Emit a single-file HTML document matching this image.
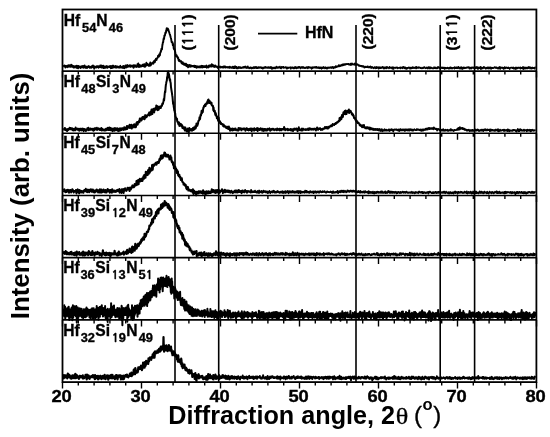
<!DOCTYPE html>
<html><head><meta charset="utf-8"><title>XRD</title>
<style>html,body{margin:0;padding:0;background:#fff;width:550px;height:437px;overflow:hidden}svg{display:block}.s{stroke:#000;stroke-width:0.35px}</style>
</head><body>
<svg width="550" height="437" viewBox="0 0 550 437" font-family="'Liberation Sans', Arial, sans-serif" font-weight="bold"><path d="M63.3 66.0L63.6 66.3 63.9 65.9 64.2 65.5 64.5 65.9 64.8 65.6 65.1 66.4 65.4 67.5 65.7 66.1 66.0 66.0 66.3 66.9 66.6 66.8 66.9 66.6 67.2 65.8 67.5 66.6 67.8 67.2 68.1 65.5 68.4 66.3 68.7 65.1 69.0 65.6 69.3 65.2 69.6 66.5 69.9 65.7 70.2 66.9 70.5 66.8 70.8 66.6 71.1 64.7 71.4 66.3 71.7 66.7 72.0 66.8 72.3 65.5 72.6 66.4 72.9 66.0 73.2 66.1 73.5 67.6 73.8 66.1 74.1 66.8 74.4 67.5 74.7 66.3 75.0 66.7 75.3 66.9 75.6 66.9 75.9 65.9 76.2 66.9 76.5 67.9 76.8 65.6 77.1 67.5 77.4 66.9 77.7 66.3 78.0 68.4 78.3 67.4 78.6 65.9 78.9 66.9 79.2 67.3 79.5 66.7 79.8 67.4 80.1 66.8 80.4 67.4 80.7 68.0 81.0 66.4 81.3 67.0 81.6 66.5 81.9 67.0 82.2 66.0 82.5 66.4 82.8 66.7 83.1 67.6 83.4 67.8 83.7 65.9 84.0 66.3 84.3 67.4 84.6 65.4 84.9 66.6 85.2 66.8 85.5 67.9 85.8 67.5 86.1 66.7 86.4 66.6 86.7 66.7 87.0 68.1 87.3 66.6 87.6 66.7 87.9 67.2 88.2 66.9 88.5 66.8 88.8 66.1 89.1 66.9 89.4 66.6 89.7 67.9 90.0 67.5 90.3 66.9 90.6 67.5 90.9 66.7 91.2 67.8 91.5 67.0 91.8 67.4 92.1 66.0 92.4 67.2 92.7 65.7 93.0 65.4 93.3 66.7 93.6 66.3 93.9 67.1 94.2 68.7 94.5 66.4 94.8 66.5 95.1 67.1 95.4 67.4 95.7 66.9 96.0 66.8 96.3 67.5 96.6 67.4 96.9 66.2 97.2 66.9 97.5 67.0 97.8 66.2 98.1 67.2 98.4 66.3 98.7 67.7 99.0 67.1 99.3 67.1 99.6 66.6 99.9 66.9 100.2 65.5 100.5 66.1 100.8 67.3 101.1 65.4 101.4 67.6 101.7 65.7 102.0 67.6 102.3 66.4 102.6 67.6 102.9 67.1 103.2 65.8 103.5 67.9 103.8 68.1 104.1 66.9 104.4 66.8 104.7 66.9 105.0 66.3 105.3 67.8 105.6 66.6 105.9 67.0 106.2 66.4 106.5 66.5 106.8 66.0 107.1 67.9 107.4 66.9 107.7 67.7 108.0 67.0 108.3 66.5 108.6 66.7 108.9 66.6 109.2 67.0 109.5 66.7 109.8 66.7 110.1 65.9 110.4 66.4 110.7 68.2 111.0 66.5 111.3 66.2 111.6 67.2 111.9 68.0 112.2 65.9 112.5 66.8 112.8 66.5 113.1 65.6 113.4 67.5 113.7 66.9 114.0 67.0 114.3 66.4 114.6 67.3 114.9 66.5 115.2 66.8 115.5 66.1 115.8 66.0 116.1 67.9 116.4 66.5 116.7 67.2 117.0 66.9 117.3 66.6 117.6 66.5 117.9 67.4 118.2 66.7 118.5 66.8 118.8 66.9 119.1 67.8 119.4 67.4 119.7 67.2 120.0 66.5 120.3 65.8 120.6 67.6 120.9 67.6 121.2 66.8 121.5 67.3 121.8 67.5 122.1 67.5 122.4 67.6 122.7 66.5 123.0 68.0 123.3 65.9 123.6 67.5 123.9 67.2 124.2 67.5 124.5 68.2 124.8 67.9 125.1 65.9 125.4 65.4 125.7 67.4 126.0 65.9 126.3 66.7 126.6 67.4 126.9 65.4 127.2 65.0 127.5 66.9 127.8 66.7 128.1 66.4 128.4 66.6 128.7 65.9 129.0 65.4 129.3 66.4 129.6 65.8 129.9 65.2 130.2 66.9 130.5 66.4 130.8 66.8 131.1 65.7 131.4 65.9 131.7 65.6 132.0 65.7 132.3 66.5 132.6 65.7 132.9 66.6 133.2 66.6 133.5 67.9 133.8 65.2 134.1 67.0 134.4 66.2 134.7 66.2 135.0 65.1 135.3 65.8 135.6 66.7 135.9 66.1 136.2 66.2 136.5 65.9 136.8 67.0 137.1 66.0 137.4 64.3 137.7 65.5 138.0 64.4 138.3 63.4 138.6 65.5 138.9 67.0 139.2 65.9 139.5 64.9 139.8 65.1 140.1 66.7 140.4 65.9 140.7 65.8 141.0 65.7 141.3 65.8 141.6 66.4 141.9 66.1 142.2 65.8 142.5 64.7 142.8 66.0 143.1 65.0 143.4 66.4 143.7 64.4 144.0 65.3 144.3 65.4 144.6 64.2 144.9 66.8 145.2 66.5 145.5 64.8 145.8 65.8 146.1 65.5 146.4 62.8 146.7 65.3 147.0 64.9 147.3 65.0 147.6 63.9 147.9 64.6 148.2 64.6 148.5 65.8 148.8 64.9 149.1 64.6 149.4 65.9 149.7 63.9 150.0 63.9 150.3 62.5 150.6 65.5 150.9 64.8 151.2 64.6 151.5 64.2 151.8 63.5 152.1 63.4 152.4 62.7 152.7 62.5 153.0 62.5 153.3 63.7 153.6 62.5 153.9 61.7 154.2 60.9 154.5 60.6 154.8 62.4 155.1 61.1 155.4 60.4 155.7 59.7 156.0 58.6 156.3 59.3 156.6 59.9 156.9 58.4 157.2 58.2 157.5 57.8 157.8 57.7 158.1 55.6 158.4 56.4 158.7 55.3 159.0 56.5 159.3 54.3 159.6 55.1 159.9 55.4 160.2 52.9 160.5 51.9 160.8 51.9 161.1 50.8 161.4 48.8 161.7 49.0 162.0 49.3 162.3 45.7 162.6 44.3 162.9 42.1 163.2 42.1 163.5 39.2 163.8 38.1 164.1 39.0 164.4 35.4 164.7 35.9 165.0 35.1 165.3 32.8 165.6 32.3 165.9 32.9 166.2 30.2 166.5 29.2 166.8 28.1 167.1 29.1 167.4 30.4 167.7 30.1 168.0 28.8 168.3 29.4 168.6 30.4 168.9 31.8 169.2 32.1 169.5 33.4 169.8 34.4 170.1 35.0 170.4 36.3 170.7 37.5 171.0 38.3 171.3 39.9 171.6 42.2 171.9 42.1 172.2 42.6 172.5 42.2 172.8 45.1 173.1 44.0 173.4 45.5 173.7 48.4 174.0 49.2 174.3 49.4 174.6 49.1 174.9 51.1 175.2 51.8 175.5 53.8 175.8 56.0 176.1 55.1 176.4 55.0 176.7 55.3 177.0 56.7 177.3 57.1 177.6 56.8 177.9 58.4 178.2 57.8 178.5 60.1 178.8 60.4 179.1 60.9 179.4 60.0 179.7 61.2 180.0 61.0 180.3 61.2 180.6 61.5 180.9 61.1 181.2 61.2 181.5 63.1 181.8 62.6 182.1 63.1 182.4 63.9 182.7 62.1 183.0 62.9 183.3 63.8 183.6 64.1 183.9 63.7 184.2 64.9 184.5 64.4 184.8 63.6 185.1 63.9 185.4 65.3 185.7 65.1 186.0 63.7 186.3 66.0 186.6 65.6 186.9 66.2 187.2 65.1 187.5 65.3 187.8 64.8 188.1 67.3 188.4 65.6 188.7 66.8 189.0 65.5 189.3 66.0 189.6 65.0 189.9 65.8 190.2 66.6 190.5 65.4 190.8 66.8 191.1 66.4 191.4 65.6 191.7 66.0 192.0 66.0 192.3 66.3 192.6 66.1 192.9 65.9 193.2 66.3 193.5 65.9 193.8 65.8 194.1 66.5 194.4 67.1 194.7 65.7 195.0 66.7 195.3 66.3 195.6 66.1 195.9 67.2 196.2 66.4 196.5 67.7 196.8 66.3 197.1 67.0 197.4 66.7 197.7 66.4 198.0 67.2 198.3 66.8 198.6 67.2 198.9 66.9 199.2 66.3 199.5 66.8 199.8 66.9 200.1 67.5 200.4 66.4 200.7 66.9 201.0 65.9 201.3 67.3 201.6 66.3 201.9 65.8 202.2 66.8 202.5 67.5 202.8 66.0 203.1 66.2 203.4 66.4 203.7 66.2 204.0 67.0 204.3 66.3 204.6 66.3 204.9 67.1 205.2 66.3 205.5 66.9 205.8 66.1 206.1 66.0 206.4 65.6 206.7 67.7 207.0 66.4 207.3 66.7 207.6 66.5 207.9 66.6 208.2 66.5 208.5 67.4 208.8 65.7 209.1 65.4 209.4 65.6 209.7 65.4 210.0 66.5 210.3 66.4 210.6 65.4 210.9 65.1 211.2 65.7 211.5 66.6 211.8 64.2 212.1 66.1 212.4 65.2 212.7 66.4 213.0 65.3 213.3 65.8 213.6 65.2 213.9 65.6 214.2 67.0 214.5 66.8 214.8 66.2 215.1 66.1 215.4 65.6 215.7 66.5 216.0 66.8 216.3 66.9 216.6 66.9 216.9 66.4 217.2 67.0 217.5 67.0 217.8 67.8 218.1 68.1 218.4 67.0 218.7 66.7 219.0 67.1 219.3 66.8 219.6 66.8 219.9 67.2 220.2 66.6 220.5 67.5 220.8 67.2 221.1 67.4 221.4 67.2 221.7 66.9 222.0 66.8 222.3 67.2 222.6 67.0 222.9 67.5 223.2 67.3 223.5 66.6 223.8 67.4 224.1 66.7 224.4 67.1 224.7 67.2 225.0 66.3 225.3 67.5 225.6 67.5 225.9 67.4 226.2 67.2 226.5 67.3 226.8 67.0 227.1 67.3 227.4 67.2 227.7 67.5 228.0 66.9 228.3 67.6 228.6 67.6 228.9 67.4 229.2 67.3 229.5 67.8 229.8 66.6 230.1 67.7 230.4 67.6 230.7 67.6 231.0 67.7 231.3 67.2 231.6 67.4 231.9 67.8 232.2 67.7 232.5 67.6 232.8 66.7 233.1 67.8 233.4 68.1 233.7 68.0 234.0 67.6 234.3 66.7 234.6 68.0 234.9 67.4 235.2 66.3 235.5 67.7 235.8 66.8 236.1 66.9 236.4 67.2 236.7 68.2 237.0 67.3 237.3 67.7 237.6 68.4 237.9 68.3 238.2 67.5 238.5 67.4 238.8 66.9 239.1 67.2 239.4 67.8 239.7 67.7 240.0 67.6" fill="none" stroke="#000" stroke-width="1.90" stroke-linejoin="round"/>
<path d="M239.7 67.7L240.0 67.6 240.3 68.0 240.6 67.2 240.9 67.5 241.2 67.9 241.5 67.8 241.8 68.1 242.1 67.7 242.4 67.4 242.7 67.7 243.0 67.1 243.3 66.8 243.6 67.8 243.9 67.5 244.2 67.7 244.5 66.7 244.8 67.4 245.1 67.3 245.4 67.2 245.7 66.5 246.0 67.4 246.3 68.0 246.6 67.8 246.9 67.3 247.2 67.6 247.5 67.9 247.8 66.3 248.1 67.5 248.4 67.8 248.7 67.9 249.0 68.4 249.3 68.1 249.6 67.7 249.9 67.7 250.2 68.0 250.5 67.3 250.8 67.6 251.1 68.0 251.4 68.5 251.7 67.5 252.0 67.6 252.3 67.7 252.6 68.2 252.9 67.6 253.2 68.3 253.5 67.1 253.8 67.5 254.1 67.5 254.4 68.0 254.7 68.1 255.0 66.9 255.3 67.2 255.6 67.8 255.9 67.3 256.2 66.9 256.5 68.1 256.8 67.8 257.1 67.8 257.4 67.4 257.7 68.1 258.0 67.5 258.3 68.1 258.6 67.2 258.9 67.2 259.2 67.7 259.5 67.3 259.8 67.9 260.1 67.7 260.4 67.2 260.7 67.7 261.0 67.5 261.3 68.0 261.6 67.3 261.9 67.4 262.2 68.2 262.5 68.6 262.8 68.5 263.1 67.7 263.4 67.7 263.7 68.3 264.0 67.6 264.3 67.2 264.6 67.7 264.9 67.8 265.2 67.3 265.5 66.9 265.8 67.0 266.1 67.9 266.4 67.3 266.7 67.6 267.0 67.7 267.3 67.9 267.6 67.5 267.9 67.9 268.2 67.2 268.5 67.5 268.8 67.2 269.1 68.1 269.4 67.6 269.7 67.3 270.0 67.5 270.3 67.5 270.6 68.0 270.9 66.9 271.2 67.2 271.5 67.5 271.8 68.8 272.1 68.1 272.4 67.6 272.7 68.0 273.0 68.6 273.3 67.5 273.6 67.5 273.9 68.2 274.2 67.9 274.5 68.0 274.8 67.4 275.1 68.5 275.4 68.4 275.7 67.9 276.0 68.0 276.3 66.7 276.6 67.9 276.9 67.6 277.2 67.9 277.5 68.0 277.8 67.5 278.1 66.9 278.4 67.8 278.7 67.3 279.0 67.5 279.3 67.4 279.6 67.5 279.9 66.6 280.2 68.2 280.5 67.8 280.8 68.2 281.1 68.5 281.4 67.7 281.7 66.9 282.0 67.3 282.3 67.1 282.6 67.4 282.9 67.7 283.2 66.8 283.5 67.8 283.8 67.0 284.1 67.8 284.4 67.6 284.7 67.5 285.0 67.6 285.3 67.4 285.6 67.4 285.9 66.9 286.2 67.7 286.5 68.5 286.8 68.6 287.1 68.3 287.4 68.0 287.7 67.4 288.0 68.3 288.3 67.6 288.6 67.6 288.9 67.5 289.2 67.7 289.5 67.5 289.8 67.6 290.1 67.2 290.4 67.5 290.7 68.7 291.0 67.6 291.3 67.6 291.6 67.9 291.9 68.0 292.2 67.2 292.5 67.6 292.8 68.1 293.1 67.8 293.4 67.7 293.7 68.4 294.0 67.4 294.3 67.7 294.6 67.5 294.9 68.3 295.2 66.8 295.5 67.4 295.8 67.4 296.1 68.0 296.4 68.0 296.7 68.3 297.0 67.0 297.3 68.0 297.6 67.6 297.9 67.4 298.2 67.9 298.5 67.3 298.8 66.8 299.1 67.5 299.4 67.0 299.7 67.4 300.0 67.9 300.3 67.8 300.6 68.4 300.9 67.6 301.2 67.0 301.5 67.4 301.8 67.3 302.1 67.2 302.4 67.9 302.7 67.4 303.0 66.8 303.3 68.0 303.6 67.6 303.9 67.8 304.2 67.7 304.5 68.0 304.8 67.7 305.1 68.2 305.4 67.9 305.7 67.9 306.0 67.9 306.3 67.0 306.6 67.6 306.9 67.6 307.2 67.8 307.5 67.1 307.8 68.4 308.1 67.7 308.4 67.2 308.7 66.9 309.0 67.6 309.3 67.7 309.6 67.4 309.9 67.7 310.2 67.4 310.5 67.9 310.8 67.4 311.1 67.7 311.4 68.1 311.7 68.8 312.0 67.3 312.3 67.5 312.6 67.3 312.9 68.0 313.2 67.2 313.5 67.5 313.8 67.7 314.1 67.3 314.4 67.3 314.7 67.5 315.0 66.8 315.3 67.1 315.6 67.5 315.9 67.8 316.2 67.6 316.5 66.9 316.8 67.5 317.1 68.0 317.4 67.9 317.7 67.7 318.0 67.3 318.3 68.0 318.6 67.4 318.9 67.2 319.2 67.3 319.5 68.3 319.8 67.8 320.1 68.2 320.4 67.5 320.7 68.1 321.0 67.4 321.3 67.6 321.6 68.8 321.9 68.0 322.2 67.5 322.5 67.7 322.8 67.8 323.1 68.2 323.4 67.5 323.7 66.9 324.0 67.6 324.3 67.7 324.6 67.7 324.9 68.3 325.2 67.8 325.5 68.1 325.8 67.2 326.1 68.1 326.4 68.6 326.7 68.0 327.0 67.8 327.3 67.8 327.6 68.5 327.9 67.3 328.2 67.7 328.5 67.9 328.8 68.0 329.1 67.5 329.4 67.8 329.7 67.6 330.0 67.8 330.3 67.6 330.6 67.2 330.9 67.7 331.2 68.0 331.5 67.2 331.8 67.5 332.1 67.8 332.4 67.0 332.7 67.5 333.0 66.9 333.3 67.8 333.6 68.3 333.9 68.1 334.2 67.0 334.5 67.4 334.8 67.0 335.1 67.0 335.4 67.5 335.7 66.2 336.0 67.1 336.3 66.6 336.6 67.1 336.9 66.5 337.2 66.1 337.5 66.4 337.8 66.6 338.1 66.2 338.4 66.3 338.7 65.8 339.0 65.0 339.3 66.3 339.6 66.1 339.9 65.8 340.2 65.6 340.5 66.0 340.8 65.2 341.1 65.0 341.4 65.2 341.7 65.7 342.0 64.5 342.3 65.5 342.6 64.6 342.9 64.3 343.2 65.3 343.5 64.6 343.8 64.1 344.1 64.4 344.4 64.9 344.7 65.0 345.0 64.2 345.3 64.6 345.6 64.6 345.9 64.0 346.2 64.4 346.5 64.2 346.8 63.9 347.1 63.9 347.4 64.1 347.7 64.1 348.0 63.8 348.3 63.8 348.6 64.5 348.9 64.1 349.2 64.4 349.5 64.5 349.8 64.3 350.1 65.0 350.4 63.7 350.7 64.4 351.0 63.9 351.3 64.9 351.6 64.8 351.9 63.3 352.2 63.7 352.5 64.4 352.8 64.5 353.1 64.5 353.4 64.2 353.7 64.5 354.0 64.6 354.3 64.3 354.6 64.8 354.9 63.4 355.2 64.7 355.5 64.0 355.8 64.9 356.1 64.4 356.4 64.2 356.7 64.8 357.0 64.3 357.3 64.4 357.6 64.2 357.9 64.9 358.2 65.2 358.5 65.6 358.8 65.2 359.1 65.8 359.4 65.4 359.7 65.5 360.0 65.9 360.3 66.2 360.6 65.7 360.9 65.8 361.2 65.9 361.5 66.1 361.8 65.8 362.1 66.7 362.4 66.1 362.7 66.5 363.0 66.0 363.3 66.6 363.6 66.7 363.9 66.4 364.2 67.5 364.5 66.9 364.8 67.5 365.1 67.2 365.4 66.6 365.7 66.7 366.0 67.1 366.3 67.0 366.6 67.1 366.9 67.0 367.2 66.4 367.5 67.1 367.8 66.3 368.1 67.4 368.4 67.0 368.7 67.0 369.0 67.2 369.3 67.5 369.6 66.8 369.9 66.6 370.2 66.9 370.5 66.5 370.8 67.0 371.1 68.1 371.4 67.0 371.7 67.7 372.0 66.9 372.3 67.6 372.6 67.4 372.9 67.5 373.2 67.8 373.5 68.3 373.8 67.6 374.1 67.6 374.4 67.1 374.7 67.8 375.0 67.5 375.3 67.9 375.6 67.6 375.9 68.3 376.2 66.8 376.5 67.5 376.8 68.0 377.1 67.5 377.4 67.3 377.7 67.5 378.0 67.1 378.3 67.7 378.6 68.7 378.9 68.2 379.2 67.2 379.5 67.3 379.8 67.5 380.1 68.1 380.4 67.4 380.7 67.4 381.0 68.1 381.3 68.1 381.6 67.6 381.9 67.3 382.2 67.1 382.5 67.4 382.8 66.8 383.1 68.1 383.4 67.5 383.7 68.0 384.0 68.6 384.3 68.3 384.6 67.3 384.9 68.1 385.2 68.3 385.5 67.5 385.8 67.4 386.1 67.7 386.4 67.1 386.7 68.4 387.0 66.8 387.3 67.3 387.6 67.7 387.9 67.7 388.2 67.9 388.5 67.9 388.8 67.7 389.1 68.3 389.4 66.9 389.7 67.8 390.0 67.5 390.3 67.9 390.6 67.9 390.9 67.4 391.2 67.5 391.5 68.1 391.8 68.0 392.1 67.5 392.4 68.7 392.7 68.8 393.0 67.2 393.3 67.9 393.6 68.9 393.9 68.1 394.2 67.9 394.5 67.7 394.8 67.6 395.1 67.7 395.4 67.6 395.7 68.1 396.0 67.6 396.3 67.6 396.6 67.3 396.9 67.8 397.2 67.4 397.5 67.7 397.8 68.3 398.1 68.0 398.4 68.0 398.7 68.0 399.0 67.8 399.3 67.8 399.6 67.7 399.9 68.1 400.2 67.4 400.5 68.4 400.8 67.8 401.1 67.5 401.4 67.6 401.7 67.5 402.0 67.9 402.3 67.5 402.6 68.3 402.9 67.5 403.2 66.9 403.5 67.5 403.8 67.0 404.1 67.8 404.4 68.3 404.7 68.1 405.0 67.3 405.3 67.5 405.6 68.6 405.9 68.0 406.2 67.8 406.5 68.3 406.8 68.9 407.1 68.4 407.4 67.9 407.7 68.0 408.0 68.1 408.3 67.6 408.6 67.4 408.9 67.9 409.2 67.4 409.5 67.8 409.8 67.9 410.1 68.8 410.4 67.5 410.7 67.8 411.0 67.8 411.3 68.0 411.6 68.3 411.9 67.6 412.2 67.5 412.5 67.1 412.8 67.4 413.1 68.1 413.4 67.9 413.7 67.4 414.0 67.7 414.3 67.8 414.6 68.0 414.9 67.6 415.2 67.7 415.5 67.1 415.8 67.4 416.1 68.5 416.4 66.9 416.7 67.7 417.0 67.9 417.3 67.7 417.6 67.5 417.9 67.8 418.2 67.8 418.5 67.8 418.8 67.1 419.1 67.8 419.4 67.5 419.7 67.6 420.0 67.9 420.3 68.1 420.6 68.2 420.9 67.6 421.2 68.2 421.5 68.3 421.8 68.3 422.1 68.4 422.4 67.8 422.7 67.8 423.0 68.2 423.3 67.3 423.6 67.9 423.9 67.6 424.2 67.7 424.5 67.1 424.8 67.5 425.1 67.8 425.4 68.2 425.7 68.3 426.0 67.8 426.3 67.8 426.6 67.5 426.9 68.0 427.2 67.7 427.5 68.1 427.8 68.6 428.1 67.8 428.4 67.2 428.7 67.5 429.0 67.2 429.3 67.4 429.6 68.4 429.9 67.9 430.2 67.2 430.5 68.1 430.8 68.4 431.1 67.7 431.4 67.6 431.7 67.7 432.0 68.0 432.3 68.1 432.6 68.4 432.9 68.4 433.2 68.4 433.5 68.4 433.8 68.1 434.1 67.2 434.4 67.8 434.7 68.0 435.0 67.7 435.3 68.2 435.6 67.7 435.9 67.5 436.2 68.5 436.5 68.1 436.8 68.0 437.1 68.2 437.4 68.3 437.7 68.0 438.0 66.8 438.3 67.6 438.6 67.7 438.9 67.5 439.2 67.9 439.5 68.4 439.8 67.7 440.1 67.4 440.4 68.7 440.7 67.7 441.0 67.4 441.3 68.0 441.6 68.0 441.9 67.6 442.2 68.2 442.5 67.7 442.8 67.5 443.1 67.9 443.4 68.2 443.7 67.6 444.0 68.0 444.3 67.8 444.6 69.0 444.9 67.6 445.2 68.4 445.5 67.8 445.8 67.8 446.1 68.2 446.4 68.2 446.7 68.4 447.0 68.0 447.3 67.6 447.6 67.6 447.9 68.1 448.2 68.1 448.5 68.5 448.8 68.0 449.1 68.3 449.4 68.5 449.7 67.9 450.0 67.3 450.3 67.4 450.6 67.3 450.9 68.5 451.2 67.5 451.5 68.4 451.8 68.1 452.1 68.6 452.4 68.3 452.7 67.8 453.0 67.8 453.3 67.9 453.6 67.9 453.9 67.7 454.2 67.9 454.5 68.5 454.8 67.2 455.1 68.0 455.4 67.5 455.7 68.0 456.0 68.2 456.3 67.9 456.6 68.2 456.9 67.2 457.2 68.3 457.5 67.6 457.8 68.1 458.1 68.0 458.4 66.8 458.7 67.6 459.0 68.0 459.3 68.5 459.6 68.0 459.9 68.0 460.2 67.3 460.5 68.5 460.8 68.6 461.1 67.9 461.4 67.8 461.7 67.2 462.0 68.2 462.3 69.0 462.6 68.2 462.9 68.4 463.2 68.1 463.5 67.5 463.8 68.4 464.1 67.4 464.4 67.8 464.7 68.0 465.0 68.2 465.3 68.1 465.6 68.0 465.9 67.6 466.2 67.4 466.5 67.9 466.8 67.6 467.1 67.3 467.4 67.4 467.7 67.7 468.0 67.1 468.3 67.3 468.6 67.2 468.9 68.0 469.2 68.1 469.5 68.7 469.8 67.3 470.1 67.6 470.4 68.3 470.7 67.8 471.0 67.8 471.3 68.6 471.6 67.7 471.9 67.4 472.2 67.3 472.5 68.0 472.8 68.0 473.1 67.3 473.4 67.5 473.7 68.1 474.0 68.1 474.3 67.6 474.6 68.1 474.9 68.1 475.2 67.2 475.5 67.8 475.8 68.1 476.1 67.7 476.4 67.0 476.7 67.8 477.0 68.2 477.3 68.5 477.6 67.0 477.9 69.0 478.2 67.4 478.5 68.3 478.8 68.4 479.1 68.3 479.4 68.0 479.7 67.4 480.0 68.1 480.3 67.6 480.6 66.9 480.9 69.1 481.2 68.2 481.5 68.6 481.8 67.5 482.1 68.5 482.4 68.5 482.7 68.5 483.0 67.9 483.3 67.4 483.6 67.8 483.9 67.0 484.2 67.2 484.5 67.9 484.8 67.5 485.1 67.8 485.4 67.8 485.7 68.7 486.0 68.4 486.3 67.9 486.6 68.4 486.9 67.6 487.2 67.8 487.5 68.3 487.8 67.4 488.1 67.8 488.4 67.4 488.7 67.9 489.0 68.6 489.3 67.6 489.6 68.0 489.9 67.5 490.2 67.4 490.5 67.4 490.8 68.5 491.1 68.9 491.4 68.1 491.7 67.6 492.0 68.2 492.3 67.8 492.6 68.2 492.9 68.0 493.2 68.0 493.5 68.1 493.8 67.7 494.1 67.7 494.4 67.2 494.7 67.7 495.0 67.3 495.3 67.8 495.6 67.5 495.9 67.9 496.2 68.1 496.5 67.3 496.8 67.6 497.1 67.5 497.4 68.2 497.7 68.6 498.0 68.2 498.3 67.8 498.6 68.5 498.9 67.3 499.2 68.5 499.5 67.6 499.8 66.8 500.1 69.0 500.4 68.5 500.7 67.5 501.0 68.0 501.3 67.8 501.6 67.9 501.9 67.3 502.2 67.6 502.5 68.1 502.8 68.0 503.1 68.4 503.4 67.9 503.7 68.9 504.0 67.6 504.3 68.0 504.6 67.1 504.9 67.4 505.2 68.4 505.5 67.5 505.8 68.1 506.1 67.9 506.4 67.5 506.7 67.8 507.0 67.7 507.3 67.7 507.6 68.2 507.9 68.2 508.2 67.7 508.5 67.5 508.8 68.0 509.1 67.9 509.4 68.3 509.7 69.0 510.0 68.2 510.3 67.9 510.6 67.8 510.9 67.6 511.2 67.5 511.5 67.5 511.8 67.7 512.1 67.7 512.4 68.2 512.7 67.7 513.0 67.8 513.3 67.4 513.6 68.6 513.9 68.1 514.2 68.6 514.5 68.2 514.8 68.5 515.1 67.8 515.4 68.2 515.7 69.0 516.0 67.4 516.3 68.4 516.6 68.6 516.9 68.1 517.2 68.2 517.5 68.4 517.8 67.6 518.1 68.1 518.4 67.5 518.7 67.6 519.0 67.6 519.3 67.8 519.6 68.0 519.9 68.1 520.2 67.3 520.5 68.7 520.8 68.4 521.1 68.2 521.4 67.8 521.7 67.9 522.0 68.1 522.3 68.1 522.6 67.2 522.9 68.2 523.2 69.1 523.5 67.1 523.8 68.3 524.1 68.1 524.4 67.9 524.7 68.5 525.0 67.4 525.3 68.0 525.6 68.5 525.9 67.8 526.2 67.7 526.5 67.9 526.8 67.7 527.1 68.5 527.4 67.5 527.7 68.3 528.0 67.4 528.3 68.2 528.6 67.9 528.9 66.8 529.2 67.9 529.5 67.5 529.8 67.7 530.1 68.5 530.4 67.4 530.7 67.5 531.0 68.5 531.3 67.9 531.6 68.5 531.9 68.0 532.2 67.5 532.5 67.9 532.8 68.4 533.1 68.3 533.4 67.9 533.7 67.9 534.0 67.9 534.3 67.7 534.6 68.7 534.9 67.9 535.2 67.4 535.5 67.7" fill="none" stroke="#000" stroke-width="1.70" stroke-linejoin="round"/>
<path d="M63.3 129.9L63.6 129.8 63.9 129.2 64.2 128.8 64.5 129.3 64.8 128.0 65.1 128.3 65.4 130.0 65.7 129.0 66.0 129.7 66.3 130.4 66.6 129.9 66.9 129.4 67.2 131.1 67.5 129.9 67.8 129.1 68.1 130.0 68.4 129.7 68.7 128.7 69.0 129.4 69.3 129.3 69.6 127.8 69.9 129.3 70.2 129.2 70.5 129.0 70.8 128.0 71.1 129.1 71.4 129.4 71.7 129.5 72.0 128.5 72.3 129.9 72.6 128.4 72.9 129.2 73.2 130.5 73.5 128.9 73.8 129.0 74.1 130.3 74.4 129.1 74.7 129.2 75.0 129.6 75.3 130.3 75.6 127.6 75.9 128.8 76.2 128.6 76.5 128.6 76.8 128.7 77.1 128.8 77.4 129.7 77.7 128.7 78.0 129.6 78.3 129.8 78.6 128.9 78.9 129.6 79.2 130.8 79.5 129.7 79.8 128.9 80.1 129.4 80.4 128.7 80.7 129.7 81.0 130.2 81.3 128.8 81.6 129.3 81.9 130.4 82.2 129.1 82.5 129.6 82.8 128.6 83.1 128.8 83.4 129.1 83.7 131.2 84.0 129.2 84.3 129.1 84.6 129.0 84.9 129.4 85.2 130.0 85.5 129.6 85.8 131.1 86.1 129.7 86.4 130.6 86.7 129.7 87.0 130.0 87.3 128.3 87.6 129.4 87.9 129.4 88.2 129.3 88.5 127.8 88.8 130.2 89.1 129.2 89.4 129.1 89.7 129.3 90.0 129.3 90.3 129.8 90.6 128.5 90.9 128.8 91.2 129.7 91.5 129.6 91.8 129.2 92.1 129.0 92.4 128.8 92.7 129.5 93.0 130.4 93.3 128.7 93.6 130.7 93.9 130.2 94.2 129.1 94.5 130.1 94.8 128.3 95.1 128.1 95.4 128.5 95.7 129.2 96.0 129.2 96.3 129.1 96.6 129.6 96.9 127.8 97.2 129.9 97.5 128.4 97.8 129.0 98.1 129.2 98.4 128.6 98.7 128.4 99.0 128.7 99.3 129.5 99.6 130.0 99.9 130.0 100.2 128.7 100.5 128.9 100.8 128.8 101.1 129.9 101.4 127.9 101.7 130.5 102.0 129.1 102.3 128.9 102.6 129.8 102.9 130.3 103.2 129.8 103.5 130.3 103.8 129.6 104.1 130.5 104.4 130.5 104.7 129.4 105.0 130.6 105.3 129.6 105.6 129.6 105.9 128.7 106.2 129.3 106.5 130.1 106.8 128.4 107.1 130.0 107.4 129.8 107.7 129.7 108.0 127.7 108.3 129.4 108.6 130.0 108.9 128.9 109.2 129.5 109.5 127.6 109.8 130.0 110.1 128.9 110.4 130.2 110.7 128.0 111.0 130.0 111.3 129.3 111.6 130.1 111.9 128.7 112.2 128.9 112.5 131.2 112.8 128.8 113.1 128.9 113.4 129.2 113.7 128.6 114.0 130.4 114.3 130.8 114.6 128.8 114.9 128.0 115.2 130.3 115.5 130.3 115.8 130.0 116.1 130.3 116.4 128.7 116.7 129.2 117.0 128.3 117.3 128.2 117.6 130.1 117.9 128.8 118.2 131.2 118.5 129.4 118.8 128.8 119.1 130.0 119.4 130.8 119.7 129.7 120.0 128.3 120.3 129.6 120.6 130.4 120.9 128.8 121.2 128.6 121.5 130.1 121.8 129.3 122.1 128.2 122.4 128.7 122.7 128.3 123.0 129.2 123.3 129.0 123.6 129.9 123.9 129.5 124.2 127.3 124.5 129.1 124.8 129.5 125.1 129.0 125.4 129.5 125.7 127.9 126.0 127.4 126.3 129.2 126.6 127.1 126.9 125.9 127.2 129.1 127.5 127.2 127.8 127.5 128.1 126.3 128.4 126.2 128.7 126.3 129.0 127.1 129.3 127.8 129.6 124.7 129.9 128.0 130.2 125.7 130.5 125.7 130.8 127.6 131.1 126.6 131.4 124.7 131.7 128.6 132.0 125.2 132.3 126.4 132.6 126.2 132.9 127.6 133.2 125.2 133.5 126.8 133.8 124.5 134.1 126.7 134.4 124.2 134.7 124.5 135.0 127.3 135.3 125.1 135.6 124.6 135.9 127.2 136.2 124.6 136.5 122.8 136.8 124.7 137.1 121.9 137.4 124.7 137.7 124.6 138.0 122.0 138.3 121.7 138.6 122.5 138.9 122.0 139.2 120.4 139.5 122.2 139.8 118.5 140.1 120.4 140.4 120.1 140.7 120.0 141.0 120.5 141.3 118.2 141.6 120.4 141.9 119.1 142.2 118.2 142.5 116.9 142.8 116.9 143.1 118.8 143.4 116.7 143.7 117.9 144.0 119.0 144.3 118.7 144.6 119.2 144.9 116.4 145.2 115.1 145.5 117.7 145.8 116.5 146.1 117.3 146.4 115.5 146.7 116.9 147.0 116.2 147.3 115.8 147.6 115.2 147.9 114.8 148.2 114.3 148.5 114.1 148.8 114.9 149.1 112.5 149.4 115.4 149.7 112.6 150.0 113.9 150.3 112.2 150.6 111.7 150.9 114.7 151.2 111.2 151.5 109.6 151.8 110.2 152.1 110.6 152.4 113.9 152.7 110.9 153.0 111.8 153.3 108.8 153.6 110.6 153.9 110.9 154.2 112.4 154.5 108.7 154.8 110.4 155.1 109.8 155.4 107.8 155.7 109.1 156.0 108.6 156.3 105.4 156.6 109.6 156.9 109.3 157.2 107.7 157.5 106.2 157.8 110.2 158.1 108.3 158.4 109.2 158.7 109.7 159.0 106.7 159.3 108.5 159.6 106.8 159.9 106.9 160.2 106.7 160.5 106.6 160.8 108.1 161.1 106.4 161.4 105.7 161.7 105.2 162.0 105.8 162.3 103.6 162.6 103.8 162.9 104.0 163.2 102.3 163.5 101.5 163.8 98.9 164.1 100.5 164.4 97.4 164.7 94.0 165.0 91.3 165.3 92.2 165.6 87.4 165.9 84.7 166.2 83.2 166.5 81.4 166.8 80.8 167.1 77.0 167.4 78.0 167.7 72.7 168.0 73.9 168.3 71.6 168.6 75.6 168.9 73.9 169.2 75.6 169.5 78.3 169.8 80.3 170.1 79.1 170.4 82.0 170.7 83.1 171.0 87.2 171.3 89.2 171.6 91.0 171.9 92.8 172.2 95.2 172.5 97.0 172.8 100.5 173.1 103.8 173.4 102.3 173.7 106.5 174.0 108.1 174.3 110.7 174.6 110.6 174.9 113.0 175.2 113.4 175.5 116.6 175.8 117.1 176.1 117.9 176.4 119.5 176.7 119.6 177.0 118.8 177.3 121.7 177.6 121.9 177.9 121.9 178.2 123.6 178.5 124.3 178.8 122.2 179.1 122.9 179.4 125.8 179.7 126.0 180.0 124.0 180.3 123.8 180.6 124.7 180.9 125.1 181.2 124.2 181.5 126.2 181.8 125.0 182.1 125.3 182.4 127.9 182.7 126.3 183.0 127.2 183.3 128.2 183.6 128.6 183.9 127.5 184.2 128.1 184.5 127.4 184.8 130.4 185.1 129.4 185.4 127.6 185.7 129.0 186.0 130.0 186.3 129.9 186.6 131.5 186.9 131.2 187.2 129.2 187.5 129.8 187.8 128.6 188.1 130.4 188.4 130.3 188.7 133.2 189.0 130.4 189.3 128.0 189.6 129.6 189.9 130.4 190.2 128.9 190.5 129.3 190.8 129.8 191.1 130.5 191.4 129.9 191.7 129.0 192.0 130.7 192.3 129.2 192.6 129.1 192.9 128.0 193.2 128.6 193.5 130.0 193.8 127.4 194.1 128.8 194.4 129.4 194.7 127.8 195.0 128.1 195.3 126.2 195.6 128.4 195.9 127.6 196.2 126.2 196.5 123.4 196.8 123.7 197.1 125.4 197.4 125.7 197.7 123.5 198.0 123.9 198.3 121.2 198.6 121.0 198.9 120.5 199.2 120.2 199.5 117.3 199.8 119.3 200.1 119.0 200.4 115.5 200.7 114.5 201.0 115.6 201.3 113.6 201.6 110.8 201.9 113.4 202.2 111.8 202.5 110.2 202.8 112.2 203.1 109.2 203.4 107.4 203.7 107.7 204.0 105.9 204.3 105.6 204.6 106.3 204.9 104.7 205.2 104.3 205.5 106.1 205.8 104.7 206.1 104.1 206.4 103.3 206.7 102.9 207.0 103.6 207.3 101.6 207.6 103.4 207.9 100.1 208.2 100.8 208.5 99.5 208.8 100.7 209.1 101.8 209.4 103.1 209.7 101.0 210.0 102.2 210.3 102.2 210.6 102.3 210.9 102.3 211.2 104.2 211.5 102.7 211.8 105.3 212.1 105.7 212.4 105.5 212.7 105.7 213.0 106.0 213.3 110.2 213.6 107.5 213.9 111.3 214.2 111.1 214.5 110.8 214.8 110.8 215.1 113.7 215.4 115.0 215.7 113.0 216.0 114.2 216.3 116.2 216.6 116.1 216.9 118.3 217.2 116.5 217.5 118.1 217.8 117.0 218.1 120.7 218.4 118.6 218.7 117.8 219.0 120.2 219.3 120.6 219.6 122.8 219.9 121.2 220.2 121.9 220.5 122.8 220.8 124.0 221.1 122.9 221.4 124.2 221.7 124.1 222.0 123.8 222.3 124.4 222.6 124.6 222.9 124.2 223.2 126.1 223.5 124.4 223.8 126.5 224.1 126.6 224.4 126.1 224.7 125.8 225.0 126.3 225.3 127.0 225.6 127.4 225.9 127.2 226.2 127.9 226.5 127.0 226.8 127.7 227.1 126.6 227.4 128.4 227.7 128.1 228.0 127.9 228.3 129.1 228.6 128.9 228.9 126.6 229.2 128.7 229.5 127.8 229.8 129.7 230.1 130.7 230.4 128.7 230.7 129.2 231.0 129.0 231.3 129.5 231.6 129.7 231.9 130.2 232.2 128.6 232.5 130.4 232.8 128.7 233.1 129.5 233.4 130.1 233.7 129.8 234.0 128.7 234.3 128.8 234.6 129.0 234.9 129.3 235.2 130.1 235.5 128.4 235.8 129.7 236.1 129.8 236.4 129.7 236.7 129.7 237.0 130.4 237.3 129.7 237.6 129.9 237.9 129.7 238.2 130.6 238.5 128.0 238.8 130.2 239.1 129.2 239.4 129.2 239.7 128.7 240.0 128.1 240.3 129.1 240.6 128.9 240.9 129.7 241.2 128.4 241.5 130.3 241.8 129.6 242.1 129.2 242.4 128.9 242.7 128.8 243.0 128.6 243.3 129.0 243.6 129.4 243.9 129.3 244.2 128.4 244.5 129.2 244.8 128.8 245.1 129.5 245.4 130.7 245.7 129.8 246.0 129.2 246.3 128.3 246.6 128.4 246.9 128.3 247.2 129.9 247.5 128.9 247.8 129.4 248.1 129.0 248.4 129.5 248.7 130.4 249.0 128.9 249.3 129.2 249.6 128.9 249.9 130.0 250.2 128.7 250.5 128.6 250.8 128.5 251.1 128.5 251.4 129.7 251.7 131.2 252.0 128.7 252.3 130.1 252.6 129.6 252.9 128.7 253.2 129.2 253.5 129.3 253.8 129.0 254.1 130.7 254.4 128.2 254.7 129.7 255.0 129.7 255.3 129.0 255.6 129.5 255.9 130.0 256.2 129.5 256.5 129.7 256.8 129.9 257.1 128.1 257.4 130.4 257.7 131.0 258.0 130.1 258.3 130.1 258.6 128.5 258.9 129.4 259.2 128.9 259.5 129.1 259.8 130.1 260.1 128.9 260.4 129.4 260.7 128.2 261.0 129.3 261.3 129.5 261.6 129.0 261.9 129.0 262.2 130.7 262.5 128.7 262.8 128.8 263.1 128.9 263.4 130.3 263.7 130.9 264.0 129.7 264.3 129.0 264.6 129.2 264.9 130.2 265.2 128.9 265.5 130.4 265.8 130.4 266.1 129.5 266.4 129.9 266.7 130.0 267.0 130.5 267.3 128.8 267.6 130.3 267.9 129.2 268.2 129.0 268.5 129.5 268.8 129.3 269.1 128.8 269.4 128.4 269.7 128.9 270.0 130.4 270.3 130.8 270.6 129.9 270.9 130.3 271.2 129.1 271.5 129.4 271.8 129.7 272.1 128.8 272.4 128.8 272.7 129.5 273.0 129.3 273.3 128.8 273.6 129.7 273.9 129.3 274.2 130.2 274.5 129.5 274.8 129.3 275.1 129.6 275.4 129.4 275.7 129.1 276.0 129.2 276.3 130.0 276.6 129.9 276.9 130.3 277.2 128.4 277.5 129.2 277.8 129.2 278.1 129.6 278.4 129.2 278.7 129.2 279.0 130.0 279.3 129.6 279.6 128.7 279.9 130.4 280.2 130.1 280.5 129.1 280.8 130.0 281.1 129.0 281.4 130.2 281.7 129.4 282.0 129.0 282.3 129.3 282.6 129.0 282.9 129.6 283.2 129.6 283.5 129.5 283.8 129.1 284.1 127.1 284.4 129.6 284.7 128.3 285.0 129.7 285.3 130.2 285.6 129.7 285.9 129.2 286.2 129.4 286.5 129.4 286.8 129.1 287.1 129.1 287.4 128.9 287.7 130.3 288.0 129.5 288.3 130.1 288.6 129.3 288.9 129.5 289.2 129.4 289.5 129.8 289.8 130.0 290.1 129.7 290.4 129.1 290.7 129.0 291.0 130.6 291.3 129.3 291.6 129.3 291.9 130.4 292.2 130.2 292.5 129.8 292.8 129.2 293.1 131.0 293.4 129.7 293.7 129.8 294.0 129.4 294.3 128.6 294.6 128.7 294.9 129.8 295.2 129.7 295.5 129.3 295.8 128.8 296.1 128.6 296.4 129.3 296.7 128.6 297.0 130.1 297.3 130.2 297.6 131.3 297.9 130.1 298.2 129.1 298.5 129.0 298.8 127.3 299.1 129.1 299.4 129.4 299.7 130.1 300.0 129.9 300.3 129.9 300.6 129.6 300.9 129.9 301.2 130.4 301.5 128.8 301.8 129.2 302.1 128.6 302.4 130.5 302.7 130.3 303.0 130.0 303.3 128.7 303.6 129.6 303.9 129.3 304.2 129.5 304.5 129.4 304.8 129.8 305.1 129.2 305.4 130.0 305.7 129.6 306.0 129.3 306.3 129.4 306.6 129.2 306.9 129.9 307.2 129.3 307.5 129.6 307.8 129.2 308.1 128.5 308.4 130.0 308.7 128.7 309.0 129.8 309.3 129.6 309.6 128.3 309.9 128.8 310.2 129.0 310.5 128.8 310.8 128.6 311.1 129.8 311.4 129.2 311.7 129.5 312.0 129.0 312.3 129.5 312.6 128.8 312.9 129.2 313.2 129.6 313.5 129.3 313.8 128.9 314.1 128.5 314.4 129.3 314.7 129.4 315.0 129.0 315.3 128.7 315.6 129.5 315.9 130.6 316.2 128.9 316.5 129.3 316.8 129.3 317.1 127.5 317.4 129.1 317.7 128.6 318.0 129.9 318.3 128.8 318.6 128.5 318.9 128.8 319.2 129.0 319.5 128.6 319.8 128.9 320.1 128.1 320.4 128.7 320.7 129.3 321.0 130.0 321.3 129.2 321.6 129.0 321.9 129.5 322.2 129.4 322.5 129.7 322.8 129.4 323.1 128.6 323.4 128.8 323.7 128.7 324.0 128.8 324.3 128.7 324.6 128.0 324.9 127.1 325.2 127.9 325.5 127.1 325.8 128.2 326.1 128.1 326.4 127.0 326.7 128.3 327.0 128.4 327.3 127.8 327.6 128.6 327.9 128.6 328.2 126.7 328.5 127.9 328.8 127.4 329.1 127.3 329.4 127.5 329.7 126.4 330.0 126.3 330.3 126.0 330.6 125.9 330.9 126.2 331.2 125.2 331.5 125.3 331.8 126.2 332.1 125.7 332.4 125.8 332.7 124.1 333.0 124.7 333.3 124.6 333.6 124.8 333.9 124.2 334.2 125.0 334.5 124.1 334.8 123.9 335.1 123.7 335.4 124.0 335.7 122.9 336.0 123.8 336.3 123.1 336.6 122.6 336.9 122.3 337.2 122.4 337.5 122.6 337.8 122.2 338.1 121.5 338.4 121.6 338.7 120.7 339.0 121.4 339.3 120.0 339.6 118.0 339.9 120.5 340.2 119.1 340.5 117.6 340.8 118.0 341.1 117.0 341.4 119.2 341.7 117.3 342.0 115.0 342.3 116.5 342.6 115.2 342.9 116.9 343.2 113.7 343.5 112.2 343.8 114.0 344.1 113.3 344.4 113.0 344.7 111.1 345.0 113.3 345.3 114.3 345.6 110.5 345.9 113.3 346.2 111.3 346.5 114.0 346.8 111.9 347.1 111.1 347.4 112.3 347.7 111.6 348.0 110.5 348.3 111.7 348.6 110.6 348.9 109.5 349.2 113.1 349.5 111.1 349.8 111.0 350.1 112.1 350.4 110.7 350.7 111.1 351.0 112.1 351.3 112.4 351.6 113.2 351.9 114.4 352.2 113.4 352.5 114.7 352.8 115.3 353.1 114.5 353.4 116.1 353.7 115.8 354.0 117.9 354.3 118.1 354.6 118.3 354.9 117.8 355.2 119.4 355.5 119.2 355.8 120.7 356.1 120.5 356.4 120.3 356.7 121.9 357.0 122.1 357.3 121.5 357.6 123.0 357.9 122.4 358.2 122.7 358.5 123.3 358.8 123.0 359.1 123.5 359.4 123.9 359.7 125.2 360.0 125.4 360.3 124.6 360.6 125.9 360.9 125.1 361.2 125.6 361.5 126.0 361.8 125.8 362.1 127.3 362.4 126.1 362.7 125.4 363.0 127.0 363.3 126.2 363.6 126.4 363.9 124.9 364.2 127.4 364.5 127.4 364.8 127.5 365.1 127.8 365.4 128.3 365.7 127.4 366.0 128.1 366.3 127.2 366.6 127.5 366.9 128.4 367.2 128.1 367.5 127.2 367.8 128.3 368.1 128.1 368.4 127.8 368.7 128.6 369.0 128.2 369.3 127.6 369.6 127.9 369.9 129.6 370.2 127.8 370.5 128.8 370.8 129.1 371.1 129.2 371.4 128.2 371.7 128.8 372.0 129.1 372.3 129.5 372.6 128.7 372.9 128.5 373.2 129.8 373.5 129.9 373.8 129.5 374.1 129.0 374.4 129.6 374.7 129.5 375.0 129.9 375.3 128.9 375.6 129.6 375.9 129.5 376.2 129.1 376.5 129.8 376.8 129.7 377.1 129.5 377.4 130.0 377.7 129.0 378.0 129.8 378.3 130.1 378.6 130.0 378.9 130.4 379.2 129.2 379.5 129.1 379.8 130.0" fill="none" stroke="#000" stroke-width="2.00" stroke-linejoin="round"/>
<path d="M379.8 130.0L380.1 130.1 380.4 131.0 380.7 130.2 381.0 129.5 381.3 130.3 381.6 129.5 381.9 129.1 382.2 131.3 382.5 130.1 382.8 130.3 383.1 130.2 383.4 130.8 383.7 130.1 384.0 130.5 384.3 129.4 384.6 129.2 384.9 130.6 385.2 130.7 385.5 130.2 385.8 130.0 386.1 130.0 386.4 129.6 386.7 130.7 387.0 130.3 387.3 130.2 387.6 130.1 387.9 130.5 388.2 130.2 388.5 130.3 388.8 129.4 389.1 130.2 389.4 131.0 389.7 129.7 390.0 129.9 390.3 130.4 390.6 130.4 390.9 130.3 391.2 129.2 391.5 130.2 391.8 129.4 392.1 129.6 392.4 130.2 392.7 129.8 393.0 130.3 393.3 131.5 393.6 130.3 393.9 130.3 394.2 129.5 394.5 129.7 394.8 129.5 395.1 129.7 395.4 129.5 395.7 129.7 396.0 129.9 396.3 129.5 396.6 129.3 396.9 129.3 397.2 130.2 397.5 130.0 397.8 130.4 398.1 130.5 398.4 129.8 398.7 130.3 399.0 129.3 399.3 131.0 399.6 130.5 399.9 129.9 400.2 129.5 400.5 130.2 400.8 129.1 401.1 129.6 401.4 130.3 401.7 130.0 402.0 129.8 402.3 130.4 402.6 129.5 402.9 130.1 403.2 129.8 403.5 129.6 403.8 130.2 404.1 129.5 404.4 130.8 404.7 129.7 405.0 130.9 405.3 129.5 405.6 130.3 405.9 129.5 406.2 129.4 406.5 130.1 406.8 130.3 407.1 129.4 407.4 130.5 407.7 129.6 408.0 130.1 408.3 130.2 408.6 130.3 408.9 129.2 409.2 130.7 409.5 130.2 409.8 129.8 410.1 129.5 410.4 129.2 410.7 129.4 411.0 130.2 411.3 129.8 411.6 129.5 411.9 129.8 412.2 130.7 412.5 129.8 412.8 129.7 413.1 130.6 413.4 130.2 413.7 130.0 414.0 129.7 414.3 129.3 414.6 129.5 414.9 129.8 415.2 129.9 415.5 130.2 415.8 130.2 416.1 130.1 416.4 130.1 416.7 129.5 417.0 129.0 417.3 129.8 417.6 129.6 417.9 129.7 418.2 129.9 418.5 129.4 418.8 129.5 419.1 130.0 419.4 130.1 419.7 129.7 420.0 130.2 420.3 129.9 420.6 129.5 420.9 130.0 421.2 130.8 421.5 129.6 421.8 130.4 422.1 130.5 422.4 130.5 422.7 129.4 423.0 130.7 423.3 129.8 423.6 129.5 423.9 129.5 424.2 129.8 424.5 129.5 424.8 129.4 425.1 130.0 425.4 129.0 425.7 128.8 426.0 129.6 426.3 129.5 426.6 129.6 426.9 128.5 427.2 129.4 427.5 129.1 427.8 129.6 428.1 128.2 428.4 128.8 428.7 128.6 429.0 127.9 429.3 128.3 429.6 129.1 429.9 128.3 430.2 128.2 430.5 128.9 430.8 128.9 431.1 128.9 431.4 128.1 431.7 128.4 432.0 128.9 432.3 128.1 432.6 128.1 432.9 128.8 433.2 129.2 433.5 128.0 433.8 127.4 434.1 127.9 434.4 128.2 434.7 128.6 435.0 129.0 435.3 128.8 435.6 128.6 435.9 129.0 436.2 128.6 436.5 129.1 436.8 128.9 437.1 130.5 437.4 129.7 437.7 129.0 438.0 129.0 438.3 129.4 438.6 128.9 438.9 129.4 439.2 129.4 439.5 130.2 439.8 129.7 440.1 129.6 440.4 129.4 440.7 129.5 441.0 130.0 441.3 130.0 441.6 130.6 441.9 129.8 442.2 130.6 442.5 130.2 442.8 130.1 443.1 129.2 443.4 129.5 443.7 130.5 444.0 130.8 444.3 130.2 444.6 130.5 444.9 130.0 445.2 130.0 445.5 129.8 445.8 130.6 446.1 130.3 446.4 130.1 446.7 130.0 447.0 130.4 447.3 130.3 447.6 129.8 447.9 130.9 448.2 130.3 448.5 130.2 448.8 130.8 449.1 130.6 449.4 130.1 449.7 130.4 450.0 129.7 450.3 129.9 450.6 129.2 450.9 130.7 451.2 129.3 451.5 130.5 451.8 129.8 452.1 129.8 452.4 130.1 452.7 130.3 453.0 130.5 453.3 131.0 453.6 130.4 453.9 130.6 454.2 129.9 454.5 130.5 454.8 130.3 455.1 130.0 455.4 130.1 455.7 130.1 456.0 130.1 456.3 130.1 456.6 129.6 456.9 129.4 457.2 129.9 457.5 128.7 457.8 129.0 458.1 129.8 458.4 127.8 458.7 128.5 459.0 129.0 459.3 127.8 459.6 129.6 459.9 127.2 460.2 128.9 460.5 128.9 460.8 128.6 461.1 128.1 461.4 128.4 461.7 127.9 462.0 128.7 462.3 127.9 462.6 128.4 462.9 129.1 463.2 128.3 463.5 128.8 463.8 129.2 464.1 128.6 464.4 129.9 464.7 129.7 465.0 129.0 465.3 129.8 465.6 129.6 465.9 129.7 466.2 130.1 466.5 129.8 466.8 130.6 467.1 129.9 467.4 130.6 467.7 130.2 468.0 130.6 468.3 130.0 468.6 130.0 468.9 129.7 469.2 130.5 469.5 130.6 469.8 131.2 470.1 130.8 470.4 130.3 470.7 130.1 471.0 130.4 471.3 130.2 471.6 130.9 471.9 130.6 472.2 129.8 472.5 129.9 472.8 130.8 473.1 130.4 473.4 130.1 473.7 130.8 474.0 130.1 474.3 130.1 474.6 130.0 474.9 129.3 475.2 130.6 475.5 129.7 475.8 130.0 476.1 129.9 476.4 130.6 476.7 130.2 477.0 130.2 477.3 129.5 477.6 130.2 477.9 129.6 478.2 130.4 478.5 130.4 478.8 130.2 479.1 131.2 479.4 130.5 479.7 130.5 480.0 130.3 480.3 130.2 480.6 130.7 480.9 130.7 481.2 129.7 481.5 130.7 481.8 130.5 482.1 130.7 482.4 130.5 482.7 129.7 483.0 129.7 483.3 131.1 483.6 130.4 483.9 129.6 484.2 130.4 484.5 130.1 484.8 129.4 485.1 129.2 485.4 129.5 485.7 130.4 486.0 130.2 486.3 130.1 486.6 130.4 486.9 130.5 487.2 129.3 487.5 130.1 487.8 129.9 488.1 129.7 488.4 130.0 488.7 130.2 489.0 130.1 489.3 129.6 489.6 130.0 489.9 131.2 490.2 129.8 490.5 129.5 490.8 130.4 491.1 130.5 491.4 130.5 491.7 129.8 492.0 130.7 492.3 129.9 492.6 129.8 492.9 130.0 493.2 130.2 493.5 130.6 493.8 130.6 494.1 130.3 494.4 130.7 494.7 130.3 495.0 130.7 495.3 129.6 495.6 129.6 495.9 130.6 496.2 129.7 496.5 130.1 496.8 130.2 497.1 130.1 497.4 130.1 497.7 130.9 498.0 129.1 498.3 130.7 498.6 131.3 498.9 130.3 499.2 130.3 499.5 130.6 499.8 131.1 500.1 129.7 500.4 130.3 500.7 130.2 501.0 130.5 501.3 130.4 501.6 130.6 501.9 130.1 502.2 130.3 502.5 130.0 502.8 130.0 503.1 130.2 503.4 130.2 503.7 129.8 504.0 131.0 504.3 130.2 504.6 129.7 504.9 130.8 505.2 130.0 505.5 130.5 505.8 130.3 506.1 130.4 506.4 130.4 506.7 130.0 507.0 130.3 507.3 131.2 507.6 129.3 507.9 130.3 508.2 130.5 508.5 129.8 508.8 129.7 509.1 131.3 509.4 130.1 509.7 131.2 510.0 130.5 510.3 130.3 510.6 130.5 510.9 130.6 511.2 130.8 511.5 130.5 511.8 130.4 512.1 130.4 512.4 130.9 512.7 130.7 513.0 129.8 513.3 130.0 513.6 130.4 513.9 130.0 514.2 130.1 514.5 129.9 514.8 130.2 515.1 130.5 515.4 130.7 515.7 130.3 516.0 131.2 516.3 130.3 516.6 131.7 516.9 130.7 517.2 130.5 517.5 130.1 517.8 129.0 518.1 130.2 518.4 130.4 518.7 131.2 519.0 129.7 519.3 131.2 519.6 130.2 519.9 130.6 520.2 129.2 520.5 130.4 520.8 130.1 521.1 130.6 521.4 130.3 521.7 129.8 522.0 130.7 522.3 130.6 522.6 130.6 522.9 130.8 523.2 130.8 523.5 130.3 523.8 129.7 524.1 129.7 524.4 130.9 524.7 130.6 525.0 130.3 525.3 130.1 525.6 130.3 525.9 130.3 526.2 130.1 526.5 130.0 526.8 131.3 527.1 130.4 527.4 130.0 527.7 129.7 528.0 130.0 528.3 130.6 528.6 130.6 528.9 130.2 529.2 130.3 529.5 130.2 529.8 129.8 530.1 130.9 530.4 130.5 530.7 131.4 531.0 130.0 531.3 130.2 531.6 130.7 531.9 130.2 532.2 129.7 532.5 129.9 532.8 130.3 533.1 130.5 533.4 130.3 533.7 130.8 534.0 130.7 534.3 130.4 534.6 130.3 534.9 130.2 535.2 130.5 535.5 130.7" fill="none" stroke="#000" stroke-width="1.80" stroke-linejoin="round"/>
<path d="M63.3 190.7L63.6 191.1 63.9 190.3 64.2 189.2 64.5 189.6 64.8 191.4 65.1 191.1 65.4 192.2 65.7 190.7 66.0 191.5 66.3 192.0 66.6 191.7 66.9 190.1 67.2 190.5 67.5 190.8 67.8 189.7 68.1 191.2 68.4 191.7 68.7 190.2 69.0 192.7 69.3 190.4 69.6 190.5 69.9 190.5 70.2 190.0 70.5 191.2 70.8 190.8 71.1 192.4 71.4 191.4 71.7 191.3 72.0 190.5 72.3 189.3 72.6 190.7 72.9 189.9 73.2 191.7 73.5 190.8 73.8 192.5 74.1 191.5 74.4 191.6 74.7 191.0 75.0 191.0 75.3 191.5 75.6 191.7 75.9 190.1 76.2 191.3 76.5 193.4 76.8 190.7 77.1 190.6 77.4 190.1 77.7 189.4 78.0 192.0 78.3 190.9 78.6 191.2 78.9 192.7 79.2 193.4 79.5 190.0 79.8 191.9 80.1 191.5 80.4 191.3 80.7 191.4 81.0 190.9 81.3 192.5 81.6 191.5 81.9 191.2 82.2 192.1 82.5 191.8 82.8 191.4 83.1 191.2 83.4 192.7 83.7 191.4 84.0 190.8 84.3 190.1 84.6 190.6 84.9 189.9 85.2 191.0 85.5 191.2 85.8 188.9 86.1 191.0 86.4 191.6 86.7 191.1 87.0 190.0 87.3 192.2 87.6 190.3 87.9 189.7 88.2 189.9 88.5 190.9 88.8 191.9 89.1 192.1 89.4 191.2 89.7 189.8 90.0 190.3 90.3 190.1 90.6 190.8 90.9 189.2 91.2 191.1 91.5 191.6 91.8 190.8 92.1 191.4 92.4 190.0 92.7 189.5 93.0 190.3 93.3 192.1 93.6 192.0 93.9 190.5 94.2 192.2 94.5 190.7 94.8 192.5 95.1 191.5 95.4 190.5 95.7 191.8 96.0 190.2 96.3 190.1 96.6 189.5 96.9 191.3 97.2 190.9 97.5 190.9 97.8 190.6 98.1 192.4 98.4 190.6 98.7 190.3 99.0 192.2 99.3 192.4 99.6 191.3 99.9 189.3 100.2 190.4 100.5 191.6 100.8 191.0 101.1 192.6 101.4 189.6 101.7 191.7 102.0 190.4 102.3 192.3 102.6 190.9 102.9 192.0 103.2 190.4 103.5 189.6 103.8 189.9 104.1 190.4 104.4 190.0 104.7 192.2 105.0 192.3 105.3 191.3 105.6 190.0 105.9 190.9 106.2 190.3 106.5 192.5 106.8 191.3 107.1 191.5 107.4 190.6 107.7 189.0 108.0 190.2 108.3 189.9 108.6 191.4 108.9 191.1 109.2 190.2 109.5 190.6 109.8 192.6 110.1 190.0 110.4 190.1 110.7 190.8 111.0 190.3 111.3 190.6 111.6 191.5 111.9 192.7 112.2 189.2 112.5 191.0 112.8 191.0 113.1 190.9 113.4 190.8 113.7 190.7 114.0 192.0 114.3 190.5 114.6 190.9 114.9 191.0 115.2 191.1 115.5 190.8 115.8 192.0 116.1 191.0 116.4 191.2 116.7 190.9 117.0 190.0 117.3 190.1 117.6 189.9 117.9 191.2 118.2 190.2 118.5 189.8 118.8 191.2 119.1 191.5 119.4 189.0 119.7 192.6 120.0 190.8 120.3 190.7 120.6 191.9 120.9 190.8 121.2 190.0 121.5 193.0 121.8 189.3 122.1 190.4 122.4 191.4 122.7 189.2 123.0 190.2 123.3 190.7 123.6 192.9 123.9 189.1 124.2 190.0 124.5 190.7 124.8 190.0 125.1 188.4 125.4 190.2 125.7 189.8 126.0 190.1 126.3 190.8 126.6 190.6 126.9 189.8 127.2 189.6 127.5 187.8 127.8 188.9 128.1 189.2 128.4 188.4 128.7 188.9 129.0 187.7 129.3 190.4 129.6 191.0 129.9 187.8 130.2 188.6 130.5 187.7 130.8 189.4 131.1 188.2 131.4 187.6 131.7 187.0 132.0 187.2 132.3 185.6 132.6 187.5 132.9 185.6 133.2 187.0 133.5 186.2 133.8 187.2 134.1 185.6 134.4 186.7 134.7 184.0 135.0 185.7 135.3 184.4 135.6 184.7 135.9 184.3 136.2 185.2 136.5 181.1 136.8 183.9 137.1 181.3 137.4 184.6 137.7 180.2 138.0 181.2 138.3 180.1 138.6 184.2 138.9 180.1 139.2 181.7 139.5 180.6 139.8 178.7 140.1 180.3 140.4 181.3 140.7 179.9 141.0 181.1 141.3 179.1 141.6 179.3 141.9 178.5 142.2 179.1 142.5 180.9 142.8 178.5 143.1 178.0 143.4 176.6 143.7 176.1 144.0 178.7 144.3 175.0 144.6 174.9 144.9 175.7 145.2 174.9 145.5 177.8 145.8 171.7 146.1 175.0 146.4 175.1 146.7 172.3 147.0 172.7 147.3 173.8 147.6 175.1 147.9 171.3 148.2 170.1 148.5 173.2 148.8 173.6 149.1 170.8 149.4 167.9 149.7 172.5 150.0 170.0 150.3 171.4 150.6 169.5 150.9 168.7 151.2 168.3 151.5 170.5 151.8 170.2 152.1 165.0 152.4 166.3 152.7 169.6 153.0 166.3 153.3 164.6 153.6 166.2 153.9 165.7 154.2 165.3 154.5 164.5 154.8 164.4 155.1 163.8 155.4 164.6 155.7 162.7 156.0 163.1 156.3 163.0 156.6 164.6 156.9 163.0 157.2 162.0 157.5 162.6 157.8 162.1 158.1 162.7 158.4 161.5 158.7 163.0 159.0 162.0 159.3 159.8 159.6 158.9 159.9 160.4 160.2 159.6 160.5 158.4 160.8 156.2 161.1 155.5 161.4 158.2 161.7 158.6 162.0 158.4 162.3 155.2 162.6 158.2 162.9 155.8 163.2 156.8 163.5 156.6 163.8 154.7 164.1 154.8 164.4 152.6 164.7 154.1 165.0 152.7 165.3 155.8 165.6 155.3 165.9 156.5 166.2 155.8 166.5 154.5 166.8 156.0 167.1 155.1 167.4 156.6 167.7 156.4 168.0 154.8 168.3 156.3 168.6 156.6 168.9 156.3 169.2 158.1 169.5 159.5 169.8 157.1 170.1 157.6 170.4 155.6 170.7 158.9 171.0 159.1 171.3 157.4 171.6 161.3 171.9 162.3 172.2 161.2 172.5 162.3 172.8 162.2 173.1 165.0 173.4 162.7 173.7 164.8 174.0 168.3 174.3 166.4 174.6 167.5 174.9 167.3 175.2 166.6 175.5 168.7 175.8 169.8 176.1 168.6 176.4 171.0 176.7 172.7 177.0 173.1 177.3 170.4 177.6 171.7 177.9 171.5 178.2 175.4 178.5 175.4 178.8 176.1 179.1 174.7 179.4 174.9 179.7 177.0 180.0 177.6 180.3 177.0 180.6 178.7 180.9 179.9 181.2 180.0 181.5 179.0 181.8 178.3 182.1 181.0 182.4 182.0 182.7 182.0 183.0 182.3 183.3 182.5 183.6 184.5 183.9 184.1 184.2 184.7 184.5 183.8 184.8 184.6 185.1 185.8 185.4 184.9 185.7 184.9 186.0 186.3 186.3 188.3 186.6 187.5 186.9 189.2 187.2 187.7 187.5 187.8 187.8 186.9 188.1 188.0 188.4 190.5 188.7 189.5 189.0 190.1 189.3 190.3 189.6 189.8 189.9 189.8 190.2 190.3 190.5 191.1 190.8 191.0 191.1 191.2 191.4 191.0 191.7 190.2 192.0 190.9 192.3 190.3 192.6 192.4 192.9 189.3 193.2 191.3 193.5 194.0 193.8 191.3 194.1 190.6 194.4 191.8 194.7 193.2 195.0 191.8 195.3 192.6 195.6 192.2 195.9 191.8 196.2 195.3 196.5 192.3 196.8 191.8 197.1 191.9 197.4 192.8 197.7 192.9 198.0 193.3 198.3 192.7 198.6 191.2 198.9 193.1 199.2 192.4 199.5 192.4 199.8 191.3 200.1 192.2 200.4 192.1 200.7 192.7 201.0 191.4 201.3 192.8 201.6 192.9 201.9 191.7 202.2 192.2 202.5 192.0 202.8 193.6 203.1 190.4 203.4 192.5 203.7 191.2 204.0 192.4 204.3 193.5 204.6 192.1 204.9 192.8 205.2 191.9 205.5 194.4 205.8 193.5 206.1 193.7 206.4 191.4 206.7 191.6 207.0 193.5 207.3 192.4 207.6 192.3 207.9 192.8 208.2 191.4 208.5 193.1 208.8 192.4 209.1 192.8 209.4 191.8 209.7 192.7 210.0 191.6 210.3 193.0 210.6 193.0 210.9 192.7 211.2 192.3 211.5 192.3 211.8 189.3 212.1 192.3 212.4 191.2 212.7 191.5 213.0 191.1 213.3 190.1 213.6 190.8 213.9 191.8 214.2 192.4 214.5 190.7 214.8 190.4 215.1 192.4 215.4 190.4 215.7 192.9 216.0 191.2 216.3 190.4 216.6 191.9 216.9 192.5 217.2 190.0 217.5 192.4 217.8 190.9 218.1 192.3 218.4 190.8 218.7 189.8 219.0 191.5 219.3 191.8 219.6 192.8 219.9 192.5 220.2 191.6 220.5 190.9 220.8 190.7 221.1 190.9 221.4 190.5 221.7 190.9 222.0 189.2 222.3 191.3 222.6 191.1 222.9 193.1 223.2 191.7 223.5 190.8 223.8 191.6 224.1 190.2 224.4 190.7 224.7 189.8 225.0 192.3 225.3 191.6 225.6 190.3 225.9 191.2 226.2 191.9 226.5 191.6 226.8 191.5 227.1 190.6 227.4 190.8 227.7 191.4 228.0 192.0 228.3 190.7 228.6 190.5 228.9 192.1 229.2 190.7 229.5 192.1 229.8 191.5 230.1 192.0 230.4 192.6 230.7 191.9 231.0 192.0 231.3 190.8 231.6 191.0 231.9 191.9 232.2 192.5 232.5 192.5 232.8 193.1 233.1 191.7 233.4 191.7 233.7 192.2 234.0 191.6 234.3 191.5 234.6 190.8 234.9 192.3 235.2 190.9 235.5 192.0 235.8 190.6 236.1 192.4 236.4 190.9 236.7 192.2 237.0 190.6 237.3 191.4 237.6 192.5 237.9 191.1 238.2 191.7 238.5 191.4 238.8 190.1 239.1 191.9 239.4 192.0 239.7 190.9 240.0 192.1" fill="none" stroke="#000" stroke-width="2.10" stroke-linejoin="round"/>
<path d="M239.7 190.9L240.0 192.1 240.3 191.2 240.6 191.0 240.9 191.7 241.2 191.2 241.5 193.3 241.8 190.7 242.1 192.2 242.4 192.4 242.7 190.4 243.0 190.6 243.3 192.1 243.6 191.4 243.9 192.0 244.2 192.5 244.5 191.5 244.8 191.0 245.1 189.9 245.4 191.9 245.7 191.1 246.0 191.9 246.3 191.9 246.6 190.8 246.9 192.9 247.2 192.5 247.5 192.3 247.8 191.0 248.1 191.5 248.4 191.4 248.7 191.5 249.0 191.0 249.3 192.0 249.6 191.9 249.9 192.0 250.2 191.4 250.5 192.6 250.8 191.9 251.1 190.0 251.4 191.4 251.7 191.7 252.0 192.4 252.3 191.6 252.6 191.6 252.9 191.3 253.2 192.2 253.5 191.5 253.8 191.4 254.1 191.3 254.4 192.2 254.7 191.4 255.0 190.7 255.3 192.2 255.6 191.3 255.9 192.0 256.2 192.0 256.5 192.6 256.8 192.5 257.1 191.4 257.4 191.7 257.7 191.0 258.0 192.9 258.3 192.1 258.6 192.7 258.9 191.6 259.2 190.5 259.5 192.8 259.8 191.9 260.1 191.9 260.4 191.9 260.7 192.2 261.0 192.2 261.3 190.8 261.6 192.5 261.9 191.5 262.2 191.5 262.5 192.9 262.8 192.4 263.1 191.6 263.4 190.7 263.7 191.9 264.0 192.2 264.3 191.8 264.6 191.1 264.9 191.3 265.2 191.1 265.5 192.0 265.8 192.4 266.1 192.5 266.4 191.4 266.7 192.0 267.0 192.2 267.3 191.5 267.6 191.8 267.9 193.2 268.2 192.0 268.5 192.4 268.8 191.6 269.1 191.9 269.4 190.8 269.7 191.9 270.0 192.6 270.3 193.2 270.6 192.6 270.9 192.3 271.2 191.9 271.5 191.5 271.8 191.8 272.1 192.3 272.4 191.4 272.7 192.5 273.0 191.3 273.3 190.8 273.6 191.3 273.9 190.9 274.2 191.0 274.5 192.6 274.8 191.8 275.1 192.0 275.4 192.6 275.7 192.7 276.0 191.6 276.3 192.7 276.6 192.1 276.9 191.9 277.2 192.2 277.5 191.0 277.8 191.4 278.1 191.8 278.4 192.3 278.7 191.7 279.0 191.8 279.3 192.5 279.6 192.8 279.9 192.4 280.2 192.7 280.5 191.7 280.8 191.7 281.1 192.1 281.4 191.7 281.7 191.6 282.0 192.9 282.3 191.8 282.6 191.3 282.9 192.2 283.2 193.0 283.5 192.0 283.8 192.7 284.1 191.7 284.4 191.6 284.7 191.5 285.0 191.8 285.3 193.0 285.6 191.2 285.9 192.9 286.2 191.3 286.5 191.8 286.8 192.4 287.1 192.3 287.4 192.1 287.7 191.0 288.0 192.1 288.3 191.3 288.6 193.4 288.9 191.8 289.2 192.0 289.5 191.3 289.8 191.7 290.1 191.2 290.4 192.5 290.7 191.8 291.0 192.3 291.3 191.5 291.6 191.7 291.9 192.7 292.2 191.4 292.5 190.9 292.8 192.2 293.1 191.3 293.4 191.7 293.7 192.5 294.0 191.5 294.3 192.5 294.6 191.6 294.9 192.8 295.2 192.7 295.5 191.7 295.8 191.8 296.1 191.5 296.4 192.1 296.7 192.6 297.0 191.1 297.3 192.5 297.6 191.2 297.9 191.5 298.2 191.0 298.5 193.1 298.8 192.0 299.1 192.1 299.4 191.6 299.7 192.6 300.0 190.8 300.3 192.0 300.6 193.2 300.9 191.8 301.2 192.0 301.5 192.3 301.8 191.5 302.1 192.0 302.4 192.5 302.7 192.1 303.0 192.2 303.3 191.8 303.6 192.1 303.9 192.0 304.2 192.8 304.5 192.4 304.8 191.8 305.1 190.6 305.4 192.4 305.7 192.4 306.0 191.5 306.3 190.9 306.6 191.4 306.9 192.5 307.2 191.4 307.5 191.7 307.8 192.1 308.1 192.6 308.4 192.0 308.7 191.9 309.0 191.7 309.3 192.9 309.6 192.6 309.9 191.9 310.2 191.2 310.5 191.6 310.8 192.3 311.1 191.6 311.4 192.5 311.7 192.2 312.0 192.1 312.3 192.3 312.6 192.3 312.9 191.5 313.2 191.8 313.5 193.2 313.8 191.3 314.1 191.7 314.4 192.6 314.7 191.9 315.0 191.6 315.3 191.3 315.6 192.3 315.9 192.5 316.2 192.7 316.5 192.0 316.8 192.5 317.1 191.4 317.4 192.1 317.7 191.6 318.0 192.1 318.3 192.4 318.6 192.6 318.9 191.5 319.2 192.7 319.5 191.7 319.8 191.5 320.1 191.9 320.4 191.2 320.7 192.0 321.0 192.1 321.3 191.9 321.6 192.3 321.9 191.8 322.2 192.0 322.5 191.3 322.8 192.0 323.1 191.6 323.4 191.8 323.7 191.9 324.0 192.1 324.3 191.2 324.6 191.2 324.9 191.8 325.2 192.2 325.5 192.2 325.8 192.5 326.1 192.7 326.4 192.2 326.7 192.0 327.0 191.5 327.3 191.5 327.6 191.8 327.9 192.1 328.2 192.1 328.5 192.0 328.8 191.9 329.1 192.3 329.4 192.1 329.7 192.1 330.0 192.2 330.3 191.7 330.6 191.5 330.9 192.2 331.2 192.2 331.5 191.9 331.8 191.8 332.1 193.1 332.4 191.6 332.7 191.9 333.0 192.1 333.3 191.4 333.6 192.1 333.9 192.9 334.2 192.5 334.5 192.3 334.8 192.3 335.1 192.1 335.4 192.5 335.7 191.9 336.0 191.8 336.3 192.0 336.6 192.4 336.9 192.1 337.2 192.3 337.5 190.9 337.8 192.5 338.1 193.1 338.4 192.5 338.7 191.7 339.0 191.4 339.3 191.9 339.6 191.3 339.9 192.1 340.2 191.5 340.5 192.2 340.8 192.3 341.1 190.6 341.4 191.8 341.7 191.2 342.0 190.8 342.3 191.2 342.6 191.4 342.9 192.0 343.2 190.7 343.5 191.9 343.8 192.4 344.1 191.6 344.4 191.6 344.7 191.3 345.0 190.7 345.3 191.5 345.6 191.4 345.9 191.5 346.2 192.4 346.5 191.5 346.8 191.3 347.1 191.9 347.4 190.4 347.7 190.5 348.0 190.9 348.3 190.7 348.6 191.4 348.9 190.9 349.2 191.9 349.5 191.8 349.8 191.4 350.1 190.8 350.4 191.3 350.7 191.4 351.0 190.5 351.3 191.2 351.6 191.4 351.9 191.2 352.2 191.8 352.5 191.7 352.8 190.7 353.1 191.2 353.4 190.7 353.7 191.5 354.0 190.8 354.3 191.7 354.6 191.4 354.9 191.8 355.2 191.2 355.5 190.6 355.8 192.2 356.1 191.3 356.4 192.1 356.7 191.7 357.0 191.8 357.3 192.4 357.6 191.7 357.9 192.3 358.2 190.9 358.5 192.1 358.8 191.6 359.1 191.7 359.4 191.8 359.7 192.0 360.0 192.7 360.3 191.0 360.6 191.9 360.9 191.6 361.2 192.5 361.5 191.8 361.8 192.2 362.1 191.8 362.4 192.4 362.7 192.6 363.0 191.9 363.3 192.2 363.6 191.4 363.9 192.3 364.2 192.6 364.5 191.9 364.8 192.7 365.1 191.2 365.4 191.3 365.7 191.5 366.0 192.0 366.3 192.2 366.6 192.2 366.9 192.2 367.2 192.6 367.5 192.0 367.8 191.6 368.1 191.7 368.4 193.3 368.7 191.1 369.0 192.2 369.3 193.0 369.6 192.5 369.9 191.9 370.2 192.3 370.5 192.7 370.8 192.9 371.1 191.9 371.4 192.7 371.7 192.4 372.0 192.9 372.3 193.0 372.6 192.2 372.9 191.6 373.2 192.5 373.5 193.2 373.8 192.7 374.1 192.5 374.4 193.5 374.7 191.9 375.0 192.8 375.3 192.1 375.6 192.4 375.9 192.4 376.2 193.1 376.5 191.9 376.8 192.1 377.1 191.6 377.4 192.6 377.7 192.2 378.0 192.6 378.3 191.9 378.6 192.2 378.9 192.9 379.2 192.3 379.5 192.7 379.8 192.7 380.1 192.2 380.4 191.6 380.7 192.9 381.0 192.5 381.3 192.9 381.6 191.4 381.9 191.6 382.2 191.4 382.5 192.0 382.8 192.9 383.1 192.7 383.4 192.4 383.7 192.5 384.0 192.8 384.3 192.3 384.6 192.6 384.9 192.5 385.2 191.4 385.5 192.2 385.8 193.1 386.1 192.2 386.4 192.3 386.7 192.1 387.0 192.2 387.3 193.0 387.6 192.3 387.9 191.9 388.2 190.9 388.5 192.1 388.8 191.5 389.1 191.5 389.4 192.8 389.7 192.8 390.0 191.5 390.3 192.8 390.6 192.7 390.9 192.1 391.2 192.8 391.5 191.6 391.8 191.8 392.1 191.7 392.4 191.9 392.7 192.9 393.0 191.8 393.3 191.9 393.6 192.0 393.9 192.5 394.2 192.3 394.5 192.9 394.8 192.1 395.1 191.8 395.4 192.2 395.7 192.5 396.0 192.0 396.3 192.6 396.6 193.3 396.9 192.2 397.2 192.5 397.5 193.1 397.8 192.1 398.1 192.0 398.4 191.9 398.7 192.6 399.0 192.7 399.3 192.4 399.6 192.5 399.9 193.1 400.2 192.9 400.5 191.8 400.8 192.4 401.1 192.5 401.4 192.8 401.7 192.3 402.0 192.1 402.3 192.2 402.6 191.6 402.9 192.4 403.2 192.2 403.5 192.7 403.8 192.0 404.1 192.2 404.4 192.0 404.7 191.9 405.0 192.8 405.3 192.2 405.6 192.7 405.9 191.9 406.2 192.5 406.5 191.6 406.8 192.2 407.1 192.2 407.4 192.7 407.7 192.5 408.0 192.4 408.3 192.9 408.6 192.5 408.9 192.7 409.2 192.8 409.5 192.4 409.8 192.3 410.1 192.6 410.4 192.3 410.7 192.6 411.0 193.0 411.3 192.9 411.6 192.3 411.9 191.8 412.2 192.4 412.5 192.4 412.8 193.0 413.1 192.3 413.4 192.4 413.7 192.8 414.0 192.2 414.3 192.4 414.6 193.3 414.9 193.2 415.2 192.8 415.5 192.6 415.8 192.0 416.1 192.7 416.4 192.5 416.7 192.6 417.0 192.2 417.3 192.5 417.6 192.4 417.9 192.6 418.2 193.2 418.5 192.6 418.8 191.7 419.1 192.0 419.4 191.7 419.7 192.1 420.0 192.7 420.3 192.7 420.6 192.2 420.9 192.6 421.2 192.1 421.5 191.8 421.8 191.8 422.1 192.1 422.4 193.2 422.7 191.8 423.0 193.1 423.3 193.1 423.6 192.4 423.9 192.5 424.2 192.2 424.5 192.5 424.8 192.8 425.1 192.5 425.4 193.0 425.7 193.1 426.0 192.7 426.3 192.6 426.6 192.5 426.9 192.7 427.2 192.0 427.5 192.7 427.8 192.6 428.1 192.1 428.4 193.5 428.7 192.0 429.0 192.1 429.3 192.6 429.6 191.6 429.9 192.1 430.2 191.8 430.5 192.0 430.8 192.4 431.1 192.6 431.4 193.0 431.7 192.9 432.0 193.1 432.3 192.8 432.6 192.3 432.9 193.0 433.2 192.3 433.5 192.2 433.8 193.2 434.1 192.9 434.4 192.6 434.7 192.9 435.0 192.9 435.3 191.9 435.6 192.5 435.9 191.9 436.2 192.6 436.5 192.2 436.8 193.1 437.1 192.7 437.4 192.1 437.7 192.5 438.0 191.9 438.3 192.5 438.6 192.8 438.9 192.6 439.2 191.6 439.5 192.3 439.8 192.7 440.1 192.7 440.4 193.1 440.7 191.9 441.0 192.8 441.3 192.2 441.6 192.6 441.9 192.7 442.2 192.8 442.5 192.2 442.8 192.6 443.1 192.0 443.4 191.8 443.7 192.8 444.0 192.5 444.3 191.7 444.6 192.1 444.9 192.5 445.2 193.2 445.5 193.0 445.8 192.9 446.1 191.7 446.4 192.5 446.7 192.7 447.0 192.7 447.3 192.7 447.6 192.4 447.9 193.3 448.2 193.2 448.5 192.5 448.8 192.1 449.1 193.5 449.4 192.3 449.7 193.1 450.0 193.4 450.3 192.1 450.6 192.7 450.9 192.4 451.2 192.8 451.5 192.7 451.8 193.4 452.1 192.8 452.4 192.5 452.7 193.1 453.0 192.4 453.3 192.4 453.6 193.6 453.9 192.1 454.2 192.3 454.5 192.5 454.8 192.0 455.1 191.5 455.4 193.0 455.7 192.2 456.0 192.3 456.3 192.4 456.6 192.1 456.9 192.0 457.2 192.6 457.5 193.7 457.8 192.9 458.1 192.9 458.4 191.8 458.7 192.5 459.0 192.0 459.3 192.9 459.6 192.4 459.9 192.6 460.2 192.5 460.5 192.3 460.8 191.8 461.1 192.8 461.4 191.9 461.7 192.0 462.0 192.4 462.3 192.2 462.6 192.7 462.9 193.0 463.2 192.7 463.5 192.6 463.8 192.5 464.1 192.9 464.4 191.7 464.7 192.7 465.0 192.1 465.3 192.0 465.6 192.5 465.9 192.4 466.2 192.8 466.5 193.1 466.8 191.5 467.1 192.5 467.4 193.5 467.7 192.9 468.0 193.2 468.3 192.6 468.6 191.9 468.9 192.0 469.2 192.9 469.5 193.0 469.8 192.2 470.1 192.4 470.4 192.7 470.7 191.7 471.0 192.4 471.3 193.3 471.6 193.6 471.9 192.5 472.2 193.4 472.5 192.3 472.8 192.2 473.1 191.5 473.4 193.0 473.7 192.4 474.0 193.6 474.3 192.7 474.6 192.6 474.9 191.7 475.2 193.2 475.5 192.4 475.8 192.5 476.1 191.5 476.4 193.0 476.7 193.0 477.0 192.3 477.3 192.6 477.6 192.7 477.9 193.0 478.2 192.6 478.5 193.4 478.8 192.4 479.1 192.3 479.4 192.3 479.7 191.4 480.0 192.2 480.3 193.0 480.6 192.7 480.9 192.2 481.2 192.7 481.5 191.6 481.8 192.4 482.1 192.8 482.4 192.9 482.7 192.2 483.0 193.0 483.3 193.4 483.6 192.4 483.9 192.9 484.2 191.8 484.5 191.7 484.8 192.8 485.1 192.6 485.4 192.7 485.7 192.3 486.0 192.4 486.3 192.9 486.6 193.4 486.9 192.5 487.2 191.8 487.5 193.1 487.8 192.8 488.1 192.9 488.4 192.6 488.7 193.6 489.0 192.6 489.3 192.8 489.6 191.7 489.9 192.3 490.2 192.2 490.5 192.5 490.8 192.7 491.1 192.2 491.4 193.4 491.7 192.1 492.0 192.4 492.3 192.7 492.6 192.0 492.9 192.8 493.2 192.9 493.5 192.4 493.8 193.4 494.1 192.6 494.4 192.7 494.7 192.1 495.0 191.8 495.3 192.3 495.6 192.4 495.9 192.4 496.2 192.9 496.5 191.5 496.8 192.0 497.1 191.7 497.4 193.2 497.7 192.3 498.0 192.3 498.3 192.1 498.6 193.0 498.9 192.4 499.2 192.7 499.5 191.6 499.8 193.1 500.1 192.8 500.4 192.8 500.7 193.1 501.0 192.5 501.3 192.5 501.6 192.9 501.9 192.8 502.2 192.5 502.5 192.6 502.8 192.3 503.1 192.9 503.4 193.0 503.7 192.6 504.0 193.4 504.3 191.9 504.6 192.5 504.9 193.4 505.2 192.4 505.5 191.8 505.8 193.2 506.1 192.8 506.4 192.0 506.7 192.9 507.0 192.1 507.3 192.0 507.6 192.5 507.9 192.4 508.2 192.1 508.5 192.4 508.8 192.1 509.1 192.6 509.4 192.6 509.7 192.9 510.0 192.4 510.3 192.0 510.6 192.0 510.9 192.5 511.2 193.3 511.5 193.0 511.8 192.3 512.1 193.0 512.4 192.0 512.7 193.0 513.0 192.4 513.3 192.9 513.6 192.9 513.9 192.4 514.2 192.7 514.5 192.1 514.8 192.5 515.1 193.1 515.4 194.4 515.7 192.9 516.0 192.6 516.3 192.1 516.6 193.1 516.9 191.8 517.2 192.2 517.5 192.7 517.8 192.0 518.1 193.3 518.4 193.1 518.7 192.3 519.0 192.3 519.3 192.0 519.6 191.9 519.9 192.8 520.2 192.9 520.5 192.7 520.8 192.7 521.1 192.3 521.4 192.7 521.7 191.9 522.0 192.6 522.3 193.2 522.6 193.2 522.9 192.4 523.2 192.4 523.5 193.2 523.8 193.4 524.1 191.9 524.4 192.4 524.7 192.7 525.0 193.1 525.3 192.2 525.6 192.9 525.9 192.4 526.2 193.7 526.5 192.8 526.8 192.5 527.1 192.4 527.4 193.1 527.7 192.9 528.0 192.1 528.3 192.7 528.6 192.0 528.9 192.2 529.2 192.0 529.5 192.0 529.8 192.3 530.1 192.1 530.4 192.8 530.7 192.9 531.0 192.5 531.3 192.1 531.6 192.9 531.9 191.7 532.2 191.7 532.5 192.9 532.8 192.9 533.1 193.0 533.4 192.5 533.7 192.0 534.0 192.3 534.3 192.8 534.6 192.2 534.9 192.3 535.2 191.9 535.5 192.1" fill="none" stroke="#000" stroke-width="1.80" stroke-linejoin="round"/>
<path d="M63.3 254.1L63.6 253.7 63.9 252.2 64.2 252.2 64.5 252.7 64.8 253.8 65.1 252.2 65.4 253.1 65.7 251.2 66.0 252.1 66.3 253.7 66.6 254.2 66.9 252.2 67.2 252.6 67.5 254.1 67.8 252.9 68.1 252.8 68.4 253.8 68.7 253.5 69.0 254.4 69.3 254.1 69.6 252.8 69.9 253.2 70.2 253.3 70.5 252.0 70.8 252.4 71.1 254.3 71.4 251.8 71.7 254.3 72.0 253.6 72.3 253.2 72.6 253.9 72.9 253.8 73.2 254.5 73.5 253.0 73.8 253.1 74.1 253.1 74.4 255.2 74.7 254.3 75.0 252.5 75.3 253.1 75.6 252.7 75.9 253.4 76.2 253.6 76.5 255.6 76.8 251.6 77.1 254.4 77.4 253.8 77.7 252.7 78.0 253.3 78.3 252.9 78.6 253.4 78.9 254.4 79.2 252.0 79.5 254.7 79.8 253.1 80.1 254.8 80.4 253.8 80.7 254.6 81.0 254.0 81.3 254.5 81.6 253.5 81.9 252.6 82.2 254.1 82.5 254.1 82.8 255.4 83.1 251.5 83.4 253.3 83.7 254.5 84.0 252.3 84.3 253.2 84.6 255.5 84.9 254.8 85.2 252.6 85.5 254.8 85.8 254.6 86.1 254.2 86.4 253.8 86.7 253.7 87.0 252.6 87.3 253.0 87.6 254.2 87.9 253.6 88.2 255.2 88.5 253.2 88.8 251.2 89.1 253.2 89.4 253.8 89.7 253.9 90.0 253.6 90.3 252.7 90.6 254.9 90.9 252.9 91.2 254.2 91.5 253.2 91.8 252.4 92.1 254.9 92.4 251.1 92.7 252.7 93.0 253.9 93.3 253.2 93.6 254.2 93.9 253.4 94.2 253.1 94.5 255.6 94.8 253.3 95.1 253.4 95.4 252.5 95.7 252.8 96.0 254.2 96.3 254.1 96.6 253.6 96.9 252.9 97.2 254.2 97.5 251.9 97.8 253.2 98.1 253.3 98.4 252.8 98.7 253.7 99.0 252.9 99.3 252.8 99.6 255.3 99.9 254.3 100.2 254.7 100.5 253.6 100.8 254.5 101.1 254.3 101.4 254.8 101.7 255.9 102.0 253.4 102.3 253.9 102.6 253.6 102.9 250.3 103.2 252.3 103.5 253.6 103.8 254.2 104.1 253.1 104.4 254.7 104.7 254.9 105.0 253.2 105.3 255.0 105.6 255.3 105.9 254.1 106.2 252.7 106.5 255.0 106.8 253.5 107.1 253.3 107.4 253.8 107.7 253.2 108.0 254.7 108.3 254.4 108.6 254.8 108.9 254.2 109.2 252.9 109.5 253.5 109.8 254.5 110.1 253.3 110.4 256.5 110.7 253.5 111.0 253.1 111.3 254.8 111.6 254.4 111.9 253.7 112.2 253.5 112.5 254.1 112.8 254.5 113.1 254.4 113.4 253.4 113.7 254.1 114.0 254.5 114.3 254.4 114.6 250.8 114.9 252.9 115.2 253.0 115.5 253.5 115.8 253.9 116.1 254.6 116.4 254.3 116.7 253.6 117.0 253.7 117.3 255.5 117.6 253.0 117.9 254.0 118.2 255.3 118.5 254.0 118.8 251.5 119.1 254.0 119.4 253.2 119.7 253.5 120.0 254.7 120.3 254.1 120.6 253.3 120.9 254.5 121.2 254.0 121.5 253.6 121.8 253.8 122.1 253.7 122.4 253.0 122.7 252.8 123.0 253.3 123.3 252.1 123.6 251.7 123.9 254.7 124.2 252.8 124.5 253.0 124.8 252.8 125.1 252.9 125.4 252.8 125.7 252.8 126.0 251.7 126.3 253.8 126.6 251.6 126.9 253.7 127.2 249.9 127.5 250.9 127.8 253.5 128.1 251.9 128.4 251.1 128.7 252.4 129.0 250.4 129.3 251.8 129.6 248.6 129.9 250.8 130.2 250.4 130.5 251.9 130.8 252.2 131.1 249.6 131.4 252.9 131.7 249.6 132.0 247.3 132.3 246.6 132.6 252.0 132.9 249.4 133.2 248.4 133.5 248.0 133.8 247.2 134.1 250.5 134.4 248.2 134.7 250.7 135.0 247.4 135.3 243.9 135.6 248.4 135.9 246.3 136.2 246.2 136.5 248.7 136.8 245.6 137.1 247.5 137.4 245.4 137.7 244.0 138.0 245.6 138.3 243.6 138.6 246.0 138.9 245.3 139.2 243.6 139.5 244.1 139.8 243.7 140.1 242.1 140.4 243.5 140.7 241.4 141.0 242.3 141.3 239.6 141.6 240.8 141.9 240.9 142.2 238.6 142.5 238.8 142.8 238.2 143.1 239.7 143.4 237.0 143.7 238.4 144.0 239.6 144.3 237.3 144.6 233.9 144.9 236.1 145.2 237.0 145.5 234.5 145.8 236.2 146.1 234.9 146.4 234.1 146.7 232.6 147.0 231.7 147.3 231.6 147.6 231.6 147.9 231.8 148.2 231.1 148.5 229.4 148.8 229.3 149.1 229.2 149.4 225.5 149.7 226.2 150.0 225.4 150.3 225.7 150.6 224.9 150.9 224.3 151.2 222.6 151.5 224.3 151.8 223.0 152.1 219.3 152.4 221.2 152.7 218.8 153.0 222.5 153.3 218.5 153.6 217.9 153.9 218.0 154.2 216.9 154.5 216.5 154.8 218.4 155.1 215.7 155.4 216.1 155.7 216.0 156.0 212.2 156.3 215.8 156.6 213.8 156.9 213.7 157.2 210.4 157.5 212.5 157.8 211.4 158.1 209.4 158.4 213.4 158.7 210.3 159.0 208.6 159.3 208.8 159.6 209.6 159.9 209.6 160.2 208.3 160.5 209.0 160.8 209.1 161.1 204.6 161.4 205.5 161.7 204.5 162.0 205.9 162.3 207.8 162.6 206.3 162.9 203.4 163.2 204.4 163.5 206.3 163.8 203.6 164.1 204.2 164.4 204.7 164.7 201.2 165.0 205.3 165.3 204.6 165.6 205.0 165.9 202.5 166.2 203.0 166.5 203.3 166.8 204.8 167.1 204.7 167.4 204.9 167.7 207.7 168.0 207.2 168.3 204.2 168.6 204.6 168.9 208.6 169.2 205.9 169.5 208.9 169.8 209.8 170.1 207.1 170.4 208.1 170.7 209.3 171.0 208.5 171.3 208.9 171.6 210.4 171.9 212.9 172.2 211.6 172.5 212.6 172.8 212.9 173.1 212.3 173.4 217.3 173.7 212.3 174.0 215.6 174.3 218.1 174.6 216.0 174.9 219.7 175.2 221.4 175.5 219.1 175.8 221.4 176.1 220.2 176.4 223.3 176.7 223.4 177.0 224.3 177.3 226.7 177.6 226.1 177.9 228.1 178.2 227.8 178.5 225.9 178.8 228.7 179.1 229.8 179.4 227.8 179.7 232.4 180.0 231.3 180.3 232.5 180.6 231.4 180.9 233.5 181.2 234.5 181.5 234.3 181.8 235.5 182.1 233.2 182.4 238.6 182.7 235.8 183.0 235.0 183.3 237.3 183.6 238.0 183.9 240.4 184.2 239.0 184.5 241.1 184.8 240.0 185.1 244.7 185.4 243.0 185.7 245.4 186.0 242.1 186.3 244.8 186.6 243.2 186.9 245.7 187.2 246.4 187.5 243.9 187.8 245.0 188.1 245.5 188.4 245.5 188.7 247.0 189.0 247.1 189.3 246.9 189.6 249.3 189.9 250.3 190.2 248.3 190.5 249.6 190.8 250.6 191.1 250.6 191.4 250.3 191.7 252.4 192.0 252.7 192.3 252.7 192.6 251.7 192.9 254.5 193.2 254.3 193.5 251.8 193.8 252.3 194.1 254.0 194.4 251.7 194.7 253.3 195.0 253.0 195.3 252.2 195.6 252.8 195.9 251.3 196.2 252.6 196.5 251.0 196.8 256.1 197.1 255.3 197.4 255.1 197.7 254.0 198.0 254.9 198.3 255.3 198.6 255.1 198.9 255.0 199.2 252.9 199.5 254.5 199.8 253.5 200.1 252.8 200.4 252.9 200.7 254.6 201.0 255.4 201.3 252.7 201.6 256.2 201.9 255.8 202.2 253.8 202.5 253.7 202.8 254.1 203.1 255.3 203.4 253.8 203.7 253.0 204.0 254.6 204.3 252.0 204.6 254.4 204.9 255.4 205.2 254.5 205.5 255.0 205.8 254.7 206.1 255.0 206.4 254.4 206.7 253.3 207.0 254.0 207.3 254.1 207.6 255.5 207.9 255.9 208.2 254.6 208.5 253.4 208.8 253.5 209.1 254.0 209.4 255.6 209.7 254.5 210.0 254.1 210.3 253.4 210.6 255.1 210.9 254.5 211.2 254.1 211.5 254.3 211.8 255.9 212.1 254.0 212.4 255.8 212.7 255.4 213.0 254.3 213.3 255.1 213.6 254.1 213.9 253.4 214.2 253.9 214.5 253.3 214.8 254.7 215.1 254.2 215.4 254.7 215.7 255.0 216.0 251.3 216.3 254.5 216.6 252.5 216.9 254.4 217.2 253.4 217.5 254.3 217.8 255.4 218.1 252.7 218.4 254.4 218.7 254.1 219.0 252.5 219.3 254.8 219.6 254.2 219.9 253.8 220.2 253.6 220.5 257.0 220.8 253.9 221.1 252.6 221.4 253.4 221.7 253.9 222.0 253.9 222.3 254.1 222.6 253.3 222.9 254.7 223.2 253.8 223.5 253.1 223.8 253.5 224.1 253.9 224.4 254.9 224.7 254.6 225.0 253.9 225.3 254.2 225.6 254.4 225.9 255.8 226.2 253.7 226.5 254.6 226.8 254.8 227.1 253.4 227.4 254.3 227.7 254.3 228.0 253.8 228.3 254.6 228.6 255.0 228.9 255.1 229.2 254.1 229.5 254.3 229.8 256.0 230.1 253.4 230.4 254.4 230.7 254.9 231.0 254.3 231.3 254.7 231.6 254.3 231.9 254.8 232.2 255.2 232.5 254.0 232.8 254.3 233.1 254.2 233.4 253.9 233.7 254.2 234.0 253.4 234.3 254.8 234.6 255.5 234.9 255.5 235.2 255.1 235.5 253.5 235.8 255.3 236.1 253.7 236.4 254.2 236.7 255.6 237.0 253.4 237.3 254.8 237.6 254.4 237.9 254.1 238.2 253.6 238.5 254.5 238.8 253.9 239.1 255.0 239.4 255.1 239.7 253.2 240.0 253.8" fill="none" stroke="#000" stroke-width="2.20" stroke-linejoin="round"/>
<path d="M239.7 253.2L240.0 253.8 240.3 254.0 240.6 253.3 240.9 253.4 241.2 254.3 241.5 254.0 241.8 253.0 242.1 253.8 242.4 254.6 242.7 253.3 243.0 253.5 243.3 255.3 243.6 255.2 243.9 253.0 244.2 253.2 244.5 254.5 244.8 253.3 245.1 254.0 245.4 253.9 245.7 254.6 246.0 252.4 246.3 252.6 246.6 253.3 246.9 254.9 247.2 254.1 247.5 253.0 247.8 254.6 248.1 254.7 248.4 254.0 248.7 254.0 249.0 254.5 249.3 255.1 249.6 254.3 249.9 254.6 250.2 254.2 250.5 253.9 250.8 253.6 251.1 254.4 251.4 254.0 251.7 254.0 252.0 254.9 252.3 254.5 252.6 254.8 252.9 253.1 253.2 254.6 253.5 253.8 253.8 253.6 254.1 253.6 254.4 255.1 254.7 254.8 255.0 253.7 255.3 253.4 255.6 254.2 255.9 253.9 256.2 255.4 256.5 253.2 256.8 252.9 257.1 254.0 257.4 254.2 257.7 254.3 258.0 254.7 258.3 255.6 258.6 254.0 258.9 253.8 259.2 253.0 259.5 254.4 259.8 254.8 260.1 254.0 260.4 255.0 260.7 254.2 261.0 255.2 261.3 254.4 261.6 253.5 261.9 253.8 262.2 253.2 262.5 253.0 262.8 254.4 263.1 254.8 263.4 255.5 263.7 254.2 264.0 254.0 264.3 253.5 264.6 254.9 264.9 254.5 265.2 253.8 265.5 254.7 265.8 254.6 266.1 252.9 266.4 254.7 266.7 254.3 267.0 253.9 267.3 253.9 267.6 255.4 267.9 255.2 268.2 255.4 268.5 253.4 268.8 253.8 269.1 254.8 269.4 253.4 269.7 253.7 270.0 253.0 270.3 255.4 270.6 254.9 270.9 254.5 271.2 254.4 271.5 253.9 271.8 253.9 272.1 254.6 272.4 253.7 272.7 255.0 273.0 253.9 273.3 253.6 273.6 255.1 273.9 254.1 274.2 254.6 274.5 253.9 274.8 252.7 275.1 254.6 275.4 253.3 275.7 254.9 276.0 253.2 276.3 253.0 276.6 254.4 276.9 254.5 277.2 254.3 277.5 253.4 277.8 254.8 278.1 253.3 278.4 253.9 278.7 253.7 279.0 254.0 279.3 254.8 279.6 253.8 279.9 254.6 280.2 254.7 280.5 253.1 280.8 253.5 281.1 254.0 281.4 253.8 281.7 254.4 282.0 253.0 282.3 254.7 282.6 254.7 282.9 254.1 283.2 253.3 283.5 254.2 283.8 253.9 284.1 254.6 284.4 254.2 284.7 254.7 285.0 253.9 285.3 255.1 285.6 252.7 285.9 253.6 286.2 254.5 286.5 253.3 286.8 254.7 287.1 253.4 287.4 254.3 287.7 253.6 288.0 253.9 288.3 254.3 288.6 254.2 288.9 254.0 289.2 255.6 289.5 254.2 289.8 253.6 290.1 254.8 290.4 254.7 290.7 255.0 291.0 255.3 291.3 253.6 291.6 254.9 291.9 254.9 292.2 254.2 292.5 254.4 292.8 252.3 293.1 253.9 293.4 255.3 293.7 253.1 294.0 253.9 294.3 254.4 294.6 254.6 294.9 255.2 295.2 253.1 295.5 254.3 295.8 254.8 296.1 253.4 296.4 254.2 296.7 255.4 297.0 255.0 297.3 254.6 297.6 252.6 297.9 254.1 298.2 254.5 298.5 254.0 298.8 254.2 299.1 256.1 299.4 254.1 299.7 253.6 300.0 254.4 300.3 254.0 300.6 254.0 300.9 254.2 301.2 254.7 301.5 254.4 301.8 253.5 302.1 254.1 302.4 254.5 302.7 253.9 303.0 254.9 303.3 254.7 303.6 253.6 303.9 254.4 304.2 255.4 304.5 255.2 304.8 254.2 305.1 254.8 305.4 253.8 305.7 253.4 306.0 254.6 306.3 254.4 306.6 254.5 306.9 254.2 307.2 254.4 307.5 253.9 307.8 254.5 308.1 254.7 308.4 254.2 308.7 254.7 309.0 253.2 309.3 253.8 309.6 255.1 309.9 255.3 310.2 254.4 310.5 254.2 310.8 253.5 311.1 254.5 311.4 254.7 311.7 253.4 312.0 254.6 312.3 254.5 312.6 254.5 312.9 253.6 313.2 254.6 313.5 253.4 313.8 255.1 314.1 254.3 314.4 253.6 314.7 255.0 315.0 254.9 315.3 253.9 315.6 255.5 315.9 253.7 316.2 254.4 316.5 254.9 316.8 252.9 317.1 254.8 317.4 254.2 317.7 254.2 318.0 253.6 318.3 254.4 318.6 253.6 318.9 253.7 319.2 254.0 319.5 253.5 319.8 255.1 320.1 253.5 320.4 253.8 320.7 254.1 321.0 254.2 321.3 254.7 321.6 254.7 321.9 254.1 322.2 254.0 322.5 254.3 322.8 254.7 323.1 254.6 323.4 254.0 323.7 253.1 324.0 255.5 324.3 254.8 324.6 254.4 324.9 254.4 325.2 254.0 325.5 253.7 325.8 254.1 326.1 254.1 326.4 253.9 326.7 253.4 327.0 254.1 327.3 254.6 327.6 254.0 327.9 254.3 328.2 253.1 328.5 254.1 328.8 254.2 329.1 253.6 329.4 253.3 329.7 254.5 330.0 253.8 330.3 254.5 330.6 254.0 330.9 254.6 331.2 254.1 331.5 253.4 331.8 254.2 332.1 254.1 332.4 254.6 332.7 254.0 333.0 254.0 333.3 254.7 333.6 254.9 333.9 254.7 334.2 254.8 334.5 254.5 334.8 254.7 335.1 254.7 335.4 254.5 335.7 254.3 336.0 254.3 336.3 255.6 336.6 254.3 336.9 254.1 337.2 254.1 337.5 254.2 337.8 254.4 338.1 253.6 338.4 253.2 338.7 254.4 339.0 253.4 339.3 254.4 339.6 254.3 339.9 254.9 340.2 255.2 340.5 254.5 340.8 254.0 341.1 253.6 341.4 253.8 341.7 254.3 342.0 253.1 342.3 254.3 342.6 254.3 342.9 254.6 343.2 254.1 343.5 254.3 343.8 253.9 344.1 254.0 344.4 253.3 344.7 254.3 345.0 255.1 345.3 254.4 345.6 254.5 345.9 253.7 346.2 255.1 346.5 253.9 346.8 254.7 347.1 254.3 347.4 253.8 347.7 254.8 348.0 254.3 348.3 254.4 348.6 254.5 348.9 254.3 349.2 254.1 349.5 254.5 349.8 254.1 350.1 254.3 350.4 253.9 350.7 253.5 351.0 253.9 351.3 254.0 351.6 254.3 351.9 254.9 352.2 253.4 352.5 254.4 352.8 253.1 353.1 253.7 353.4 254.0 353.7 253.1 354.0 253.3 354.3 254.4 354.6 254.3 354.9 254.2 355.2 253.9 355.5 255.5 355.8 254.2 356.1 253.8 356.4 255.2 356.7 254.6 357.0 254.1 357.3 254.9 357.6 254.4 357.9 254.6 358.2 254.4 358.5 253.7 358.8 254.8 359.1 254.4 359.4 253.7 359.7 253.9 360.0 254.8 360.3 254.1 360.6 254.3 360.9 254.7 361.2 254.4 361.5 253.5 361.8 254.6 362.1 254.8 362.4 254.8 362.7 255.2 363.0 254.5 363.3 254.7 363.6 255.2 363.9 254.1 364.2 255.2 364.5 255.2 364.8 254.7 365.1 255.3 365.4 254.8 365.7 253.8 366.0 254.9 366.3 254.5 366.6 254.5 366.9 254.4 367.2 255.0 367.5 254.6 367.8 253.9 368.1 254.6 368.4 254.7 368.7 253.9 369.0 254.1 369.3 254.1 369.6 254.0 369.9 254.5 370.2 254.9 370.5 255.3 370.8 255.0 371.1 254.9 371.4 254.9 371.7 255.0 372.0 254.1 372.3 254.7 372.6 254.5 372.9 254.2 373.2 254.1 373.5 254.0 373.8 254.2 374.1 253.6 374.4 254.6 374.7 254.3 375.0 254.4 375.3 254.5 375.6 254.7 375.9 254.0 376.2 254.3 376.5 253.5 376.8 253.1 377.1 253.3 377.4 255.1 377.7 253.3 378.0 254.6 378.3 255.1 378.6 254.1 378.9 255.2 379.2 255.3 379.5 254.8 379.8 255.6 380.1 254.7 380.4 253.9 380.7 254.6 381.0 254.1 381.3 253.6 381.6 253.6 381.9 255.6 382.2 254.0 382.5 254.3 382.8 254.0 383.1 254.4 383.4 254.2 383.7 254.1 384.0 253.7 384.3 253.6 384.6 253.9 384.9 254.5 385.2 255.5 385.5 254.9 385.8 255.3 386.1 254.6 386.4 254.3 386.7 253.6 387.0 254.3 387.3 253.2 387.6 254.2 387.9 255.2 388.2 254.5 388.5 255.0 388.8 254.1 389.1 253.6 389.4 254.1 389.7 254.1 390.0 255.0 390.3 255.4 390.6 254.0 390.9 254.2 391.2 254.3 391.5 254.2 391.8 253.7 392.1 254.4 392.4 254.6 392.7 254.6 393.0 253.7 393.3 254.3 393.6 253.4 393.9 254.9 394.2 253.8 394.5 254.2 394.8 254.1 395.1 254.1 395.4 253.8 395.7 253.4 396.0 255.3 396.3 254.5 396.6 254.5 396.9 255.5 397.2 254.3 397.5 254.7 397.8 254.4 398.1 255.0 398.4 254.6 398.7 254.5 399.0 254.2 399.3 254.5 399.6 255.0 399.9 253.3 400.2 254.3 400.5 254.2 400.8 254.2 401.1 253.3 401.4 254.8 401.7 253.9 402.0 254.3 402.3 254.1 402.6 253.5 402.9 254.1 403.2 253.4 403.5 253.9 403.8 254.2 404.1 254.4 404.4 254.4 404.7 254.3 405.0 255.5 405.3 254.6 405.6 253.7 405.9 254.1 406.2 254.0 406.5 254.3 406.8 254.1 407.1 253.9 407.4 255.3 407.7 254.4 408.0 254.2 408.3 254.3 408.6 254.3 408.9 255.1 409.2 254.6 409.5 255.0 409.8 252.7 410.1 254.6 410.4 255.0 410.7 255.4 411.0 254.4 411.3 253.5 411.6 254.7 411.9 254.1 412.2 253.5 412.5 254.1 412.8 255.0 413.1 255.0 413.4 254.8 413.7 253.8 414.0 255.7 414.3 253.8 414.6 254.4 414.9 253.6 415.2 255.1 415.5 254.6 415.8 254.9 416.1 254.5 416.4 254.4 416.7 254.5 417.0 253.4 417.3 254.9 417.6 254.9 417.9 254.2 418.2 254.4 418.5 254.6 418.8 255.2 419.1 254.6 419.4 254.4 419.7 254.2 420.0 253.6 420.3 254.1 420.6 254.5 420.9 254.3 421.2 254.5 421.5 254.8 421.8 254.7 422.1 254.6 422.4 254.8 422.7 254.5 423.0 254.4 423.3 254.7 423.6 253.5 423.9 255.1 424.2 253.8 424.5 254.9 424.8 254.4 425.1 255.0 425.4 254.5 425.7 253.9 426.0 255.0 426.3 254.5 426.6 254.5 426.9 254.5 427.2 255.0 427.5 254.9 427.8 254.6 428.1 253.6 428.4 254.2 428.7 254.5 429.0 255.4 429.3 254.6 429.6 254.4 429.9 255.1 430.2 254.4 430.5 254.4 430.8 254.5 431.1 253.7 431.4 255.0 431.7 254.7 432.0 254.3 432.3 253.9 432.6 254.6 432.9 255.2 433.2 254.1 433.5 253.9 433.8 254.7 434.1 253.6 434.4 253.3 434.7 254.2 435.0 254.1 435.3 254.3 435.6 254.2 435.9 254.6 436.2 254.3 436.5 254.1 436.8 254.2 437.1 254.8 437.4 255.0 437.7 254.9 438.0 254.8 438.3 252.7 438.6 253.9 438.9 254.3 439.2 254.6 439.5 253.6 439.8 255.2 440.1 254.6 440.4 254.1 440.7 254.6 441.0 254.3 441.3 254.1 441.6 254.7 441.9 254.2 442.2 253.7 442.5 254.1 442.8 254.4 443.1 253.9 443.4 255.1 443.7 253.9 444.0 255.4 444.3 255.0 444.6 254.0 444.9 254.6 445.2 255.1 445.5 254.4 445.8 253.9 446.1 254.5 446.4 255.5 446.7 253.7 447.0 254.8 447.3 254.5 447.6 254.4 447.9 254.3 448.2 254.3 448.5 255.0 448.8 254.8 449.1 254.0 449.4 255.3 449.7 253.8 450.0 254.8 450.3 254.6 450.6 255.1 450.9 254.7 451.2 255.1 451.5 254.5 451.8 255.0 452.1 254.7 452.4 255.6 452.7 254.1 453.0 255.1 453.3 254.8 453.6 254.6 453.9 254.2 454.2 254.7 454.5 253.7 454.8 253.8 455.1 254.9 455.4 253.7 455.7 255.3 456.0 254.4 456.3 254.6 456.6 254.6 456.9 254.7 457.2 254.4 457.5 254.3 457.8 254.5 458.1 255.1 458.4 255.1 458.7 255.2 459.0 254.7 459.3 254.4 459.6 253.7 459.9 254.9 460.2 255.0 460.5 254.3 460.8 254.9 461.1 255.2 461.4 254.6 461.7 255.1 462.0 254.7 462.3 253.6 462.6 254.3 462.9 254.3 463.2 254.8 463.5 254.1 463.8 254.3 464.1 254.0 464.4 254.5 464.7 254.6 465.0 255.0 465.3 255.0 465.6 254.6 465.9 254.7 466.2 254.6 466.5 254.6 466.8 255.3 467.1 253.3 467.4 254.5 467.7 254.7 468.0 255.1 468.3 254.0 468.6 254.7 468.9 255.0 469.2 254.3 469.5 253.6 469.8 254.4 470.1 253.9 470.4 254.9 470.7 254.1 471.0 255.5 471.3 254.6 471.6 254.1 471.9 254.3 472.2 254.0 472.5 254.8 472.8 255.3 473.1 254.4 473.4 255.0 473.7 254.1 474.0 254.7 474.3 255.7 474.6 253.8 474.9 255.2 475.2 255.2 475.5 253.6 475.8 253.8 476.1 254.1 476.4 255.1 476.7 254.3 477.0 254.5 477.3 254.9 477.6 254.6 477.9 254.7 478.2 254.4 478.5 255.2 478.8 254.2 479.1 255.4 479.4 254.4 479.7 254.2 480.0 254.9 480.3 254.8 480.6 253.6 480.9 254.7 481.2 253.9 481.5 254.2 481.8 255.0 482.1 254.1 482.4 254.8 482.7 254.4 483.0 255.6 483.3 254.5 483.6 254.0 483.9 254.0 484.2 254.1 484.5 254.7 484.8 254.6 485.1 255.1 485.4 254.7 485.7 254.7 486.0 254.8 486.3 254.5 486.6 254.7 486.9 255.0 487.2 255.0 487.5 254.3 487.8 253.7 488.1 254.2 488.4 254.7 488.7 253.3 489.0 254.4 489.3 254.8 489.6 254.3 489.9 254.0 490.2 255.5 490.5 255.3 490.8 254.5 491.1 255.3 491.4 255.3 491.7 254.0 492.0 256.0 492.3 254.1 492.6 254.5 492.9 254.0 493.2 254.6 493.5 253.9 493.8 254.6 494.1 255.2 494.4 254.7 494.7 254.5 495.0 255.4 495.3 254.1 495.6 255.1 495.9 254.5 496.2 254.7 496.5 254.6 496.8 254.7 497.1 254.6 497.4 254.2 497.7 254.3 498.0 254.8 498.3 254.6 498.6 254.0 498.9 254.3 499.2 254.3 499.5 254.6 499.8 254.7 500.1 254.7 500.4 254.3 500.7 254.6 501.0 253.9 501.3 253.2 501.6 254.6 501.9 253.8 502.2 254.1 502.5 254.0 502.8 254.9 503.1 254.0 503.4 254.8 503.7 254.4 504.0 254.0 504.3 253.8 504.6 254.9 504.9 254.8 505.2 255.0 505.5 255.6 505.8 254.8 506.1 254.8 506.4 254.6 506.7 254.7 507.0 254.4 507.3 254.2 507.6 255.6 507.9 253.7 508.2 254.8 508.5 254.8 508.8 254.7 509.1 254.1 509.4 254.5 509.7 254.4 510.0 254.1 510.3 254.6 510.6 254.4 510.9 254.3 511.2 255.0 511.5 254.1 511.8 254.9 512.1 254.3 512.4 254.8 512.7 254.7 513.0 254.8 513.3 254.1 513.6 254.2 513.9 254.2 514.2 254.7 514.5 255.0 514.8 255.2 515.1 254.4 515.4 254.7 515.7 253.8 516.0 253.5 516.3 254.2 516.6 254.3 516.9 253.9 517.2 253.7 517.5 254.9 517.8 254.2 518.1 253.8 518.4 255.8 518.7 254.7 519.0 254.5 519.3 255.0 519.6 254.3 519.9 255.4 520.2 253.9 520.5 254.0 520.8 254.6 521.1 254.3 521.4 255.4 521.7 253.8 522.0 254.3 522.3 254.8 522.6 254.9 522.9 255.1 523.2 254.8 523.5 255.8 523.8 254.4 524.1 254.7 524.4 255.1 524.7 254.5 525.0 254.5 525.3 254.4 525.6 254.3 525.9 254.1 526.2 254.4 526.5 253.9 526.8 254.8 527.1 253.9 527.4 255.7 527.7 255.5 528.0 255.2 528.3 254.5 528.6 254.4 528.9 255.3 529.2 254.7 529.5 254.9 529.8 254.3 530.1 255.2 530.4 254.3 530.7 254.7 531.0 253.8 531.3 254.3 531.6 254.9 531.9 254.4 532.2 254.4 532.5 255.1 532.8 254.6 533.1 255.3 533.4 253.5 533.7 255.0 534.0 254.9 534.3 253.9 534.6 254.0 534.9 255.1 535.2 254.1 535.5 254.4" fill="none" stroke="#000" stroke-width="1.90" stroke-linejoin="round"/>
<path d="M63.3 314.3L63.4 311.3 63.6 313.9 63.7 309.5 63.9 313.3 64.0 315.9 64.2 313.4 64.3 305.2 64.5 314.5 64.6 312.6 64.8 309.4 64.9 317.0 65.1 306.7 65.2 318.5 65.4 310.3 65.5 317.6 65.7 312.3 65.8 308.0 66.0 312.7 66.1 313.5 66.3 314.2 66.4 315.9 66.6 309.5 66.7 314.0 66.9 314.8 67.0 311.5 67.2 309.4 67.3 309.3 67.5 314.9 67.6 315.1 67.8 309.7 67.9 308.0 68.1 316.5 68.2 307.3 68.4 313.0 68.5 309.8 68.7 306.7 68.8 312.9 69.0 311.8 69.1 317.2 69.3 319.9 69.4 311.9 69.6 315.8 69.7 315.9 69.9 310.8 70.0 309.6 70.2 317.8 70.3 311.3 70.5 312.4 70.6 311.5 70.8 312.1 70.9 310.5 71.1 315.0 71.2 316.6 71.4 311.3 71.5 308.0 71.7 312.7 71.8 307.6 72.0 310.4 72.1 316.6 72.3 320.2 72.4 313.8 72.6 309.0 72.7 315.1 72.9 305.2 73.0 310.3 73.2 317.6 73.3 315.0 73.5 308.0 73.6 307.1 73.8 315.4 73.9 312.4 74.1 310.6 74.2 313.9 74.4 310.7 74.5 306.3 74.7 315.2 74.8 310.4 75.0 309.3 75.1 308.2 75.3 313.4 75.4 309.9 75.6 314.6 75.7 311.7 75.9 316.1 76.0 311.3 76.2 310.5 76.3 306.1 76.5 309.0 76.6 315.0 76.8 322.6 76.9 308.5 77.1 309.2 77.2 313.7 77.4 314.2 77.5 310.4 77.7 312.9 77.8 307.4 78.0 311.7 78.1 315.6 78.3 318.0 78.4 312.1 78.6 311.8 78.7 314.1 78.9 316.3 79.0 314.3 79.2 310.2 79.3 313.8 79.5 315.8 79.6 310.3 79.8 308.3 79.9 314.3 80.1 313.9 80.2 315.8 80.4 313.0 80.5 310.6 80.7 311.2 80.8 309.3 81.0 309.6 81.1 310.8 81.3 311.1 81.4 316.4 81.6 308.7 81.7 312.5 81.9 310.8 82.0 317.6 82.2 313.6 82.3 311.5 82.5 315.4 82.6 312.9 82.8 311.2 82.9 317.8 83.1 315.1 83.2 318.4 83.4 316.5 83.5 315.3 83.7 313.2 83.8 309.2 84.0 315.1 84.1 313.0 84.3 315.0 84.4 312.7 84.6 310.5 84.7 309.5 84.9 315.1 85.0 317.0 85.2 311.8 85.3 314.3 85.5 317.3 85.6 310.0 85.8 311.7 85.9 309.1 86.1 316.6 86.2 313.6 86.4 311.3 86.5 307.4 86.7 312.2 86.8 316.1 87.0 311.8 87.1 311.4 87.3 314.9 87.4 308.8 87.6 313.0 87.7 314.8 87.9 310.3 88.0 310.1 88.2 313.6 88.3 312.5 88.5 312.0 88.6 313.5 88.8 313.6 88.9 309.8 89.1 310.6 89.2 314.3 89.4 316.5 89.5 317.3 89.7 310.1 89.8 316.4 90.0 315.3 90.1 312.7 90.3 314.4 90.4 315.6 90.6 318.7 90.7 309.4 90.9 314.8 91.0 312.4 91.2 312.2 91.3 316.6 91.5 315.5 91.6 309.5 91.8 311.9 91.9 313.6 92.1 308.2 92.2 315.7 92.4 312.6 92.5 313.4 92.7 314.0 92.8 318.8 93.0 313.0 93.1 311.7 93.3 318.6 93.4 311.2 93.6 311.2 93.7 308.3 93.9 316.4 94.0 313.8 94.2 314.4 94.3 313.4 94.5 312.4 94.6 310.3 94.8 310.3 94.9 314.3 95.1 313.3 95.2 318.2 95.4 310.4 95.5 311.3 95.7 309.6 95.8 317.4 96.0 308.9 96.1 315.4 96.3 317.6 96.4 312.4 96.6 315.3 96.7 306.0 96.9 311.6 97.0 307.5 97.2 313.5 97.3 312.9 97.5 310.4 97.6 316.0 97.8 314.1 97.9 311.2 98.1 311.2 98.2 308.1 98.4 312.3 98.5 319.8 98.7 310.6 98.8 314.3 99.0 311.1 99.1 315.5 99.3 314.3 99.4 312.2 99.6 307.1 99.7 311.2 99.9 316.8 100.0 312.1 100.2 315.0 100.3 311.3 100.5 306.8 100.6 314.3 100.8 314.0 100.9 311.0 101.1 311.7 101.2 313.9 101.4 311.0 101.5 314.0 101.7 312.3 101.8 305.2 102.0 312.4 102.1 311.0 102.3 310.2 102.4 314.2 102.6 311.3 102.7 314.7 102.9 316.5 103.0 313.4 103.2 307.9 103.3 310.5 103.5 315.9 103.6 312.1 103.8 310.3 103.9 312.6 104.1 314.6 104.2 313.8 104.4 315.0 104.5 310.2 104.7 312.0 104.8 312.1 105.0 312.9 105.1 306.1 105.3 312.2 105.4 308.6 105.6 317.5 105.7 318.0 105.9 318.4 106.0 315.6 106.2 311.3 106.3 316.1 106.5 312.3 106.6 314.9 106.8 310.0 106.9 311.0 107.1 314.4 107.2 318.7 107.4 312.8 107.5 320.3 107.7 321.9 107.8 308.7 108.0 312.8 108.1 309.8 108.3 312.5 108.4 311.2 108.6 312.7 108.7 316.1 108.9 316.0 109.0 313.8 109.2 312.9 109.3 313.3 109.5 313.3 109.6 314.8 109.8 312.9 109.9 314.6 110.1 308.7 110.2 315.5 110.4 318.6 110.5 313.5 110.7 308.3 110.8 317.3 111.0 311.9 111.1 303.2 111.3 312.2 111.4 314.9 111.6 314.2 111.7 317.0 111.9 315.0 112.0 313.3 112.2 306.5 112.3 309.3 112.5 313.5 112.6 315.1 112.8 309.6 112.9 310.9 113.1 314.5 113.2 306.7 113.4 306.6 113.5 312.2 113.7 313.7 113.8 311.4 114.0 305.4 114.1 313.0 114.3 308.6 114.4 315.1 114.6 312.6 114.7 313.8 114.9 315.0 115.0 311.2 115.2 315.6 115.3 317.0 115.5 314.2 115.6 317.3 115.8 310.9 115.9 315.9 116.1 313.8 116.2 309.7 116.4 312.7 116.5 311.2 116.7 311.1 116.8 313.2 117.0 316.4 117.1 311.9 117.3 313.3 117.4 308.1 117.6 313.3 117.7 316.7 117.9 315.5 118.0 314.5 118.2 311.2 118.3 309.7 118.5 312.6 118.6 308.5 118.8 308.9 118.9 316.0 119.1 309.9 119.2 318.8 119.4 308.2 119.5 314.3 119.7 309.1 119.8 313.5 120.0 309.5 120.1 313.0 120.3 312.4 120.4 311.4 120.6 314.6 120.7 317.8 120.9 310.9 121.0 315.8 121.2 313.2 121.3 312.8 121.5 320.0 121.6 305.8 121.8 310.6 121.9 306.9 122.1 311.8 122.2 312.1 122.4 325.3 122.5 314.0 122.7 318.7 122.8 317.1 123.0 311.4 123.1 314.4 123.3 318.3 123.4 313.4 123.6 313.5 123.7 314.5 123.9 307.9 124.0 310.2 124.2 313.9 124.3 314.6 124.5 309.8 124.6 311.8 124.8 312.4 124.9 312.3 125.1 315.1 125.2 313.2 125.4 313.4 125.5 308.2 125.7 309.4 125.8 313.9 126.0 307.6 126.1 313.7 126.3 310.6 126.4 310.1 126.6 314.9 126.7 310.6 126.9 310.0 127.0 310.6 127.2 313.0 127.3 321.8 127.5 305.8 127.6 312.7 127.8 312.0 127.9 315.9 128.1 311.6 128.2 304.7 128.4 317.1 128.5 309.2 128.7 312.6 128.8 308.3 129.0 309.2 129.1 311.1 129.3 315.6 129.4 315.5 129.6 310.8 129.7 314.4 129.9 311.5 130.0 313.1 130.2 313.2 130.3 314.7 130.5 310.7 130.6 312.3 130.8 313.4 130.9 313.0 131.1 310.0 131.2 318.3 131.4 311.1 131.5 315.1 131.7 313.2 131.8 316.6 132.0 305.3 132.1 319.3 132.3 311.7 132.4 308.3 132.6 312.8 132.7 319.8 132.9 314.0 133.0 308.1 133.2 310.7 133.3 316.6 133.5 307.4 133.6 311.5 133.8 311.0 133.9 319.2 134.1 310.9 134.2 316.2 134.4 309.5 134.5 309.0 134.7 315.0 134.8 313.7 135.0 305.7 135.1 313.6 135.3 313.6 135.4 309.3 135.6 312.0 135.7 312.1 135.9 309.5 136.0 309.1 136.2 308.7 136.3 310.0 136.5 306.3 136.6 310.6 136.8 305.6 136.9 310.8 137.1 310.2 137.2 306.9 137.4 313.2 137.5 316.7 137.7 314.6 137.8 305.3 138.0 314.2 138.1 310.5 138.3 309.4 138.4 307.4 138.6 309.2 138.7 313.7 138.9 310.6 139.0 307.0 139.2 305.9 139.3 306.4 139.5 309.5 139.6 313.6 139.8 303.3 139.9 306.6 140.1 305.0 140.2 303.4 140.4 307.1 140.5 307.3 140.7 300.3 140.8 301.4 141.0 308.9 141.1 305.6 141.3 306.1 141.4 302.4 141.6 302.6 141.7 305.3 141.9 301.8 142.0 299.5 142.2 303.2 142.3 306.1 142.5 299.3 142.6 306.3 142.8 304.9 142.9 299.3 143.1 302.1 143.2 301.8 143.4 304.0 143.5 303.9 143.7 296.9 143.8 296.6 144.0 304.7 144.1 301.3 144.3 302.2 144.4 301.8 144.6 305.8 144.7 296.1 144.9 304.0 145.0 297.1 145.2 302.4 145.3 304.4 145.5 294.7 145.6 300.8 145.8 298.3 145.9 298.1 146.1 299.1 146.2 295.1 146.4 295.3 146.5 300.8 146.7 301.3 146.8 296.2 147.0 292.9 147.1 306.1 147.3 301.6 147.4 298.9 147.6 293.9 147.7 295.3 147.9 298.1 148.0 293.7 148.2 302.6 148.3 297.3 148.5 298.0 148.6 292.9 148.8 293.1 148.9 293.4 149.1 297.0 149.2 295.0 149.4 294.8 149.5 296.8 149.7 296.3 149.8 300.6 150.0 294.5 150.1 291.5 150.3 294.9 150.4 299.9 150.6 292.6 150.7 294.6 150.9 293.0 151.0 295.6 151.2 294.9 151.3 291.0 151.5 292.9 151.6 296.9 151.8 297.2 151.9 296.5 152.1 296.1 152.2 291.7 152.4 291.4 152.5 295.8 152.7 288.3 152.8 292.0 153.0 285.5 153.1 290.5 153.3 289.2 153.4 287.3 153.6 293.4 153.7 288.6 153.9 289.7 154.0 289.9 154.2 288.0 154.3 295.4 154.5 288.5 154.6 290.7 154.8 285.3 154.9 288.0 155.1 288.3 155.2 288.2 155.4 287.1 155.5 289.4 155.7 294.2 155.8 288.1 156.0 287.9 156.1 286.8 156.3 296.8 156.4 293.4 156.6 289.5 156.7 289.9 156.9 284.8 157.0 286.5 157.2 287.6 157.3 287.1 157.5 283.5 157.6 283.6 157.8 287.9 157.9 287.1 158.1 278.5 158.2 286.0 158.4 289.9 158.5 283.1 158.7 286.0 158.8 279.9 159.0 287.7 159.1 280.8 159.3 280.2 159.4 283.3 159.6 292.4 159.7 281.9 159.9 279.6 160.0 285.4 160.2 284.4 160.3 289.2 160.5 279.0 160.6 277.7 160.8 282.0 160.9 284.3 161.1 284.1 161.2 286.5 161.4 277.5 161.5 279.7 161.7 282.0 161.8 285.2 162.0 283.9 162.1 280.7 162.3 278.6 162.4 285.0 162.6 285.2 162.7 291.2 162.9 281.2 163.0 287.3 163.2 277.5 163.3 279.7 163.5 279.2 163.6 279.9 163.8 278.4 163.9 279.5 164.1 281.1 164.2 279.7 164.4 283.4 164.5 280.8 164.7 281.1 164.8 286.1 165.0 282.1 165.1 281.5 165.3 280.9 165.4 281.1 165.6 282.9 165.7 278.2 165.9 284.8 166.0 286.3 166.2 284.9 166.3 279.3 166.5 275.7 166.6 279.7 166.8 281.8 166.9 284.2 167.1 280.9 167.2 280.6 167.4 286.9 167.5 279.7 167.7 285.7 167.8 285.3 168.0 277.9 168.1 283.6 168.3 280.9 168.4 279.8 168.6 276.9 168.7 278.1 168.9 285.0 169.0 282.5 169.2 284.9 169.3 280.6 169.5 283.3 169.6 283.7 169.8 279.6 169.9 279.4 170.1 286.6 170.2 285.8 170.4 282.4 170.5 285.4 170.7 288.1 170.8 292.2 171.0 283.3 171.1 288.5 171.3 293.7 171.4 287.0 171.6 291.9 171.7 278.5 171.9 292.3 172.0 287.6 172.2 281.5 172.3 290.6 172.5 291.7 172.6 292.5 172.8 292.6 172.9 288.7 173.1 286.5 173.2 287.7 173.4 289.4 173.5 291.0 173.7 288.3 173.8 290.3 174.0 293.3 174.1 291.6 174.3 298.4 174.4 298.2 174.6 287.4 174.7 289.5 174.9 287.3 175.0 288.0 175.2 293.9 175.3 289.0 175.5 289.1 175.6 291.9 175.8 295.6 175.9 292.0 176.1 292.2 176.2 296.6 176.4 295.4 176.5 295.5 176.7 297.3 176.8 291.2 177.0 295.4 177.1 292.9 177.3 298.4 177.4 298.0 177.6 292.2 177.7 300.1 177.9 292.3 178.0 299.9 178.2 297.1 178.3 293.9 178.5 293.4 178.6 296.2 178.8 297.3 178.9 295.4 179.1 299.6 179.2 293.7 179.4 298.3 179.5 298.5 179.7 293.0 179.8 299.9 180.0 295.3 180.1 291.8 180.3 297.8 180.4 299.2 180.6 302.9 180.7 298.9 180.9 305.0 181.0 305.1 181.2 304.3 181.3 305.2 181.5 302.5 181.6 300.0 181.8 303.8 181.9 304.9 182.1 303.0 182.2 301.7 182.4 298.0 182.5 304.8 182.7 304.1 182.8 299.4 183.0 303.7 183.1 305.7 183.3 303.5 183.4 306.2 183.6 306.3 183.7 300.1 183.9 303.6 184.0 306.1 184.2 307.5 184.3 309.0 184.5 299.8 184.6 305.2 184.8 307.6 184.9 309.2 185.1 310.6 185.2 303.5 185.4 305.2 185.5 303.5 185.7 308.9 185.8 303.1 186.0 310.2 186.1 309.7 186.3 308.6 186.4 301.5 186.6 305.8 186.7 309.8 186.9 304.1 187.0 307.4 187.2 307.9 187.3 310.8 187.5 309.3 187.6 309.4 187.8 307.6 187.9 309.0 188.1 308.7 188.2 311.1 188.4 308.9 188.5 312.2 188.7 305.2 188.8 312.8 189.0 309.4 189.1 312.8 189.3 310.2 189.4 312.3 189.6 314.0 189.7 308.9 189.9 310.6 190.0 310.0 190.2 311.0 190.3 306.5 190.5 310.2 190.6 310.1 190.8 308.9 190.9 310.4 191.1 307.2 191.2 314.5 191.4 312.2 191.5 315.8 191.7 309.1 191.8 308.5 192.0 312.1 192.1 307.4 192.3 312.1 192.4 309.9 192.6 310.9 192.7 312.3 192.9 311.9 193.0 316.3 193.2 313.4 193.3 309.0 193.5 314.4 193.6 309.0 193.8 312.4 193.9 309.4 194.1 310.4 194.2 315.4 194.4 311.1 194.5 311.0 194.7 311.3 194.8 311.9 195.0 315.9 195.1 310.0 195.3 310.0 195.4 314.1 195.6 309.3 195.7 312.1 195.9 315.4 196.0 313.0 196.2 312.0 196.3 311.5 196.5 311.1 196.6 311.9 196.8 313.5 196.9 315.9 197.1 315.3 197.2 312.1 197.4 311.8 197.5 314.8 197.7 309.6 197.8 312.5 198.0 312.8 198.1 311.2 198.3 311.4 198.4 314.2 198.6 310.2 198.7 311.7 198.9 312.3 199.0 313.8 199.2 310.9 199.3 315.8 199.5 313.0 199.6 313.1 199.8 313.0 199.9 312.4 200.1 311.8 200.2 316.0 200.4 314.1 200.5 313.5 200.7 315.7 200.8 312.3 201.0 315.0 201.1 313.8 201.3 312.0 201.4 315.2 201.6 310.8 201.7 315.0 201.9 312.0 202.0 314.6 202.2 316.5 202.3 314.9 202.5 312.6 202.6 313.7 202.8 313.1 202.9 311.5 203.1 311.6 203.2 313.9 203.4 314.9 203.5 310.4 203.7 313.7 203.8 314.8 204.0 314.1 204.1 311.9 204.3 315.9 204.4 311.5 204.6 315.1 204.7 317.0 204.9 309.9 205.0 314.4 205.2 314.5 205.3 314.3 205.5 312.4 205.6 313.3 205.8 311.2 205.9 314.2 206.1 315.0 206.2 312.6 206.4 312.1 206.5 313.0 206.7 313.9 206.8 314.1 207.0 313.8 207.1 314.1 207.3 311.4 207.4 308.7 207.6 315.2 207.7 316.8 207.9 311.3 208.0 312.7 208.2 314.6 208.3 315.9 208.5 315.3 208.6 316.5 208.8 313.9 208.9 314.8 209.1 314.8 209.2 313.2 209.4 316.4 209.5 315.3 209.7 316.0 209.8 313.3 210.0 316.1 210.1 312.1 210.3 314.9 210.4 309.1 210.6 312.2 210.7 315.5 210.9 313.2 211.0 314.5 211.2 311.0 211.3 317.1 211.5 315.3 211.6 314.1 211.8 314.9 211.9 314.8 212.1 316.9 212.2 314.6 212.4 311.3 212.5 313.7 212.7 316.6 212.8 315.3 213.0 313.4 213.1 315.4 213.3 314.4 213.4 315.4 213.6 311.2 213.7 312.5 213.9 315.5 214.0 313.8 214.2 314.9 214.3 318.0 214.5 313.6 214.6 314.7 214.8 313.2 214.9 313.1 215.1 314.1 215.2 311.5 215.4 310.3 215.5 316.9 215.7 314.1 215.8 316.4 216.0 314.5 216.1 314.6 216.3 315.6 216.4 315.7 216.6 312.0 216.7 316.6 216.9 312.5 217.0 314.7 217.2 319.2 217.3 314.5 217.5 317.5 217.6 313.7 217.8 315.5 217.9 314.5 218.1 315.2 218.2 312.7 218.4 312.6 218.5 315.0 218.7 311.4 218.8 312.8 219.0 315.6 219.1 313.2 219.3 312.7 219.4 312.3 219.6 314.7 219.7 313.7 219.9 314.7 220.0 314.1 220.2 317.9 220.3 313.6 220.5 310.7 220.6 314.7 220.8 314.4 220.9 314.7 221.1 311.4 221.2 316.6 221.4 314.4 221.5 314.4 221.7 311.5 221.8 315.4 222.0 314.3 222.1 317.0 222.3 313.7 222.4 312.2 222.6 314.7 222.7 312.8 222.9 315.3 223.0 312.5 223.2 314.3 223.3 314.1 223.5 314.4 223.6 313.5 223.8 313.0 223.9 314.4 224.1 313.4 224.2 314.8 224.4 314.0 224.5 310.3 224.7 314.4 224.8 317.1 225.0 315.1 225.1 315.7 225.3 315.4 225.4 313.7 225.6 312.1 225.7 316.1 225.9 316.5 226.0 315.6 226.2 315.4 226.3 315.3 226.5 314.5 226.6 315.1 226.8 314.6 226.9 315.2 227.1 312.8 227.2 313.4 227.4 315.6 227.5 314.0 227.7 310.1 227.8 314.8 228.0 310.4 228.1 318.1 228.3 315.9 228.4 315.9 228.6 313.4 228.7 312.5 228.9 314.2 229.0 314.7 229.2 313.2 229.3 314.9 229.5 315.9 229.6 315.7 229.8 312.7 229.9 310.7 230.1 314.6 230.2 313.4 230.4 315.5 230.5 317.7 230.7 317.7 230.8 315.2 231.0 316.7 231.1 317.7 231.3 314.8 231.4 315.2 231.6 316.2 231.7 314.6 231.9 313.8 232.0 313.3 232.2 314.7 232.3 313.6 232.5 316.1 232.6 314.1 232.8 317.4 232.9 316.9 233.1 312.5 233.2 316.7 233.4 314.0 233.5 317.2 233.7 315.7 233.8 314.6 234.0 315.9 234.1 313.7 234.3 315.3 234.4 315.4 234.6 314.5 234.7 315.4 234.9 312.9 235.0 315.8 235.2 312.6 235.3 315.9 235.5 315.6 235.6 316.0 235.8 313.8 235.9 320.2 236.1 314.4 236.2 315.0 236.4 313.4 236.5 317.4 236.7 313.9 236.8 316.6 237.0 313.1 237.1 315.4 237.3 314.1 237.4 316.5 237.6 314.3 237.7 313.3 237.9 315.6 238.0 312.7 238.2 313.1 238.3 316.2 238.5 311.5 238.6 316.2 238.8 314.1 238.9 313.2 239.1 315.3 239.2 316.0 239.4 313.8 239.5 314.5 239.7 316.3 239.8 316.2 240.0 314.8 240.1 313.5 240.3 313.2 240.4 313.8 240.6 316.1 240.7 315.9 240.9 315.4 241.0 317.3 241.2 314.3 241.3 314.2 241.5 314.2 241.6 318.3 241.8 311.2 241.9 315.4 242.1 315.7 242.2 315.0 242.4 319.0 242.5 317.0 242.7 316.3 242.8 313.3 243.0 315.8 243.1 314.3 243.3 315.0 243.4 315.3 243.6 314.1 243.7 316.0 243.9 317.8 244.0 316.7 244.2 315.3 244.3 311.5 244.5 316.8 244.6 316.8 244.8 314.6 244.9 314.1 245.1 316.1 245.2 313.5 245.4 316.3 245.5 313.1 245.7 313.3 245.8 315.0 246.0 312.4 246.1 315.0 246.3 315.9 246.4 312.7 246.6 316.6 246.7 314.0 246.9 315.9 247.0 315.3 247.2 314.2 247.3 314.1 247.5 312.0 247.6 313.8 247.8 313.6 247.9 317.8 248.1 316.7 248.2 312.6 248.4 316.4 248.5 315.4 248.7 314.3 248.8 315.8 249.0 316.4 249.1 314.0 249.3 314.5 249.4 315.3 249.6 313.3 249.7 315.3 249.9 314.8 250.0 313.8 250.2 313.5 250.3 315.5 250.5 316.5 250.6 315.6 250.8 313.5 250.9 316.3 251.1 315.3 251.2 316.0 251.4 317.0 251.5 313.4 251.7 314.8 251.8 314.0 252.0 313.5 252.1 318.5 252.3 316.6 252.4 312.0 252.6 315.7 252.7 314.0 252.9 317.0 253.0 315.1 253.2 314.7 253.3 315.3 253.5 315.7 253.6 315.1 253.8 314.6 253.9 314.8 254.1 315.9 254.2 313.1 254.4 315.0 254.5 314.8 254.7 314.2 254.8 316.3 255.0 312.8 255.1 314.4 255.3 313.6 255.4 315.9 255.6 314.2 255.7 315.1 255.9 315.7 256.0 312.3 256.2 315.8 256.3 313.7 256.5 314.6 256.6 314.8 256.8 316.4 256.9 316.3 257.1 318.0 257.2 315.3 257.4 314.2 257.5 314.2 257.7 316.1 257.8 317.8 258.0 315.6 258.1 314.0 258.3 315.5 258.4 315.5 258.6 315.1 258.7 313.8 258.9 310.7 259.0 314.1 259.2 316.8 259.3 315.4 259.5 311.3 259.6 315.0 259.8 311.9 259.9 318.4 260.1 315.4 260.2 313.0 260.4 316.4 260.5 313.7 260.7 316.0 260.8 315.1 261.0 313.0 261.1 316.2 261.3 312.8 261.4 317.3 261.6 315.1 261.7 313.3 261.9 312.0 262.0 317.8 262.2 317.5 262.3 312.9 262.5 317.8 262.6 315.3 262.8 314.7 262.9 314.9 263.1 314.6 263.2 317.5 263.4 315.3 263.5 311.9 263.7 318.6 263.8 316.5 264.0 313.2 264.1 314.4 264.3 313.5 264.4 315.1 264.6 315.7 264.7 315.4 264.9 314.0 265.0 313.7 265.2 316.5 265.3 314.9 265.5 318.8 265.6 313.7 265.8 316.4 265.9 315.1 266.1 313.8 266.2 317.3 266.4 315.3 266.5 313.6 266.7 314.5 266.8 316.8 267.0 313.0 267.1 317.4 267.3 316.2 267.4 314.6 267.6 317.3 267.7 318.0 267.9 316.1 268.0 315.3 268.2 318.2 268.3 317.6 268.5 313.5 268.6 314.7 268.8 314.7 268.9 314.4 269.1 312.5 269.2 316.6 269.4 315.2 269.5 315.2 269.7 317.4 269.8 314.1 270.0 315.0 270.1 315.5 270.3 314.3 270.4 314.9 270.6 316.3 270.7 315.1 270.9 317.3 271.0 313.8 271.2 315.4 271.3 312.7 271.5 314.9 271.6 313.9 271.8 317.4 271.9 316.3 272.1 315.9 272.2 318.2 272.4 317.5 272.5 316.3 272.7 313.9 272.8 312.6 273.0 315.0 273.1 314.5 273.3 314.0 273.4 314.6 273.6 312.3 273.7 317.6 273.9 313.2 274.0 314.0 274.2 316.0 274.3 312.4 274.5 316.6 274.6 316.6 274.8 314.6 274.9 313.3 275.1 314.3 275.2 312.0 275.4 317.4 275.5 315.2 275.7 313.8 275.8 313.6 276.0 316.0 276.1 317.6 276.3 313.0 276.4 314.1 276.6 312.1 276.7 316.2 276.9 315.3 277.0 318.9 277.2 314.9 277.3 314.4 277.5 313.9 277.6 316.5 277.8 312.4 277.9 316.3 278.1 315.5 278.2 314.2 278.4 313.6 278.5 316.8 278.7 318.2 278.8 314.3 279.0 316.0 279.1 318.0 279.3 314.1 279.4 314.7 279.6 313.1 279.7 314.8 279.9 315.0 280.0 314.4 280.2 313.9 280.3 312.5 280.5 312.8 280.6 313.5 280.8 316.2 280.9 314.2 281.1 313.7 281.2 316.2 281.4 316.0 281.5 313.8 281.7 314.1 281.8 316.2 282.0 315.7 282.1 313.7 282.3 315.5 282.4 315.1 282.6 317.0 282.7 313.7 282.9 316.6 283.0 315.8 283.2 313.4 283.3 316.9 283.5 316.6 283.6 312.9 283.8 318.4 283.9 313.2 284.1 313.6 284.2 314.6 284.4 316.4 284.5 316.1 284.7 314.9 284.8 317.4 285.0 315.8 285.1 317.4 285.3 319.8 285.4 315.4 285.6 310.8 285.7 314.4 285.9 313.3 286.0 315.3 286.2 315.3 286.3 313.1 286.5 313.2 286.6 314.7 286.8 314.8 286.9 310.8 287.1 316.7 287.2 315.2 287.4 315.1 287.5 315.6 287.7 313.4 287.8 315.0 288.0 316.9 288.1 316.9 288.3 315.9 288.4 314.6 288.6 313.7 288.7 317.3 288.9 316.0 289.0 314.4 289.2 311.5 289.3 313.7 289.5 311.9 289.6 317.2 289.8 315.4 289.9 313.9 290.1 314.7 290.2 319.5 290.4 317.2 290.5 312.9 290.7 314.9 290.8 313.0 291.0 312.2 291.1 315.4 291.3 319.2 291.4 317.8 291.6 315.2 291.7 314.5 291.9 315.5 292.0 316.9 292.2 312.7 292.3 312.0 292.5 318.3 292.6 315.6 292.8 317.8 292.9 315.5 293.1 317.6 293.2 314.1 293.4 316.0 293.5 317.8 293.7 316.9 293.8 314.4 294.0 316.6 294.1 314.0 294.3 312.7 294.4 316.0 294.6 317.5 294.7 316.6 294.9 313.0 295.0 316.6 295.2 316.3 295.3 314.4 295.5 310.9 295.6 316.9 295.8 316.6 295.9 316.0 296.1 312.2 296.2 312.6 296.4 316.9 296.5 316.5 296.7 316.0 296.8 314.7 297.0 315.8 297.1 314.2 297.3 314.6 297.4 313.7 297.6 315.6 297.7 314.4 297.9 316.8 298.0 316.4 298.2 313.8 298.3 318.3 298.5 313.2 298.6 315.9 298.8 317.0 298.9 317.3 299.1 311.4 299.2 316.8 299.4 317.2 299.5 317.6 299.7 311.4 299.8 314.0 300.0 315.0 300.1 314.4 300.3 317.4 300.4 314.0 300.6 317.2 300.7 316.1 300.9 312.7 301.0 313.5 301.2 314.4 301.3 315.3 301.5 316.8 301.6 314.8 301.8 316.7 301.9 312.5 302.1 310.0 302.2 314.6 302.4 315.9 302.5 314.5 302.7 313.4 302.8 315.9 303.0 318.4 303.1 315.0 303.3 313.9 303.4 313.7 303.6 318.5 303.7 315.1 303.9 316.2 304.0 317.2 304.2 317.0 304.3 313.6 304.5 316.8 304.6 316.6 304.8 316.0 304.9 316.9 305.1 314.2 305.2 315.0 305.4 314.3 305.5 316.4 305.7 314.1 305.8 315.8 306.0 313.3 306.1 315.0 306.3 314.5 306.4 315.0 306.6 315.4 306.7 314.9 306.9 314.8 307.0 311.7 307.2 317.0 307.3 314.1 307.5 314.7 307.6 313.8 307.8 316.9 307.9 313.6 308.1 316.0 308.2 317.2 308.4 318.0 308.5 317.2 308.7 316.2 308.8 313.1 309.0 317.4 309.1 317.2 309.3 316.6 309.4 316.5 309.6 315.3 309.7 314.3 309.9 317.0 310.0 317.3 310.2 313.4 310.3 316.7 310.5 315.6 310.6 316.7 310.8 315.6 310.9 317.1 311.1 316.9 311.2 316.7 311.4 312.9 311.5 316.6 311.7 315.3 311.8 313.3 312.0 316.4 312.1 312.9 312.3 316.7 312.4 318.1 312.6 314.4 312.7 316.8 312.9 316.0 313.0 316.3 313.2 312.9 313.3 316.2 313.5 315.4 313.6 316.5 313.8 315.2 313.9 317.1 314.1 315.7 314.2 316.4 314.4 317.5 314.5 315.5 314.7 316.9 314.8 315.6 315.0 316.1 315.1 314.3 315.3 316.5 315.4 317.3 315.6 315.1 315.7 316.6 315.9 316.0 316.0 313.4 316.2 315.8 316.3 317.4 316.5 314.4 316.6 312.3 316.8 315.6 316.9 314.2 317.1 318.4 317.2 315.2 317.4 315.2 317.5 314.2 317.7 315.7 317.8 314.3 318.0 313.7 318.1 315.1 318.3 313.9 318.4 317.4 318.6 313.3 318.7 315.1 318.9 314.1 319.0 313.0 319.2 318.0 319.3 311.8 319.5 317.7 319.6 312.9 319.8 315.4 319.9 319.0 320.1 311.7 320.2 313.0 320.4 317.4 320.5 315.5 320.7 314.3 320.8 315.2 321.0 313.7 321.1 315.5 321.3 317.7 321.4 314.6 321.6 315.5 321.7 317.3 321.9 318.6 322.0 314.3 322.2 315.8 322.3 314.3 322.5 314.2 322.6 314.6 322.8 314.2 322.9 312.4 323.1 312.0 323.2 314.0 323.4 315.5 323.5 317.3 323.7 314.4 323.8 315.0 324.0 316.4 324.1 316.5 324.3 315.1 324.4 315.2 324.6 318.4 324.7 314.7 324.9 314.5 325.0 312.6 325.2 316.0 325.3 314.8 325.5 318.4 325.6 314.7 325.8 316.6 325.9 316.8 326.1 318.0 326.2 313.1 326.4 317.9 326.5 315.3 326.7 315.1 326.8 314.8 327.0 314.6 327.1 314.7 327.3 311.4 327.4 316.1 327.6 315.4 327.7 313.7 327.9 315.2 328.0 319.1 328.2 315.9 328.3 314.6 328.5 318.1 328.6 314.0 328.8 315.0 328.9 314.4 329.1 314.9 329.2 316.5 329.4 316.2 329.5 314.1 329.7 315.1 329.8 315.4 330.0 314.6 330.1 315.2 330.3 314.1 330.4 314.1 330.6 315.3 330.7 313.6 330.9 316.0 331.0 315.0 331.2 313.8 331.3 314.3 331.5 314.5 331.6 315.0 331.8 315.5 331.9 314.9 332.1 313.8 332.2 317.6 332.4 316.8 332.5 315.5 332.7 316.8 332.8 315.8 333.0 314.8 333.1 315.4 333.3 319.6 333.4 316.9 333.6 317.0 333.7 314.6 333.9 316.3 334.0 319.0 334.2 316.0 334.3 317.0 334.5 317.3 334.6 316.3 334.8 317.9 334.9 315.7 335.1 316.1 335.2 314.2 335.4 319.6 335.5 315.8 335.7 315.5 335.8 317.5 336.0 314.5 336.1 315.3 336.3 314.0 336.4 315.3 336.6 314.6 336.7 316.2 336.9 315.1 337.0 314.3 337.2 314.8 337.3 315.1 337.5 314.4 337.6 316.8 337.8 316.4 337.9 315.5 338.1 313.3 338.2 316.1 338.4 313.2 338.5 315.6 338.7 315.4 338.8 314.3 339.0 313.9 339.1 314.1 339.3 318.6 339.4 314.8 339.6 314.9 339.7 316.8 339.9 316.0 340.0 317.0 340.2 313.3 340.3 313.5 340.5 320.7 340.6 315.2 340.8 314.8 340.9 315.5 341.1 316.9 341.2 313.4 341.4 315.7 341.5 315.2 341.7 316.4 341.8 315.6 342.0 314.4 342.1 313.9 342.3 311.3 342.4 316.9 342.6 312.9 342.7 314.6 342.9 318.0 343.0 314.6 343.2 316.3 343.3 314.9 343.5 316.4 343.6 315.3 343.8 314.5 343.9 317.5 344.1 314.9 344.2 313.1 344.4 314.8 344.5 316.2 344.7 313.5 344.8 316.6 345.0 316.5 345.1 318.7 345.3 314.3 345.4 316.4 345.6 312.6 345.7 314.6 345.9 315.5 346.0 315.9 346.2 315.2 346.3 315.1 346.5 314.3 346.6 314.6 346.8 315.8 346.9 316.2 347.1 316.3 347.2 316.9 347.4 317.2 347.5 312.4 347.7 314.5 347.8 315.0 348.0 314.3 348.1 317.0 348.3 316.5 348.4 315.1 348.6 315.5 348.7 317.3 348.9 314.7 349.0 314.8 349.2 316.8 349.3 316.1 349.5 317.6 349.6 315.9 349.8 316.5 349.9 314.4 350.1 313.8 350.2 315.3 350.4 311.0 350.5 316.0 350.7 316.9 350.8 315.4 351.0 314.9 351.1 317.0 351.3 315.2 351.4 316.9 351.6 318.8 351.7 316.5 351.9 316.8 352.0 316.1 352.2 315.7 352.3 315.7 352.5 315.4 352.6 317.0 352.8 312.7 352.9 314.9 353.1 316.4 353.2 313.9 353.4 315.1 353.5 314.2 353.7 316.0 353.8 316.7 354.0 317.6 354.1 316.1 354.3 314.2 354.4 315.7 354.6 316.2 354.7 317.6 354.9 311.9 355.0 315.9 355.2 312.4 355.3 316.5 355.5 316.0 355.6 316.1 355.8 316.7 355.9 315.9 356.1 314.3 356.2 315.9 356.4 317.2 356.5 315.1 356.7 315.4 356.8 313.4 357.0 317.2 357.1 314.5 357.3 314.1 357.4 314.6 357.6 313.9 357.7 314.9 357.9 317.4 358.0 316.6 358.2 317.6 358.3 317.7 358.5 313.9 358.6 316.1 358.8 317.7 358.9 319.0 359.1 313.1 359.2 313.0 359.4 316.1 359.5 314.8 359.7 313.7 359.8 315.9 360.0 314.1 360.1 311.7 360.3 315.3 360.4 315.5 360.6 316.3 360.7 316.8 360.9 315.6 361.0 314.9 361.2 314.2 361.3 312.7 361.5 314.6 361.6 316.9 361.8 316.4 361.9 318.6 362.1 315.1 362.2 312.5 362.4 316.6 362.5 317.0 362.7 313.4 362.8 312.7 363.0 315.6 363.1 316.4 363.3 313.5 363.4 314.8 363.6 314.1 363.7 313.4 363.9 313.2 364.0 315.5 364.2 314.7 364.3 314.2 364.5 311.1 364.6 318.1 364.8 313.8 364.9 315.1 365.1 313.5 365.2 315.9 365.4 312.9 365.5 315.5 365.7 315.0 365.8 316.8 366.0 313.6 366.1 314.3 366.3 314.9 366.4 318.6 366.6 313.0 366.7 315.8 366.9 314.3 367.0 315.8 367.2 316.3 367.3 315.5 367.5 315.7 367.6 315.7 367.8 314.4 367.9 315.0 368.1 312.7 368.2 314.7 368.4 314.1 368.5 314.9 368.7 316.5 368.8 315.9 369.0 316.1 369.1 317.1 369.3 311.5 369.4 316.0 369.6 315.3 369.7 315.1 369.9 313.2 370.0 316.2 370.2 317.1 370.3 316.9 370.5 315.2 370.6 316.3 370.8 316.8 370.9 318.2 371.1 317.3 371.2 315.5 371.4 315.4 371.5 315.6 371.7 315.7 371.8 314.5 372.0 316.5 372.1 314.2 372.3 314.0 372.4 315.9 372.6 314.4 372.7 314.9 372.9 312.0 373.0 316.6 373.2 315.3 373.3 315.1 373.5 316.0 373.6 315.6 373.8 314.2 373.9 318.5 374.1 314.6 374.2 316.9 374.4 318.2 374.5 314.3 374.7 315.4 374.8 314.0 375.0 317.0 375.1 314.8 375.3 313.5 375.4 317.4 375.6 316.8 375.7 313.9 375.9 317.2 376.0 315.6 376.2 319.6 376.3 318.0 376.5 314.4 376.6 314.9 376.8 313.9 376.9 315.5 377.1 315.4 377.2 316.5 377.4 315.4 377.5 313.0 377.7 314.0 377.8 317.6 378.0 317.1 378.1 315.0 378.3 315.1 378.4 315.0 378.6 315.3 378.7 312.6 378.9 316.7 379.0 314.3 379.2 315.5 379.3 311.3 379.5 315.7 379.6 317.4 379.8 311.7 379.9 317.7 380.1 316.1 380.2 314.1 380.4 312.8 380.5 317.2 380.7 315.7 380.8 316.2 381.0 314.9 381.1 314.0 381.3 316.7 381.4 313.8 381.6 316.7 381.7 312.6 381.9 313.8 382.0 313.0 382.2 317.4 382.3 312.5 382.5 313.5 382.6 316.4 382.8 315.7 382.9 318.8 383.1 318.2 383.2 316.3 383.4 316.4 383.5 312.4 383.7 313.9 383.8 314.8 384.0 315.0 384.1 313.1 384.3 313.8 384.4 314.0 384.6 317.0 384.7 316.0 384.9 314.8 385.0 314.9 385.2 315.8 385.3 314.2 385.5 314.9 385.6 312.6 385.8 316.4 385.9 316.8 386.1 315.9 386.2 316.1 386.4 315.9 386.5 318.6 386.7 315.6 386.8 313.2 387.0 313.6 387.1 316.4 387.3 317.0 387.4 316.5 387.6 316.6 387.7 315.6 387.9 312.9 388.0 314.2 388.2 312.4 388.3 314.7 388.5 313.1 388.6 315.5 388.8 315.0 388.9 312.2 389.1 316.5 389.2 316.5 389.4 313.1 389.5 315.5 389.7 316.5 389.8 314.8 390.0 316.7 390.1 315.6 390.3 317.0 390.4 315.6 390.6 315.0 390.7 316.1 390.9 316.6 391.0 315.7 391.2 314.6 391.3 314.0 391.5 314.7 391.6 314.4 391.8 315.6 391.9 315.6 392.1 315.2 392.2 315.3 392.4 315.6 392.5 317.8 392.7 317.2 392.8 314.4 393.0 316.0 393.1 314.8 393.3 315.1 393.4 314.9 393.6 314.3 393.7 313.1 393.9 311.4 394.0 315.6 394.2 317.2 394.3 313.8 394.5 316.1 394.6 314.7 394.8 315.7 394.9 314.0 395.1 314.9 395.2 315.1 395.4 311.5 395.5 315.6 395.7 315.1 395.8 311.3 396.0 316.3 396.1 315.2 396.3 315.6 396.4 315.9 396.6 314.6 396.7 313.6 396.9 314.6 397.0 314.6 397.2 318.8 397.3 318.2 397.5 314.5 397.6 314.6 397.8 315.8 397.9 316.2 398.1 314.2 398.2 313.7 398.4 318.4 398.5 317.0 398.7 312.8 398.8 312.5 399.0 314.0 399.1 315.6 399.3 316.2 399.4 314.7 399.6 312.7 399.7 315.6 399.9 316.2 400.0 315.3 400.2 314.5 400.3 316.2 400.5 315.2 400.6 313.5 400.8 315.4 400.9 313.2 401.1 316.8 401.2 316.0 401.4 313.7 401.5 315.6 401.7 317.3 401.8 311.8 402.0 315.1 402.1 317.9 402.3 312.8 402.4 315.0 402.6 313.0 402.7 315.2 402.9 311.4 403.0 312.7 403.2 314.4 403.3 315.5 403.5 315.9 403.6 316.0 403.8 317.1 403.9 316.4 404.1 316.5 404.2 313.7 404.4 315.0 404.5 320.4 404.7 319.0 404.8 316.6 405.0 316.5 405.1 316.9 405.3 314.6 405.4 318.5 405.6 314.7 405.7 315.2 405.9 318.8 406.0 311.9 406.2 315.9 406.3 312.5 406.5 314.2 406.6 315.1 406.8 314.7 406.9 315.6 407.1 314.0 407.2 315.1 407.4 313.4 407.5 314.7 407.7 313.0 407.8 316.4 408.0 313.2 408.1 316.4 408.3 314.6 408.4 314.8 408.6 317.2 408.7 315.5 408.9 312.2 409.0 316.1 409.2 310.6 409.3 315.7 409.5 314.6 409.6 313.0 409.8 315.4 409.9 314.8 410.1 318.6 410.2 314.6 410.4 318.5 410.5 317.5 410.7 314.3 410.8 314.0 411.0 317.4 411.1 315.1 411.3 315.6 411.4 314.9 411.6 313.3 411.7 314.7 411.9 313.7 412.0 312.8 412.2 314.8 412.3 318.2 412.5 317.9 412.6 315.2 412.8 315.5 412.9 316.1 413.1 317.5 413.2 315.8 413.4 314.5 413.5 314.7 413.7 317.2 413.8 319.6 414.0 314.3 414.1 311.9 414.3 316.6 414.4 315.2 414.6 315.5 414.7 317.3 414.9 315.4 415.0 313.1 415.2 312.1 415.3 315.2 415.5 313.4 415.6 315.8 415.8 313.2 415.9 314.7 416.1 312.9 416.2 314.7 416.4 314.6 416.5 316.3 416.7 317.5 416.8 315.0 417.0 313.9 417.1 318.5 417.3 315.9 417.4 316.3 417.6 316.3 417.7 317.7 417.9 317.0 418.0 316.4 418.2 316.6 418.3 313.9 418.5 314.3 418.6 315.1 418.8 315.5 418.9 315.3 419.1 315.8 419.2 315.3 419.4 314.6 419.5 312.6 419.7 316.7 419.8 316.3 420.0 313.9 420.1 316.1 420.3 316.0 420.4 315.4 420.6 312.3 420.7 313.3 420.9 314.3 421.0 318.0 421.2 313.9 421.3 314.7 421.5 313.5 421.6 314.5 421.8 315.9 421.9 311.9 422.1 310.6 422.2 316.4 422.4 315.4 422.5 314.3 422.7 316.9 422.8 316.9 423.0 311.9 423.1 315.0 423.3 317.1 423.4 314.2 423.6 314.8 423.7 316.9 423.9 314.9 424.0 313.3 424.2 314.2 424.3 313.1 424.5 316.2 424.6 312.5 424.8 317.0 424.9 312.6 425.1 315.4 425.2 312.9 425.4 314.8 425.5 317.0 425.7 317.2 425.8 317.5 426.0 315.2 426.1 315.5 426.3 315.7 426.4 316.3 426.6 314.7 426.7 317.1 426.9 315.8 427.0 317.2 427.2 316.1 427.3 316.4 427.5 314.1 427.6 314.6 427.8 313.2 427.9 314.8 428.1 315.0 428.2 316.7 428.4 313.2 428.5 320.6 428.7 315.1 428.8 317.4 429.0 317.0 429.1 311.2 429.3 314.9 429.4 317.7 429.6 311.3 429.7 316.6 429.9 313.8 430.0 314.5 430.2 315.7 430.3 312.2 430.5 315.6 430.6 314.3 430.8 314.1 430.9 316.5 431.1 321.1 431.2 315.9 431.4 316.2 431.5 315.2 431.7 314.1 431.8 315.7 432.0 317.8 432.1 315.6 432.3 316.8 432.4 314.9 432.6 319.5 432.7 312.6 432.9 316.3 433.0 316.2 433.2 315.7 433.3 313.5 433.5 313.4 433.6 314.9 433.8 315.5 433.9 313.3 434.1 313.6 434.2 316.2 434.4 317.0 434.5 314.4 434.7 314.2 434.8 314.1 435.0 319.4 435.1 316.1 435.3 315.2 435.4 317.0 435.6 319.1 435.7 317.2 435.9 313.0 436.0 315.2 436.2 314.6 436.3 314.7 436.5 313.3 436.6 314.7 436.8 313.5 436.9 315.9 437.1 315.4 437.2 313.0 437.4 312.5 437.5 314.5 437.7 316.4 437.8 316.1 438.0 315.2 438.1 309.9 438.3 314.5 438.4 314.1 438.6 314.7 438.7 313.3 438.9 314.6 439.0 314.2 439.2 319.8 439.3 316.5 439.5 315.0 439.6 315.2 439.8 315.1 439.9 315.6 440.1 314.6 440.2 315.3 440.4 317.0 440.5 316.7 440.7 315.8 440.8 317.5 441.0 315.7 441.1 313.7 441.3 312.4 441.4 314.2 441.6 315.2 441.7 316.0 441.9 317.1 442.0 314.4 442.2 314.0 442.3 316.6 442.5 317.2 442.6 314.5 442.8 315.9 442.9 317.6 443.1 315.8 443.2 315.2 443.4 311.9 443.5 317.5 443.7 316.4 443.8 315.5 444.0 314.5 444.1 313.3 444.3 315.1 444.4 315.1 444.6 317.1 444.7 313.3 444.9 317.7 445.0 315.4 445.2 317.3 445.3 313.7 445.5 315.9 445.6 317.3 445.8 315.5 445.9 312.9 446.1 314.8 446.2 316.2 446.4 313.0 446.5 312.9 446.7 315.7 446.8 313.7 447.0 316.4 447.1 313.4 447.3 312.3 447.4 314.0 447.6 317.8 447.7 313.9 447.9 315.3 448.0 315.7 448.2 313.7 448.3 317.1 448.5 315.6 448.6 316.0 448.8 312.5 448.9 312.4 449.1 310.8 449.2 315.0 449.4 314.9 449.5 316.5 449.7 317.7 449.8 314.9 450.0 314.9 450.1 316.0 450.3 317.8 450.4 314.0 450.6 316.3 450.7 314.9 450.9 314.8 451.0 316.6 451.2 314.0 451.3 313.6 451.5 316.4 451.6 315.3 451.8 314.9 451.9 315.1 452.1 316.1 452.2 314.7 452.4 316.6 452.5 316.0 452.7 317.7 452.8 317.4 453.0 316.7 453.1 315.0 453.3 315.5 453.4 314.3 453.6 320.0 453.7 315.0 453.9 316.2 454.0 317.5 454.2 313.1 454.3 314.0 454.5 314.7 454.6 313.7 454.8 313.2 454.9 314.5 455.1 317.4 455.2 316.5 455.4 315.4 455.5 315.4 455.7 312.6 455.8 316.5 456.0 316.0 456.1 313.6 456.3 315.7 456.4 315.0 456.6 314.5 456.7 313.7 456.9 314.2 457.0 313.8 457.2 316.1 457.3 315.9 457.5 315.9 457.6 315.0 457.8 314.7 457.9 318.7 458.1 312.3 458.2 317.3 458.4 315.9 458.5 315.4 458.7 314.5 458.8 315.0 459.0 313.4 459.1 313.1 459.3 315.1 459.4 312.6 459.6 316.7 459.7 317.2 459.9 309.7 460.0 312.8 460.2 315.8 460.3 315.7 460.5 315.5 460.6 316.0 460.8 316.6 460.9 316.7 461.1 318.3 461.2 315.4 461.4 316.7 461.5 312.7 461.7 315.1 461.8 313.3 462.0 317.6 462.1 319.1 462.3 316.2 462.4 313.2 462.6 315.2 462.7 315.4 462.9 315.7 463.0 317.1 463.2 316.9 463.3 311.0 463.5 317.6 463.6 314.5 463.8 314.4 463.9 317.7 464.1 314.9 464.2 313.1 464.4 313.2 464.5 315.4 464.7 316.8 464.8 317.8 465.0 315.1 465.1 314.6 465.3 318.0 465.4 314.6 465.6 317.7 465.7 315.7 465.9 315.7 466.0 315.0 466.2 315.8 466.3 314.6 466.5 314.2 466.6 315.1 466.8 314.3 466.9 315.8 467.1 315.5 467.2 314.9 467.4 315.0 467.5 315.0 467.7 318.2 467.8 315.3 468.0 314.4 468.1 314.9 468.3 316.4 468.4 315.0 468.6 315.1 468.7 314.9 468.9 315.6 469.0 316.0 469.2 316.1 469.3 312.7 469.5 313.6 469.6 311.1 469.8 316.7 469.9 317.1 470.1 317.5 470.2 315.6 470.4 317.2 470.5 315.3 470.7 315.1 470.8 312.8 471.0 314.1 471.1 314.4 471.3 316.8 471.4 318.0 471.6 314.6 471.7 316.0 471.9 315.8 472.0 314.1 472.2 312.5 472.3 314.1 472.5 313.0 472.6 314.8 472.8 315.1 472.9 315.1 473.1 315.1 473.2 316.1 473.4 313.8 473.5 316.8 473.7 312.6 473.8 315.4 474.0 316.0 474.1 314.1 474.3 312.8 474.4 316.4 474.6 314.2 474.7 316.6 474.9 316.6 475.0 315.3 475.2 315.3 475.3 316.9 475.5 316.0 475.6 313.8 475.8 315.6 475.9 316.2 476.1 315.7 476.2 315.7 476.4 315.1 476.5 315.2 476.7 313.8 476.8 313.0 477.0 317.2 477.1 314.3 477.3 315.7 477.4 312.9 477.6 315.6 477.7 314.0 477.9 320.1 478.0 313.7 478.2 313.8 478.3 316.9 478.5 317.2 478.6 311.9 478.8 315.8 478.9 316.8 479.1 313.4 479.2 316.4 479.4 314.5 479.5 313.7 479.7 314.8 479.8 314.6 480.0 313.1 480.1 319.0 480.3 314.6 480.4 314.1 480.6 316.7 480.7 315.2 480.9 317.5 481.0 314.9 481.2 315.9 481.3 315.5 481.5 315.6 481.6 315.0 481.8 315.2 481.9 318.0 482.1 314.2 482.2 314.5 482.4 314.8 482.5 316.3 482.7 316.0 482.8 316.8 483.0 313.2 483.1 315.8 483.3 315.1 483.4 314.9 483.6 315.6 483.7 312.2 483.9 315.8 484.0 315.6 484.2 313.0 484.3 315.2 484.5 317.8 484.6 314.7 484.8 316.3 484.9 315.0 485.1 314.0 485.2 313.9 485.4 314.7 485.5 317.4 485.7 316.7 485.8 314.2 486.0 316.9 486.1 315.1 486.3 314.2 486.4 316.0 486.6 313.9 486.7 312.8 486.9 317.4 487.0 312.4 487.2 316.2 487.3 312.9 487.5 315.3 487.6 315.0 487.8 314.6 487.9 311.8 488.1 315.2 488.2 315.3 488.4 313.9 488.5 315.2 488.7 316.9 488.8 314.2 489.0 315.8 489.1 313.5 489.3 316.0 489.4 316.4 489.6 319.3 489.7 316.8 489.9 316.0 490.0 317.6 490.2 313.8 490.3 317.1 490.5 314.5 490.6 314.4 490.8 317.1 490.9 315.7 491.1 317.5 491.2 313.0 491.4 315.8 491.5 314.5 491.7 314.9 491.8 312.3 492.0 316.9 492.1 315.7 492.3 313.8 492.4 313.2 492.6 314.0 492.7 317.6 492.9 315.2 493.0 314.8 493.2 316.1 493.3 315.4 493.5 315.7 493.6 316.5 493.8 315.9 493.9 316.8 494.1 313.5 494.2 315.5 494.4 314.8 494.5 315.5 494.7 315.3 494.8 314.4 495.0 314.8 495.1 316.9 495.3 314.5 495.4 313.4 495.6 316.3 495.7 316.9 495.9 315.0 496.0 315.6 496.2 314.1 496.3 315.1 496.5 317.1 496.6 316.7 496.8 315.6 496.9 314.9 497.1 312.8 497.2 315.9 497.4 316.1 497.5 317.1 497.7 318.6 497.8 316.0 498.0 316.9 498.1 313.6 498.3 317.3 498.4 316.8 498.6 317.6 498.7 316.5 498.9 316.1 499.0 317.7 499.2 314.3 499.3 316.4 499.5 317.1 499.6 314.2 499.8 313.6 499.9 316.1 500.1 315.6 500.2 316.4 500.4 316.4 500.5 314.2 500.7 315.9 500.8 317.2 501.0 314.8 501.1 315.0 501.3 313.6 501.4 316.7 501.6 318.5 501.7 313.3 501.9 316.6 502.0 316.8 502.2 314.5 502.3 314.8 502.5 313.8 502.6 314.2 502.8 315.7 502.9 316.4 503.1 315.6 503.2 316.8 503.4 315.7 503.5 313.6 503.7 317.7 503.8 317.3 504.0 314.3 504.1 318.2 504.3 316.2 504.4 315.6 504.6 318.4 504.7 311.5 504.9 312.9 505.0 316.5 505.2 315.0 505.3 313.9 505.5 317.8 505.6 316.2 505.8 313.4 505.9 314.4 506.1 316.8 506.2 318.2 506.4 312.3 506.5 315.8 506.7 314.8 506.8 312.7 507.0 315.2 507.1 312.9 507.3 314.6 507.4 318.0 507.6 316.2 507.7 316.7 507.9 316.4 508.0 316.0 508.2 317.0 508.3 313.6 508.5 314.9 508.6 316.8 508.8 314.3 508.9 314.8 509.1 317.3 509.2 317.9 509.4 314.5 509.5 314.2 509.7 316.4 509.8 315.9 510.0 314.4 510.1 316.4 510.3 316.3 510.4 315.6 510.6 320.1 510.7 317.6 510.9 316.7 511.0 317.1 511.2 320.1 511.3 317.2 511.5 314.3 511.6 316.0 511.8 315.6 511.9 314.6 512.1 315.9 512.2 315.9 512.4 315.4 512.5 314.7 512.7 316.8 512.8 313.0 513.0 316.8 513.1 315.5 513.3 315.9 513.4 311.7 513.6 318.1 513.7 312.7 513.9 314.1 514.0 316.5 514.2 314.5 514.3 314.8 514.5 312.0 514.6 314.8 514.8 315.8 514.9 316.5 515.1 315.0 515.2 315.8 515.4 316.2 515.5 314.4 515.7 314.3 515.8 318.6 516.0 314.1 516.1 317.4 516.3 315.6 516.4 317.8 516.6 314.5 516.7 316.3 516.9 316.0 517.0 315.1 517.2 316.0 517.3 314.3 517.5 315.3 517.6 314.8 517.8 316.7 517.9 315.3 518.1 313.3 518.2 314.9 518.4 315.3 518.5 314.0 518.7 317.6 518.8 316.1 519.0 316.8 519.1 314.3 519.3 314.8 519.4 317.1 519.6 313.2 519.7 316.1 519.9 315.6 520.0 314.7 520.2 315.6 520.3 313.8 520.5 315.8 520.6 313.6 520.8 313.5 520.9 317.7 521.1 314.4 521.2 312.1 521.4 317.0 521.5 314.3 521.7 309.9 521.8 315.4 522.0 316.9 522.1 316.0 522.3 318.2 522.4 315.3 522.6 316.4 522.7 313.9 522.9 315.7 523.0 317.9 523.2 316.3 523.3 315.7 523.5 312.4 523.6 314.9 523.8 313.4 523.9 316.7 524.1 314.3 524.2 316.0 524.4 313.9 524.5 318.5 524.7 313.6 524.8 315.7 525.0 319.6 525.1 315.8 525.3 314.1 525.4 316.4 525.6 317.0 525.7 316.8 525.9 312.4 526.0 315.8 526.2 312.1 526.3 318.5 526.5 315.6 526.6 314.7 526.8 316.5 526.9 316.2 527.1 313.6 527.2 318.0 527.4 315.1 527.5 312.7 527.7 317.7 527.8 317.9 528.0 317.5 528.1 316.3 528.3 314.1 528.4 317.0 528.6 318.4 528.7 316.8 528.9 318.0 529.0 314.3 529.2 317.1 529.3 317.0 529.5 313.1 529.6 312.9 529.8 314.3 529.9 315.6 530.1 316.2 530.2 315.1 530.4 315.4 530.5 315.3 530.7 315.6 530.8 316.4 531.0 316.3 531.1 315.4 531.3 315.9 531.4 314.8 531.6 316.7 531.7 314.7 531.9 318.1 532.0 315.4 532.2 315.9 532.3 314.3 532.5 314.9 532.6 315.7 532.8 315.5 532.9 314.5 533.1 313.6 533.2 315.5 533.4 315.7 533.5 316.4 533.7 317.5 533.8 315.0 534.0 312.3 534.1 315.3 534.3 312.6 534.4 313.4 534.6 317.1 534.7 316.4 534.9 314.5 535.0 314.5 535.2 315.3 535.3 312.7 535.5 316.3" fill="none" stroke="#000" stroke-width="2.00" stroke-linejoin="round"/>
<path d="M63.3 376.0L63.6 378.5 63.9 375.2 64.2 377.6 64.5 375.6 64.8 377.6 65.1 375.3 65.4 377.3 65.7 375.9 66.0 375.5 66.3 376.3 66.6 377.0 66.9 376.9 67.2 378.3 67.5 377.4 67.8 373.5 68.1 376.0 68.4 374.2 68.7 376.1 69.0 377.2 69.3 375.0 69.6 375.2 69.9 376.7 70.2 376.2 70.5 378.4 70.8 376.9 71.1 377.2 71.4 378.6 71.7 376.0 72.0 376.6 72.3 375.4 72.6 376.9 72.9 377.8 73.2 378.2 73.5 376.6 73.8 375.8 74.1 375.7 74.4 375.0 74.7 376.8 75.0 378.2 75.3 373.9 75.6 374.1 75.9 378.2 76.2 374.8 76.5 377.0 76.8 375.2 77.1 377.6 77.4 377.6 77.7 376.9 78.0 377.6 78.3 376.7 78.6 377.3 78.9 378.8 79.2 378.0 79.5 375.9 79.8 375.8 80.1 376.4 80.4 376.4 80.7 376.8 81.0 376.0 81.3 377.5 81.6 376.8 81.9 377.1 82.2 376.7 82.5 377.4 82.8 375.4 83.1 378.6 83.4 377.1 83.7 377.3 84.0 377.5 84.3 378.0 84.6 377.6 84.9 377.0 85.2 376.6 85.5 374.9 85.8 377.0 86.1 376.4 86.4 376.4 86.7 379.5 87.0 374.7 87.3 376.9 87.6 378.2 87.9 377.9 88.2 378.2 88.5 375.3 88.8 375.7 89.1 377.5 89.4 376.5 89.7 378.8 90.0 377.1 90.3 377.0 90.6 377.3 90.9 376.5 91.2 377.0 91.5 376.1 91.8 376.8 92.1 376.3 92.4 377.1 92.7 375.2 93.0 375.1 93.3 377.4 93.6 377.1 93.9 375.7 94.2 376.6 94.5 375.6 94.8 379.2 95.1 375.1 95.4 378.8 95.7 375.9 96.0 377.3 96.3 376.6 96.6 376.4 96.9 377.9 97.2 377.8 97.5 376.5 97.8 375.8 98.1 379.3 98.4 378.5 98.7 377.0 99.0 376.5 99.3 377.2 99.6 377.0 99.9 378.3 100.2 375.8 100.5 376.9 100.8 376.0 101.1 378.4 101.4 379.0 101.7 376.8 102.0 377.5 102.3 378.5 102.6 376.5 102.9 375.8 103.2 378.1 103.5 377.5 103.8 376.7 104.1 378.6 104.4 377.2 104.7 374.8 105.0 377.3 105.3 376.8 105.6 379.1 105.9 376.9 106.2 376.7 106.5 377.4 106.8 377.2 107.1 375.3 107.4 377.0 107.7 376.5 108.0 378.5 108.3 379.7 108.6 375.6 108.9 375.8 109.2 375.9 109.5 376.1 109.8 376.1 110.1 377.0 110.4 378.2 110.7 375.4 111.0 375.1 111.3 374.8 111.6 378.2 111.9 378.4 112.2 375.1 112.5 375.0 112.8 377.1 113.1 378.2 113.4 378.1 113.7 377.1 114.0 377.7 114.3 377.3 114.6 376.3 114.9 379.1 115.2 376.9 115.5 375.6 115.8 376.4 116.1 375.1 116.4 376.9 116.7 378.2 117.0 375.4 117.3 378.3 117.6 379.4 117.9 377.4 118.2 375.5 118.5 375.9 118.8 376.5 119.1 375.3 119.4 375.4 119.7 376.6 120.0 376.7 120.3 377.7 120.6 375.4 120.9 379.3 121.2 378.3 121.5 378.0 121.8 376.0 122.1 379.1 122.4 376.3 122.7 379.1 123.0 378.1 123.3 375.5 123.6 376.0 123.9 379.1 124.2 377.9 124.5 376.2 124.8 376.7 125.1 376.6 125.4 375.2 125.7 375.9 126.0 375.2 126.3 375.4 126.6 376.6 126.9 374.5 127.2 376.9 127.5 375.9 127.8 376.8 128.1 376.9 128.4 377.3 128.7 376.3 129.0 376.4 129.3 375.0 129.6 376.0 129.9 373.7 130.2 374.5 130.5 375.9 130.8 374.6 131.1 375.1 131.4 372.7 131.7 376.2 132.0 373.1 132.3 374.4 132.6 373.5 132.9 374.8 133.2 372.6 133.5 371.4 133.8 369.7 134.1 372.0 134.4 370.4 134.7 372.9 135.0 374.2 135.3 368.0 135.6 369.3 135.9 371.7 136.2 372.9 136.5 371.2 136.8 371.0 137.1 371.1 137.4 370.9 137.7 372.4 138.0 370.6 138.3 367.4 138.6 368.4 138.9 369.3 139.2 367.4 139.5 368.1 139.8 367.5 140.1 367.0 140.4 369.0 140.7 367.1 141.0 365.7 141.3 366.1 141.6 367.1 141.9 370.2 142.2 367.0 142.5 368.8 142.8 366.9 143.1 362.5 143.4 366.3 143.7 364.1 144.0 363.0 144.3 363.3 144.6 367.6 144.9 362.0 145.2 363.3 145.5 365.9 145.8 364.8 146.1 360.8 146.4 363.1 146.7 362.2 147.0 362.4 147.3 363.7 147.6 361.2 147.9 361.4 148.2 363.9 148.5 358.3 148.8 360.3 149.1 361.4 149.4 358.3 149.7 358.9 150.0 357.4 150.3 359.5 150.6 357.8 150.9 359.7 151.2 359.8 151.5 357.8 151.8 356.8 152.1 357.4 152.4 356.7 152.7 354.3 153.0 357.6 153.3 355.9 153.6 356.5 153.9 352.7 154.2 356.0 154.5 357.6 154.8 354.9 155.1 351.3 155.4 353.4 155.7 352.9 156.0 353.1 156.3 352.1 156.6 353.1 156.9 351.3 157.2 352.2 157.5 350.4 157.8 351.4 158.1 352.6 158.4 350.0 158.7 351.6 159.0 348.8 159.3 349.4 159.6 349.4 159.9 351.6 160.2 348.1 160.5 351.1 160.8 346.6 161.1 348.5 161.4 350.0 161.7 349.5 162.0 346.7 162.3 346.2 162.6 349.5 162.9 346.0 163.2 348.9 163.5 337.0 163.8 347.9 164.1 351.7 164.4 350.5 164.7 349.3 165.0 345.8 165.3 348.5 165.6 348.1 165.9 347.9 166.2 350.3 166.5 345.4 166.8 348.7 167.1 348.5 167.4 347.1 167.7 351.1 168.0 346.5 168.3 348.6 168.6 348.7 168.9 345.2 169.2 346.5 169.5 347.3 169.8 350.3 170.1 350.7 170.4 350.4 170.7 350.1 171.0 346.6 171.3 350.7 171.6 349.9 171.9 352.8 172.2 353.5 172.5 355.2 172.8 353.2 173.1 353.8 173.4 351.3 173.7 353.4 174.0 351.7 174.3 355.4 174.6 352.5 174.9 354.4 175.2 353.8 175.5 354.7 175.8 356.5 176.1 355.3 176.4 356.9 176.7 355.4 177.0 359.4 177.3 356.7 177.6 359.6 177.9 361.7 178.2 355.3 178.5 357.9 178.8 359.4 179.1 361.9 179.4 359.8 179.7 361.5 180.0 360.3 180.3 362.6 180.6 360.4 180.9 363.8 181.2 358.6 181.5 360.6 181.8 366.4 182.1 364.4 182.4 363.2 182.7 368.1 183.0 366.7 183.3 367.2 183.6 365.3 183.9 367.1 184.2 367.3 184.5 364.5 184.8 368.1 185.1 367.3 185.4 369.8 185.7 370.1 186.0 367.7 186.3 368.1 186.6 369.6 186.9 370.6 187.2 369.4 187.5 370.2 187.8 371.5 188.1 371.6 188.4 372.9 188.7 371.9 189.0 370.7 189.3 369.8 189.6 373.6 189.9 372.3 190.2 372.5 190.5 372.9 190.8 371.4 191.1 373.2 191.4 370.4 191.7 373.6 192.0 373.1 192.3 377.0 192.6 375.2 192.9 374.5 193.2 375.1 193.5 376.0 193.8 374.2 194.1 375.0 194.4 375.0 194.7 378.9 195.0 375.8 195.3 373.2 195.6 377.0 195.9 379.5 196.2 374.9 196.5 380.9 196.8 376.3 197.1 377.8 197.4 375.8 197.7 376.3 198.0 375.2 198.3 375.5 198.6 374.2 198.9 378.5 199.2 375.6 199.5 377.6 199.8 377.6 200.1 376.4 200.4 377.3 200.7 377.2 201.0 376.7 201.3 377.4 201.6 377.4 201.9 376.1 202.2 375.8 202.5 376.3 202.8 377.5 203.1 379.1 203.4 379.2 203.7 377.8 204.0 378.6 204.3 377.6 204.6 378.8 204.9 377.6 205.2 377.9 205.5 377.1 205.8 377.4 206.1 379.7 206.4 376.0 206.7 377.4 207.0 376.7 207.3 378.6 207.6 379.6 207.9 377.1 208.2 374.1 208.5 378.2 208.8 378.2 209.1 375.4 209.4 377.1 209.7 377.4 210.0 374.7 210.3 378.2 210.6 377.9 210.9 377.7 211.2 376.2 211.5 376.6 211.8 376.7 212.1 378.0 212.4 376.3 212.7 379.1 213.0 377.9 213.3 375.0 213.6 379.3 213.9 377.6 214.2 376.8 214.5 377.6 214.8 375.4 215.1 377.7 215.4 374.7 215.7 376.3 216.0 378.9 216.3 378.8 216.6 377.1 216.9 376.4 217.2 378.5 217.5 377.4 217.8 377.7 218.1 378.1 218.4 376.3 218.7 378.3 219.0 375.2 219.3 379.0 219.6 375.8 219.9 376.8 220.2 376.7 220.5 378.2 220.8 378.2 221.1 377.8 221.4 378.0 221.7 377.9 222.0 377.4 222.3 375.5 222.6 375.1 222.9 375.1 223.2 377.4 223.5 377.2 223.8 377.3 224.1 377.7 224.4 377.2 224.7 376.5 225.0 376.0 225.3 375.6 225.6 378.7 225.9 378.4 226.2 376.1 226.5 377.2 226.8 377.9 227.1 379.0 227.4 376.9 227.7 377.6 228.0 378.6 228.3 375.8 228.6 376.8 228.9 377.4 229.2 376.8 229.5 379.5 229.8 378.3 230.1 377.6 230.4 376.6 230.7 378.3 231.0 378.1 231.3 377.0 231.6 377.1 231.9 376.1 232.2 377.4 232.5 378.3 232.8 378.4 233.1 378.0 233.4 378.2 233.7 376.9 234.0 377.0 234.3 378.6 234.6 377.9 234.9 376.7 235.2 377.9 235.5 378.2 235.8 378.1 236.1 377.6 236.4 377.0 236.7 377.8 237.0 379.0 237.3 377.6 237.6 376.9 237.9 377.8 238.2 376.3 238.5 377.7 238.8 377.2 239.1 378.4 239.4 377.6 239.7 378.5 240.0 379.6" fill="none" stroke="#000" stroke-width="2.20" stroke-linejoin="round"/>
<path d="M239.7 378.5L240.0 379.6 240.3 377.3 240.6 376.7 240.9 377.9 241.2 377.4 241.5 377.6 241.8 376.9 242.1 378.0 242.4 377.6 242.7 375.5 243.0 377.3 243.3 377.8 243.6 378.6 243.9 377.0 244.2 376.8 244.5 378.5 244.8 376.9 245.1 377.6 245.4 377.9 245.7 378.2 246.0 377.5 246.3 376.5 246.6 378.4 246.9 377.1 247.2 377.0 247.5 379.3 247.8 378.3 248.1 376.6 248.4 377.1 248.7 377.3 249.0 376.8 249.3 375.8 249.6 378.2 249.9 378.2 250.2 377.7 250.5 377.2 250.8 377.7 251.1 378.1 251.4 376.6 251.7 377.2 252.0 377.0 252.3 378.1 252.6 377.8 252.9 376.4 253.2 377.0 253.5 379.1 253.8 376.7 254.1 377.7 254.4 377.0 254.7 378.6 255.0 377.5 255.3 377.1 255.6 376.5 255.9 377.3 256.2 378.3 256.5 378.1 256.8 376.4 257.1 378.9 257.4 377.3 257.7 376.6 258.0 377.6 258.3 377.0 258.6 377.0 258.9 377.0 259.2 377.5 259.5 377.1 259.8 376.0 260.1 378.0 260.4 377.1 260.7 378.6 261.0 378.0 261.3 378.1 261.6 377.7 261.9 378.7 262.2 377.3 262.5 376.7 262.8 377.8 263.1 375.2 263.4 377.2 263.7 377.7 264.0 377.2 264.3 378.6 264.6 378.2 264.9 377.6 265.2 377.2 265.5 378.5 265.8 377.0 266.1 377.2 266.4 378.2 266.7 378.1 267.0 379.3 267.3 377.4 267.6 376.0 267.9 378.1 268.2 378.6 268.5 377.4 268.8 378.9 269.1 379.1 269.4 377.0 269.7 377.2 270.0 376.5 270.3 378.0 270.6 378.2 270.9 378.1 271.2 376.5 271.5 376.9 271.8 376.4 272.1 376.2 272.4 376.4 272.7 376.2 273.0 377.4 273.3 377.9 273.6 378.1 273.9 377.6 274.2 377.0 274.5 377.6 274.8 378.1 275.1 377.3 275.4 377.6 275.7 377.3 276.0 377.1 276.3 377.6 276.6 376.6 276.9 378.5 277.2 376.3 277.5 378.0 277.8 376.5 278.1 378.8 278.4 378.3 278.7 376.9 279.0 377.2 279.3 376.7 279.6 377.5 279.9 377.9 280.2 379.7 280.5 376.5 280.8 378.6 281.1 377.1 281.4 377.8 281.7 378.3 282.0 378.0 282.3 377.9 282.6 377.4 282.9 377.6 283.2 377.7 283.5 378.6 283.8 376.4 284.1 377.2 284.4 376.6 284.7 376.8 285.0 377.0 285.3 378.5 285.6 379.3 285.9 378.7 286.2 376.6 286.5 377.7 286.8 376.7 287.1 378.0 287.4 378.6 287.7 378.1 288.0 378.3 288.3 377.5 288.6 376.0 288.9 376.0 289.2 377.5 289.5 378.1 289.8 378.6 290.1 377.3 290.4 377.7 290.7 377.8 291.0 378.5 291.3 377.6 291.6 376.7 291.9 378.5 292.2 377.9 292.5 377.9 292.8 376.6 293.1 377.6 293.4 376.3 293.7 376.0 294.0 377.4 294.3 377.3 294.6 378.1 294.9 378.8 295.2 377.6 295.5 379.0 295.8 377.2 296.1 378.2 296.4 376.6 296.7 377.7 297.0 377.4 297.3 377.5 297.6 378.1 297.9 376.2 298.2 377.7 298.5 377.0 298.8 377.7 299.1 377.9 299.4 377.4 299.7 377.4 300.0 376.7 300.3 378.1 300.6 377.1 300.9 378.0 301.2 376.5 301.5 378.7 301.8 376.9 302.1 378.5 302.4 377.3 302.7 378.1 303.0 377.5 303.3 378.2 303.6 377.7 303.9 378.6 304.2 378.2 304.5 378.2 304.8 378.9 305.1 377.1 305.4 378.7 305.7 377.7 306.0 376.5 306.3 378.0 306.6 377.5 306.9 379.0 307.2 377.3 307.5 377.7 307.8 377.8 308.1 376.2 308.4 378.1 308.7 376.9 309.0 378.7 309.3 378.9 309.6 377.7 309.9 376.5 310.2 377.8 310.5 377.8 310.8 378.2 311.1 377.4 311.4 376.8 311.7 377.6 312.0 377.0 312.3 379.0 312.6 377.1 312.9 377.2 313.2 377.6 313.5 376.7 313.8 377.3 314.1 377.6 314.4 377.3 314.7 377.5 315.0 378.6 315.3 378.0 315.6 376.7 315.9 377.4 316.2 378.2 316.5 377.2 316.8 377.7 317.1 377.7 317.4 378.1 317.7 377.6 318.0 377.6 318.3 377.1 318.6 378.0 318.9 377.0 319.2 379.0 319.5 377.7 319.8 377.5 320.1 378.3 320.4 377.6 320.7 377.8 321.0 377.7 321.3 377.2 321.6 377.0 321.9 377.2 322.2 378.5 322.5 377.2 322.8 377.4 323.1 377.4 323.4 378.2 323.7 379.2 324.0 377.0 324.3 378.1 324.6 377.8 324.9 377.5 325.2 378.1 325.5 376.8 325.8 378.3 326.1 377.9 326.4 377.0 326.7 378.9 327.0 378.3 327.3 378.6 327.6 376.7 327.9 377.5 328.2 377.3 328.5 378.2 328.8 378.7 329.1 376.4 329.4 377.7 329.7 377.6 330.0 378.4 330.3 377.7 330.6 376.8 330.9 377.6 331.2 377.0 331.5 377.2 331.8 377.8 332.1 377.4 332.4 377.9 332.7 376.6 333.0 379.4 333.3 378.6 333.6 378.2 333.9 376.8 334.2 376.2 334.5 377.1 334.8 377.6 335.1 379.3 335.4 378.7 335.7 377.4 336.0 378.6 336.3 378.6 336.6 377.7 336.9 378.6 337.2 378.0 337.5 377.3 337.8 376.9 338.1 377.7 338.4 378.5 338.7 376.8 339.0 376.6 339.3 378.1 339.6 375.8 339.9 379.0 340.2 377.4 340.5 378.3 340.8 379.1 341.1 376.7 341.4 377.0 341.7 379.3 342.0 377.5 342.3 377.7 342.6 377.9 342.9 378.5 343.2 378.7 343.5 377.8 343.8 377.5 344.1 377.7 344.4 378.0 344.7 378.7 345.0 377.9 345.3 379.0 345.6 377.2 345.9 378.1 346.2 379.0 346.5 378.7 346.8 378.0 347.1 377.1 347.4 377.3 347.7 377.7 348.0 378.0 348.3 377.6 348.6 376.7 348.9 377.2 349.2 378.1 349.5 378.4 349.8 376.8 350.1 377.5 350.4 376.6 350.7 377.4 351.0 380.3 351.3 377.8 351.6 377.5 351.9 377.4 352.2 376.9 352.5 376.5 352.8 377.7 353.1 377.6 353.4 378.8 353.7 376.6 354.0 378.1 354.3 378.7 354.6 376.4 354.9 378.2 355.2 376.6 355.5 378.1 355.8 378.8 356.1 377.8 356.4 378.0 356.7 377.3 357.0 378.0 357.3 378.6 357.6 377.7 357.9 377.7 358.2 378.1 358.5 378.4 358.8 376.6 359.1 377.8 359.4 377.3 359.7 378.1 360.0 378.5 360.3 378.0 360.6 378.7 360.9 377.1 361.2 377.5 361.5 377.1 361.8 377.8 362.1 377.9 362.4 377.7 362.7 377.0 363.0 377.7 363.3 377.5 363.6 378.2 363.9 377.6 364.2 378.6 364.5 378.0 364.8 376.5 365.1 377.7 365.4 376.8 365.7 378.5 366.0 378.8 366.3 377.8 366.6 378.1 366.9 376.8 367.2 376.2 367.5 377.4 367.8 377.6 368.1 376.8 368.4 377.9 368.7 378.0 369.0 378.3 369.3 378.9 369.6 378.4 369.9 377.6 370.2 377.9 370.5 378.2 370.8 377.1 371.1 378.7 371.4 378.4 371.7 377.7 372.0 377.4 372.3 380.5 372.6 378.4 372.9 378.5 373.2 379.1 373.5 378.5 373.8 378.0 374.1 378.3 374.4 377.2 374.7 378.3 375.0 376.8 375.3 378.1 375.6 378.2 375.9 376.7 376.2 379.2 376.5 377.0 376.8 378.6 377.1 377.5 377.4 378.0 377.7 377.4 378.0 379.6 378.3 378.6 378.6 379.1 378.9 378.4 379.2 378.3 379.5 377.9 379.8 377.7 380.1 378.3 380.4 378.0 380.7 377.7 381.0 376.9 381.3 377.6 381.6 378.3 381.9 377.5 382.2 378.1 382.5 377.8 382.8 377.1 383.1 377.2 383.4 377.3 383.7 377.7 384.0 377.7 384.3 378.6 384.6 377.1 384.9 376.4 385.2 378.3 385.5 377.5 385.8 377.8 386.1 379.6 386.4 378.9 386.7 378.3 387.0 378.5 387.3 377.9 387.6 378.5 387.9 377.4 388.2 377.4 388.5 377.5 388.8 379.0 389.1 378.9 389.4 377.5 389.7 378.7 390.0 377.8 390.3 378.6 390.6 377.7 390.9 378.5 391.2 377.8 391.5 377.7 391.8 377.9 392.1 378.0 392.4 377.5 392.7 376.9 393.0 379.0 393.3 377.6 393.6 376.6 393.9 376.3 394.2 376.0 394.5 377.5 394.8 378.8 395.1 376.8 395.4 377.7 395.7 376.6 396.0 378.6 396.3 378.1 396.6 378.1 396.9 378.8 397.2 379.0 397.5 378.6 397.8 377.5 398.1 377.0 398.4 377.2 398.7 376.7 399.0 379.1 399.3 377.8 399.6 378.0 399.9 378.0 400.2 379.3 400.5 377.5 400.8 378.7 401.1 378.1 401.4 377.8 401.7 376.6 402.0 378.5 402.3 377.4 402.6 377.6 402.9 378.1 403.2 378.0 403.5 378.7 403.8 377.4 404.1 378.0 404.4 378.1 404.7 377.9 405.0 378.4 405.3 377.7 405.6 378.7 405.9 377.4 406.2 376.9 406.5 377.9 406.8 378.7 407.1 377.6 407.4 377.5 407.7 377.7 408.0 378.0 408.3 377.8 408.6 378.1 408.9 376.7 409.2 378.9 409.5 378.3 409.8 377.3 410.1 378.9 410.4 378.2 410.7 378.9 411.0 377.1 411.3 379.0 411.6 378.0 411.9 376.5 412.2 378.4 412.5 377.7 412.8 377.2 413.1 377.8 413.4 376.6 413.7 378.3 414.0 377.8 414.3 377.7 414.6 378.9 414.9 377.9 415.2 377.5 415.5 377.3 415.8 377.9 416.1 378.6 416.4 377.5 416.7 377.2 417.0 378.6 417.3 378.0 417.6 377.9 417.9 379.3 418.2 377.1 418.5 378.1 418.8 376.7 419.1 377.7 419.4 378.3 419.7 378.7 420.0 377.1 420.3 378.5 420.6 378.5 420.9 377.9 421.2 379.6 421.5 377.9 421.8 377.3 422.1 378.2 422.4 376.7 422.7 379.0 423.0 378.6 423.3 377.7 423.6 378.4 423.9 378.3 424.2 379.2 424.5 377.5 424.8 377.1 425.1 376.6 425.4 377.7 425.7 376.9 426.0 377.8 426.3 378.2 426.6 377.6 426.9 377.3 427.2 378.7 427.5 377.8 427.8 378.1 428.1 378.6 428.4 377.1 428.7 377.3 429.0 379.6 429.3 377.8 429.6 377.2 429.9 377.8 430.2 377.6 430.5 377.1 430.8 377.7 431.1 377.9 431.4 377.9 431.7 378.3 432.0 376.8 432.3 376.9 432.6 378.5 432.9 377.7 433.2 378.8 433.5 378.2 433.8 377.0 434.1 378.3 434.4 377.3 434.7 378.1 435.0 378.8 435.3 379.4 435.6 377.9 435.9 378.4 436.2 378.2 436.5 378.5 436.8 376.3 437.1 377.7 437.4 378.2 437.7 378.3 438.0 377.5 438.3 378.5 438.6 378.7 438.9 378.0 439.2 377.8 439.5 377.7 439.8 378.1 440.1 378.7 440.4 379.0 440.7 377.6 441.0 377.3 441.3 377.4 441.6 378.6 441.9 378.1 442.2 378.2 442.5 378.3 442.8 378.2 443.1 377.9 443.4 377.3 443.7 377.6 444.0 378.0 444.3 378.2 444.6 377.7 444.9 377.7 445.2 378.9 445.5 377.7 445.8 378.1 446.1 377.8 446.4 377.4 446.7 377.0 447.0 377.6 447.3 377.4 447.6 378.5 447.9 377.2 448.2 377.7 448.5 378.4 448.8 377.9 449.1 378.3 449.4 378.5 449.7 376.9 450.0 377.7 450.3 377.3 450.6 378.9 450.9 377.9 451.2 378.3 451.5 379.1 451.8 377.7 452.1 378.0 452.4 378.2 452.7 377.8 453.0 378.8 453.3 378.5 453.6 378.6 453.9 378.0 454.2 377.8 454.5 377.7 454.8 377.7 455.1 376.9 455.4 378.2 455.7 378.5 456.0 378.0 456.3 377.7 456.6 378.0 456.9 378.1 457.2 378.2 457.5 379.1 457.8 377.4 458.1 378.2 458.4 378.4 458.7 378.0 459.0 377.8 459.3 377.3 459.6 377.6 459.9 378.4 460.2 378.9 460.5 377.6 460.8 378.3 461.1 378.3 461.4 378.6 461.7 378.1 462.0 378.3 462.3 378.6 462.6 377.2 462.9 378.0 463.2 376.8 463.5 376.7 463.8 377.5 464.1 377.0 464.4 378.3 464.7 378.6 465.0 377.8 465.3 377.9 465.6 377.8 465.9 377.8 466.2 378.1 466.5 378.2 466.8 377.7 467.1 377.5 467.4 377.7 467.7 378.5 468.0 377.7 468.3 378.9 468.6 377.8 468.9 378.9 469.2 377.2 469.5 377.5 469.8 378.3 470.1 378.3 470.4 377.9 470.7 379.3 471.0 378.0 471.3 378.2 471.6 377.6 471.9 379.0 472.2 378.5 472.5 378.3 472.8 377.0 473.1 378.2 473.4 377.7 473.7 378.2 474.0 378.6 474.3 377.5 474.6 378.1 474.9 378.6 475.2 378.1 475.5 377.8 475.8 377.3 476.1 377.6 476.4 377.2 476.7 378.6 477.0 378.1 477.3 377.2 477.6 378.0 477.9 377.2 478.2 375.9 478.5 378.8 478.8 378.7 479.1 377.1 479.4 377.5 479.7 378.1 480.0 377.8 480.3 377.5 480.6 377.7 480.9 377.8 481.2 377.6 481.5 378.1 481.8 377.9 482.1 377.5 482.4 378.0 482.7 377.0 483.0 378.9 483.3 376.9 483.6 377.9 483.9 378.2 484.2 378.3 484.5 378.2 484.8 378.8 485.1 377.3 485.4 378.0 485.7 378.1 486.0 377.7 486.3 377.6 486.6 378.8 486.9 377.6 487.2 377.7 487.5 377.8 487.8 377.9 488.1 378.1 488.4 377.9 488.7 378.2 489.0 378.1 489.3 378.3 489.6 378.9 489.9 377.5 490.2 379.0 490.5 377.7 490.8 378.4 491.1 378.1 491.4 377.8 491.7 376.8 492.0 379.0 492.3 377.5 492.6 377.5 492.9 378.7 493.2 378.0 493.5 379.2 493.8 379.0 494.1 378.4 494.4 378.2 494.7 378.5 495.0 377.2 495.3 378.1 495.6 378.1 495.9 377.7 496.2 378.2 496.5 377.1 496.8 378.6 497.1 378.8 497.4 377.2 497.7 378.1 498.0 379.0 498.3 378.3 498.6 377.4 498.9 377.4 499.2 378.5 499.5 379.1 499.8 377.3 500.1 378.0 500.4 377.5 500.7 377.8 501.0 378.2 501.3 378.0 501.6 377.6 501.9 379.3 502.2 377.9 502.5 377.9 502.8 378.7 503.1 378.0 503.4 377.9 503.7 378.6 504.0 377.4 504.3 378.5 504.6 378.6 504.9 378.4 505.2 377.9 505.5 378.0 505.8 377.0 506.1 377.9 506.4 378.2 506.7 378.5 507.0 378.1 507.3 377.8 507.6 377.5 507.9 378.0 508.2 378.1 508.5 378.7 508.8 378.0 509.1 377.7 509.4 377.9 509.7 377.7 510.0 377.9 510.3 376.7 510.6 377.0 510.9 377.3 511.2 378.3 511.5 378.0 511.8 378.1 512.1 378.7 512.4 377.4 512.7 378.7 513.0 378.2 513.3 377.6 513.6 378.9 513.9 377.1 514.2 377.3 514.5 377.9 514.8 378.3 515.1 377.9 515.4 376.7 515.7 377.8 516.0 378.0 516.3 379.5 516.6 378.8 516.9 378.1 517.2 377.4 517.5 378.2 517.8 377.3 518.1 378.1 518.4 378.2 518.7 377.8 519.0 378.2 519.3 377.8 519.6 377.7 519.9 378.9 520.2 378.4 520.5 377.8 520.8 377.5 521.1 378.1 521.4 378.3 521.7 378.5 522.0 378.9 522.3 378.3 522.6 377.3 522.9 379.2 523.2 378.7 523.5 378.5 523.8 378.8 524.1 377.1 524.4 377.8 524.7 377.7 525.0 378.7 525.3 377.3 525.6 377.8 525.9 378.9 526.2 378.4 526.5 377.8 526.8 379.1 527.1 377.2 527.4 378.3 527.7 377.9 528.0 378.3 528.3 377.8 528.6 377.5 528.9 378.1 529.2 377.2 529.5 378.3 529.8 377.8 530.1 378.6 530.4 377.7 530.7 377.6 531.0 378.2 531.3 378.7 531.6 376.8 531.9 378.1 532.2 378.4 532.5 377.2 532.8 377.5 533.1 378.4 533.4 377.5 533.7 377.6 534.0 379.0 534.3 377.4 534.6 377.5 534.9 376.6 535.2 377.4 535.5 377.3" fill="none" stroke="#000" stroke-width="1.90" stroke-linejoin="round"/>
<line x1="175.0" y1="25" x2="175.0" y2="382.1" stroke="#000" stroke-width="1.6"/>
<line x1="218.7" y1="25" x2="218.7" y2="382.1" stroke="#000" stroke-width="1.6"/>
<line x1="356.0" y1="25" x2="356.0" y2="382.1" stroke="#000" stroke-width="1.6"/>
<line x1="440.2" y1="25" x2="440.2" y2="382.1" stroke="#000" stroke-width="1.6"/>
<line x1="474.6" y1="25" x2="474.6" y2="382.1" stroke="#000" stroke-width="1.6"/>
<rect x="62.5" y="9.5" width="473.9" height="372.6" fill="none" stroke="#000" stroke-width="1.8"/>
<line x1="62.5" y1="71.1" x2="536.4" y2="71.1" stroke="#000" stroke-width="1.6"/>
<line x1="62.5" y1="133.3" x2="536.4" y2="133.3" stroke="#000" stroke-width="1.6"/>
<line x1="62.5" y1="195.5" x2="536.4" y2="195.5" stroke="#000" stroke-width="1.6"/>
<line x1="62.5" y1="257.6" x2="536.4" y2="257.6" stroke="#000" stroke-width="1.6"/>
<line x1="62.5" y1="319.9" x2="536.4" y2="319.9" stroke="#000" stroke-width="1.6"/>
<path d="M62.5 71.1v6.5M78.3 71.1v3.5M94.1 71.1v3.5M109.9 71.1v3.5M125.7 71.1v3.5M141.5 71.1v6.5M157.3 71.1v3.5M173.1 71.1v3.5M188.9 71.1v3.5M204.7 71.1v3.5M220.5 71.1v6.5M236.3 71.1v3.5M252.1 71.1v3.5M267.9 71.1v3.5M283.7 71.1v3.5M299.5 71.1v6.5M315.3 71.1v3.5M331.1 71.1v3.5M346.9 71.1v3.5M362.7 71.1v3.5M378.5 71.1v6.5M394.3 71.1v3.5M410.1 71.1v3.5M425.9 71.1v3.5M441.7 71.1v3.5M457.5 71.1v6.5M473.3 71.1v3.5M489.1 71.1v3.5M504.9 71.1v3.5M520.7 71.1v3.5M536.5 71.1v6.5M62.5 133.3v6.5M78.3 133.3v3.5M94.1 133.3v3.5M109.9 133.3v3.5M125.7 133.3v3.5M141.5 133.3v6.5M157.3 133.3v3.5M173.1 133.3v3.5M188.9 133.3v3.5M204.7 133.3v3.5M220.5 133.3v6.5M236.3 133.3v3.5M252.1 133.3v3.5M267.9 133.3v3.5M283.7 133.3v3.5M299.5 133.3v6.5M315.3 133.3v3.5M331.1 133.3v3.5M346.9 133.3v3.5M362.7 133.3v3.5M378.5 133.3v6.5M394.3 133.3v3.5M410.1 133.3v3.5M425.9 133.3v3.5M441.7 133.3v3.5M457.5 133.3v6.5M473.3 133.3v3.5M489.1 133.3v3.5M504.9 133.3v3.5M520.7 133.3v3.5M536.5 133.3v6.5M62.5 195.5v6.5M78.3 195.5v3.5M94.1 195.5v3.5M109.9 195.5v3.5M125.7 195.5v3.5M141.5 195.5v6.5M157.3 195.5v3.5M173.1 195.5v3.5M188.9 195.5v3.5M204.7 195.5v3.5M220.5 195.5v6.5M236.3 195.5v3.5M252.1 195.5v3.5M267.9 195.5v3.5M283.7 195.5v3.5M299.5 195.5v6.5M315.3 195.5v3.5M331.1 195.5v3.5M346.9 195.5v3.5M362.7 195.5v3.5M378.5 195.5v6.5M394.3 195.5v3.5M410.1 195.5v3.5M425.9 195.5v3.5M441.7 195.5v3.5M457.5 195.5v6.5M473.3 195.5v3.5M489.1 195.5v3.5M504.9 195.5v3.5M520.7 195.5v3.5M536.5 195.5v6.5M62.5 257.6v6.5M78.3 257.6v3.5M94.1 257.6v3.5M109.9 257.6v3.5M125.7 257.6v3.5M141.5 257.6v6.5M157.3 257.6v3.5M173.1 257.6v3.5M188.9 257.6v3.5M204.7 257.6v3.5M220.5 257.6v6.5M236.3 257.6v3.5M252.1 257.6v3.5M267.9 257.6v3.5M283.7 257.6v3.5M299.5 257.6v6.5M315.3 257.6v3.5M331.1 257.6v3.5M346.9 257.6v3.5M362.7 257.6v3.5M378.5 257.6v6.5M394.3 257.6v3.5M410.1 257.6v3.5M425.9 257.6v3.5M441.7 257.6v3.5M457.5 257.6v6.5M473.3 257.6v3.5M489.1 257.6v3.5M504.9 257.6v3.5M520.7 257.6v3.5M536.5 257.6v6.5M62.5 319.9v6.5M78.3 319.9v3.5M94.1 319.9v3.5M109.9 319.9v3.5M125.7 319.9v3.5M141.5 319.9v6.5M157.3 319.9v3.5M173.1 319.9v3.5M188.9 319.9v3.5M204.7 319.9v3.5M220.5 319.9v6.5M236.3 319.9v3.5M252.1 319.9v3.5M267.9 319.9v3.5M283.7 319.9v3.5M299.5 319.9v6.5M315.3 319.9v3.5M331.1 319.9v3.5M346.9 319.9v3.5M362.7 319.9v3.5M378.5 319.9v6.5M394.3 319.9v3.5M410.1 319.9v3.5M425.9 319.9v3.5M441.7 319.9v3.5M457.5 319.9v6.5M473.3 319.9v3.5M489.1 319.9v3.5M504.9 319.9v3.5M520.7 319.9v3.5M536.5 319.9v6.5M62.5 382.1v6.5M78.3 382.1v3.5M94.1 382.1v3.5M109.9 382.1v3.5M125.7 382.1v3.5M141.5 382.1v6.5M157.3 382.1v3.5M173.1 382.1v3.5M188.9 382.1v3.5M204.7 382.1v3.5M220.5 382.1v6.5M236.3 382.1v3.5M252.1 382.1v3.5M267.9 382.1v3.5M283.7 382.1v3.5M299.5 382.1v6.5M315.3 382.1v3.5M331.1 382.1v3.5M346.9 382.1v3.5M362.7 382.1v3.5M378.5 382.1v6.5M394.3 382.1v3.5M410.1 382.1v3.5M425.9 382.1v3.5M441.7 382.1v3.5M457.5 382.1v6.5M473.3 382.1v3.5M489.1 382.1v3.5M504.9 382.1v3.5M520.7 382.1v3.5M536.5 382.1v6.5" stroke="#000" stroke-width="1.4" fill="none"/>
<text class="s" transform="translate(192.6 50.4) rotate(-90)" font-size="14.5" textLength="36" lengthAdjust="spacingAndGlyphs">(<tspan font-family="NanumGothic, 'Liberation Sans', sans-serif" font-size="13.18">1</tspan><tspan font-family="NanumGothic, 'Liberation Sans', sans-serif" font-size="13.18">1</tspan><tspan font-family="NanumGothic, 'Liberation Sans', sans-serif" font-size="13.18">1</tspan>)</text>
<text class="s" transform="translate(235.2 50.4) rotate(-90)" font-size="14.5" textLength="36" lengthAdjust="spacingAndGlyphs">(200)</text>
<text class="s" transform="translate(373.2 49.4) rotate(-90)" font-size="14.5" textLength="36" lengthAdjust="spacingAndGlyphs">(220)</text>
<text class="s" transform="translate(456.6 50.4) rotate(-90)" font-size="14.5" textLength="36" lengthAdjust="spacingAndGlyphs">(3<tspan font-family="NanumGothic, 'Liberation Sans', sans-serif" font-size="13.18">1</tspan><tspan font-family="NanumGothic, 'Liberation Sans', sans-serif" font-size="13.18">1</tspan>)</text>
<text class="s" transform="translate(491.7 50.4) rotate(-90)" font-size="14.5" textLength="36" lengthAdjust="spacingAndGlyphs">(222)</text>
<line x1="258" y1="33.7" x2="297.3" y2="33.7" stroke="#000" stroke-width="1.8"/>
<text class="s" x="304.93" y="37.6" font-size="16">HfN</text>
<text class="s" x="63.66" y="25.70" font-size="15.6">Hf</text>
<text class="s" x="82.11" y="31.90" font-size="12.8">54</text>
<text class="s" x="96.16" y="25.70" font-size="15.6">N</text>
<text class="s" x="108.81" y="31.90" font-size="12.8">46</text>
<text class="s" x="63.56" y="86.50" font-size="15.6">Hf</text>
<text class="s" x="81.31" y="92.70" font-size="12.8">48</text>
<text class="s" x="95.95" y="86.50" font-size="15.6">Si</text>
<text class="s" x="112.21" y="92.70" font-size="12.8">3</text>
<text class="s" x="119.66" y="86.50" font-size="15.6">N</text>
<text class="s" x="131.61" y="92.70" font-size="12.8">49</text>
<text class="s" x="63.36" y="147.60" font-size="15.6">Hf</text>
<text class="s" x="80.91" y="153.80" font-size="12.8">45</text>
<text class="s" x="95.65" y="147.60" font-size="15.6">Si</text>
<text class="s" x="111.75" y="153.80" font-size="12.8">7</text>
<text class="s" x="119.46" y="147.60" font-size="15.6">N</text>
<text class="s" x="131.41" y="153.80" font-size="12.8">48</text>
<text class="s" x="63.36" y="210.50" font-size="15.6">Hf</text>
<text class="s" x="80.81" y="216.70" font-size="12.8">39</text>
<text class="s" x="95.35" y="210.50" font-size="15.6">Si</text>
<text class="s" x="111.69" y="216.70" font-size="12.8"><tspan font-family="NanumGothic, 'Liberation Sans', sans-serif" font-size="11.64">1</tspan>2</text>
<text class="s" x="126.26" y="210.50" font-size="15.6">N</text>
<text class="s" x="138.71" y="216.70" font-size="12.8">49</text>
<text class="s" x="63.36" y="272.60" font-size="15.6">Hf</text>
<text class="s" x="80.51" y="278.80" font-size="12.8">36</text>
<text class="s" x="95.35" y="272.60" font-size="15.6">Si</text>
<text class="s" x="111.39" y="278.80" font-size="12.8"><tspan font-family="NanumGothic, 'Liberation Sans', sans-serif" font-size="11.64">1</tspan>3</text>
<text class="s" x="126.26" y="272.60" font-size="15.6">N</text>
<text class="s" x="138.51" y="278.80" font-size="12.8">5<tspan font-family="NanumGothic, 'Liberation Sans', sans-serif" font-size="11.64">1</tspan></text>
<text class="s" x="63.36" y="335.80" font-size="15.6">Hf</text>
<text class="s" x="80.71" y="342.00" font-size="12.8">32</text>
<text class="s" x="95.35" y="335.80" font-size="15.6">Si</text>
<text class="s" x="111.69" y="342.00" font-size="12.8"><tspan font-family="NanumGothic, 'Liberation Sans', sans-serif" font-size="11.64">1</tspan>9</text>
<text class="s" x="126.26" y="335.80" font-size="15.6">N</text>
<text class="s" x="138.71" y="342.00" font-size="12.8">49</text>
<text class="s" transform="translate(61.60 402.3) scale(1.08 1)" font-size="17" text-anchor="middle">20</text>
<text class="s" transform="translate(140.60 402.3) scale(1.08 1)" font-size="17" text-anchor="middle">30</text>
<text class="s" transform="translate(219.60 402.3) scale(1.08 1)" font-size="17" text-anchor="middle">40</text>
<text class="s" transform="translate(298.60 402.3) scale(1.08 1)" font-size="17" text-anchor="middle">50</text>
<text class="s" transform="translate(377.60 402.3) scale(1.08 1)" font-size="17" text-anchor="middle">60</text>
<text class="s" transform="translate(456.60 402.3) scale(1.08 1)" font-size="17" text-anchor="middle">70</text>
<text class="s" transform="translate(535.60 402.3) scale(1.08 1)" font-size="17" text-anchor="middle">80</text>
<text transform="translate(28.8 319.2) rotate(-90)" font-size="25.8">Intensity (arb. units)</text>
<text x="168.31" y="423.70" font-size="25.2">Diffraction angle, 2</text>
<text transform="translate(395.77 423.73) scale(1.12 1)" font-family="'Liberation Serif', serif" font-weight="normal" stroke="#000" stroke-width="0.3" font-size="23.4">θ</text>
<text x="413.91" y="423.20" font-size="24" font-weight="normal" stroke="#000" stroke-width="0.35">(</text>
<text x="433.26" y="423.20" font-size="24" font-weight="normal" stroke="#000" stroke-width="0.35">)</text>
<text x="422.56" y="409.60" font-size="16.5">o</text></svg>
</body></html>
